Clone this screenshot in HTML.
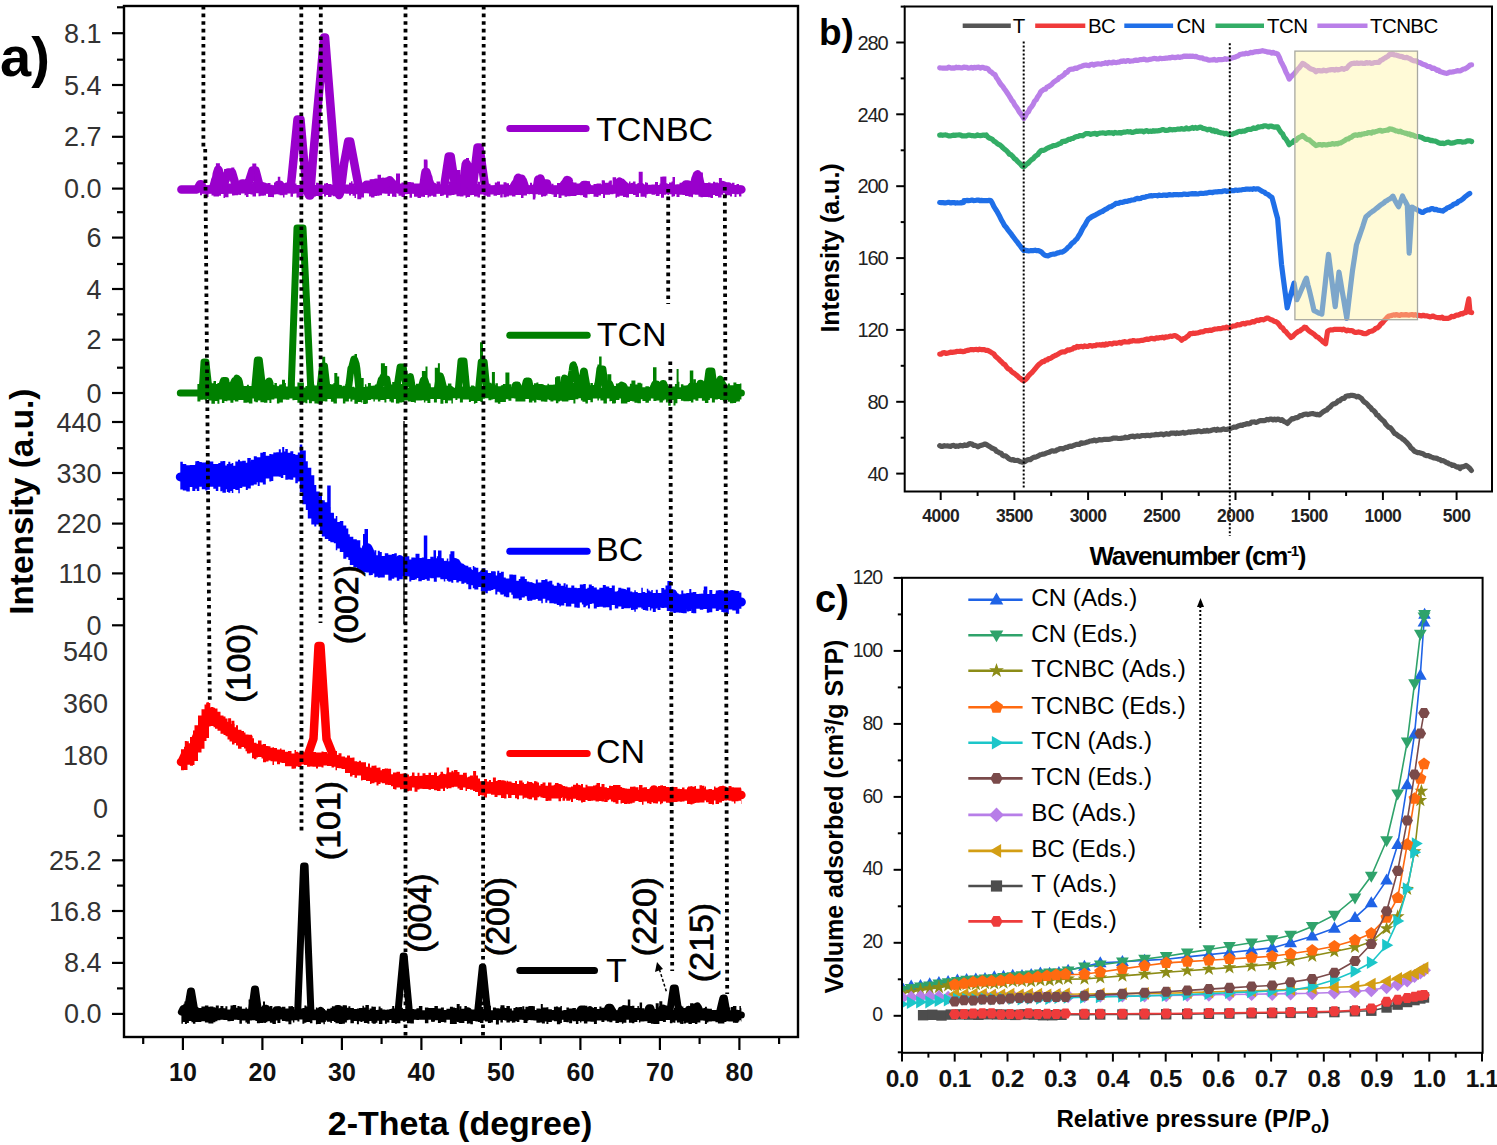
<!DOCTYPE html>
<html><head><meta charset="utf-8"><style>
html,body{margin:0;padding:0;background:#fff;width:1497px;height:1145px;overflow:hidden}
svg{display:block}
text{font-family:"Liberation Sans", sans-serif}
</style></head><body>
<svg width="1497" height="1145" viewBox="0 0 1497 1145">
<rect width="1497" height="1145" fill="#fff"/>
<polygon points="200,182.3 202,182.3 202,182.1 205.5,182.1 205.5,185.4 208.5,185.4 208.5,185.3 211.5,185.3 211.5,184.1 213.5,184.1 213.5,181.4 216.5,181.4 216.5,184.1 219,184.1 219,184.9 221,184.9 221,184.9 223.5,184.9 223.5,183 225,183 225,182.1 228.5,182.1 228.5,183.4 232,183.4 232,181.9 234.5,181.9 234.5,182.6 236.5,182.6 236.5,183.1 238,183.1 238,184.4 239.5,184.4 239.5,184.9 241,184.9 241,182.7 244.5,182.7 244.5,184.9 246,184.9 246,182.2 248.5,182.2 248.5,185.1 250.5,185.1 250.5,183.6 252.5,183.6 252.5,181.6 256,181.6 256,184.4 258.5,184.4 258.5,184 260.5,184 260.5,182.5 264,182.5 264,183.1 266,183.1 266,183.2 268,183.2 268,182.9 270.5,182.9 270.5,184.8 272.5,184.8 272.5,185.8 274,185.8 274,182.6 275.5,182.6 275.5,181.2 278,181.2 278,183.6 279.5,183.6 279.5,183 283,183 283,183 284.5,183 284.5,184.5 287.5,184.5 287.5,181.4 290.5,181.4 290.5,183.7 293,183.7 293,183.1 294.5,183.1 294.5,183.4 296.5,183.4 296.5,184.9 300,184.9 300,182.5 303.5,182.5 303.5,181.5 306.5,181.5 306.5,182.7 309,182.7 309,181.5 311,181.5 311,184.7 314.5,184.7 314.5,185.1 316,185.1 316,182.8 318,182.8 318,183 319.5,183 319.5,184.3 322.5,184.3 322.5,185.3 324,185.3 324,183.4 326,183.4 326,183.1 328,183.1 328,184 331.5,184 331.5,184.8 333,184.8 333,181.8 336,181.8 336,184.3 338,184.3 338,183.7 341.5,183.7 341.5,181.6 343.5,181.6 343.5,184.5 345.5,184.5 345.5,184.5 349,184.5 349,182.7 351,182.7 351,181.3 352.5,181.3 352.5,183.5 354.5,183.5 354.5,185.6 356,185.6 356,184.8 358.5,184.8 358.5,182 361,182 361,185.2 364,185.2 364,181.5 367.5,181.5 367.5,181.7 369,181.7 369,185.8 371,185.8 371,184.9 374.5,184.9 374.5,184.1 377,184.1 377,185.4 378.5,185.4 378.5,181.6 382,181.6 382,184.8 384.5,184.8 384.5,182.7 387.5,182.7 387.5,185 390,185 390,182.6 392,182.6 392,183.1 395,183.1 395,183.7 396.5,183.7 396.5,184.9 398.5,184.9 398.5,183.4 401.5,183.4 401.5,182.5 405,182.5 405,182.8 407.5,182.8 407.5,183.1 409.5,183.1 409.5,185.6 412,185.6 412,182.6 414,182.6 414,183.6 417.5,183.6 417.5,183.5 421,183.5 421,182.3 423.5,182.3 423.5,181.2 425,181.2 425,185.5 427.5,185.5 427.5,182.3 429,182.3 429,183.3 431,183.3 431,184.3 433,184.3 433,184.4 436.5,184.4 436.5,181.4 440,181.4 440,184.5 442.5,184.5 442.5,182 444,182 444,185.9 446,185.9 446,184.9 448.5,184.9 448.5,181.4 451.5,181.4 451.5,185.6 454.5,185.6 454.5,185.7 456.5,185.7 456.5,185.8 460,185.8 460,184.1 463.5,184.1 463.5,183.1 465.5,183.1 465.5,182.3 467,182.3 467,183.5 470,183.5 470,181.2 471.5,181.2 471.5,185.6 474,185.6 474,183.9 477.5,183.9 477.5,181.7 480,181.7 480,184.8 483.5,184.8 483.5,184.9 487,184.9 487,183.7 490.5,183.7 490.5,185.8 493.5,185.8 493.5,185.2 497,185.2 497,181.4 500,181.4 500,184.6 503.5,184.6 503.5,182.3 506.5,182.3 506.5,183.3 509,183.3 509,185.1 512,185.1 512,183.8 515.5,183.8 515.5,183.1 517.5,183.1 517.5,183.6 521,183.6 521,183.4 523.5,183.4 523.5,184.5 527,184.5 527,185.5 528.5,185.5 528.5,185.5 530,185.5 530,182.7 532,182.7 532,184.7 533.5,184.7 533.5,184.1 535.5,184.1 535.5,185.3 538,185.3 538,181.5 541,181.5 541,183.8 543,183.8 543,181.8 546,181.8 546,185.1 547.5,185.1 547.5,184.1 549.5,184.1 549.5,185.9 551.5,185.9 551.5,183.7 553.5,183.7 553.5,185.8 557,185.8 557,183.1 559.5,183.1 559.5,183.1 561,183.1 561,184.1 564.5,184.1 564.5,182.6 567,182.6 567,185.1 570.5,185.1 570.5,182.8 573,182.8 573,182.4 576.5,182.4 576.5,183.4 580,183.4 580,184.1 583,184.1 583,185.5 584.5,185.5 584.5,182.7 587.5,182.7 587.5,181.2 590,181.2 590,185.8 593.5,185.8 593.5,184 596.5,184 596.5,183.6 598.5,183.6 598.5,183.5 601,183.5 601,184.3 603,184.3 603,181.3 605,181.3 605,182.8 608.5,182.8 608.5,181.6 610,181.6 610,185.4 613.5,185.4 613.5,183.1 615.5,183.1 615.5,185.6 617,185.6 617,185.7 619.5,185.7 619.5,183.6 623,183.6 623,183.3 626,183.3 626,185.5 629,185.5 629,181.6 630.5,181.6 630.5,185.5 633,185.5 633,181.6 635.5,181.6 635.5,184.9 639,184.9 639,184.4 640.5,184.4 640.5,184.7 642,184.7 642,185 645,185 645,182.2 646.5,182.2 646.5,182.8 648,182.8 648,184.7 651.5,184.7 651.5,184.5 655,184.5 655,182 658,182 658,184.9 659.5,184.9 659.5,183.6 661,183.6 661,184.2 664,184.2 664,182.5 666,182.5 666,184.8 667.5,184.8 667.5,184 669,184 669,182.4 671.5,182.4 671.5,181.5 673.5,181.5 673.5,183.5 675,183.5 675,184.4 676.5,184.4 676.5,184.3 679.5,184.3 679.5,182.7 682.5,182.7 682.5,185.5 685,185.5 685,182.5 688.5,182.5 688.5,181.4 691.5,181.4 691.5,183.2 693,183.2 693,181.1 695,181.1 695,184 698.5,184 698.5,182.9 700.5,182.9 700.5,182.7 703,182.7 703,182.8 704.5,182.8 704.5,183.1 708,183.1 708,182.6 710.5,182.6 710.5,183.3 713,183.3 713,181.7 715,181.7 715,182.5 718,182.5 718,183.3 720,183.3 720,185.3 721.5,185.3 721.5,181.2 723,181.2 723,182.9 725,182.9 725,183.6 727,183.6 727,183.9 730,183.9 730,184.8 732,184.8 732,182.7 734.5,182.7 734.5,185.1 736.5,185.1 736.5,184.1 739,184.1 739,185.4 741.4,185.4 741.4,196.5 739,196.5 739,194.3 736.5,194.3 736.5,197.1 734.5,197.1 734.5,193.7 732,193.7 732,196.4 730,196.4 730,195.2 727,195.2 727,197.3 725,197.3 725,193.2 723,193.2 723,194.8 721.5,194.8 721.5,197.6 720,197.6 720,197.4 718,197.4 718,196 715,196 715,195 713,195 713,197.9 710.5,197.9 710.5,197.3 708,197.3 708,197 704.5,197 704.5,196.9 703,196.9 703,197.2 700.5,197.2 700.5,196.8 698.5,196.8 698.5,194.8 695,194.8 695,194.5 693,194.5 693,197.2 691.5,197.2 691.5,196.8 688.5,196.8 688.5,196.1 685,196.1 685,195 682.5,195 682.5,194.8 679.5,194.8 679.5,197 676.5,197 676.5,194.3 675,194.3 675,196.3 673.5,196.3 673.5,196.7 671.5,196.7 671.5,194.3 669,194.3 669,195 667.5,195 667.5,194.2 666,194.2 666,194.8 664,194.8 664,197.8 661,197.8 661,194 659.5,194 659.5,195.5 658,195.5 658,194.3 655,194.3 655,194.7 651.5,194.7 651.5,193.6 648,193.6 648,194.3 646.5,194.3 646.5,197.8 645,197.8 645,196.8 642,196.8 642,196.8 640.5,196.8 640.5,193.3 639,193.3 639,197 635.5,197 635.5,195 633,195 633,194 630.5,194 630.5,193.9 629,193.9 629,197.5 626,197.5 626,197.1 623,197.1 623,195.8 619.5,195.8 619.5,196.7 617,196.7 617,197.7 615.5,197.7 615.5,193.2 613.5,193.2 613.5,194.2 610,194.2 610,194.8 608.5,194.8 608.5,194.8 605,194.8 605,197.9 603,197.9 603,193.9 601,193.9 601,195.4 598.5,195.4 598.5,196.9 596.5,196.9 596.5,196.7 593.5,196.7 593.5,194.1 590,194.1 590,194.2 587.5,194.2 587.5,197.7 584.5,197.7 584.5,197 583,197 583,195.2 580,195.2 580,195.1 576.5,195.1 576.5,196 573,196 573,196.1 570.5,196.1 570.5,196.2 567,196.2 567,196.8 564.5,196.8 564.5,195.4 561,195.4 561,196 559.5,196 559.5,194.2 557,194.2 557,197.1 553.5,197.1 553.5,194.6 551.5,194.6 551.5,193.9 549.5,193.9 549.5,193.3 547.5,193.3 547.5,195.4 546,195.4 546,196.2 543,196.2 543,196.8 541,196.8 541,194.8 538,194.8 538,194.3 535.5,194.3 535.5,197.7 533.5,197.7 533.5,194.2 532,194.2 532,194.1 530,194.1 530,194.2 528.5,194.2 528.5,193.7 527,193.7 527,195.6 523.5,195.6 523.5,197.9 521,197.9 521,195 517.5,195 517.5,194.9 515.5,194.9 515.5,196.4 512,196.4 512,195.6 509,195.6 509,196.5 506.5,196.5 506.5,197.2 503.5,197.2 503.5,194.2 500,194.2 500,194.9 497,194.9 497,195.7 493.5,195.7 493.5,194.6 490.5,194.6 490.5,196.7 487,196.7 487,195.8 483.5,195.8 483.5,194.6 480,194.6 480,197.5 477.5,197.5 477.5,196.5 474,196.5 474,194.9 471.5,194.9 471.5,195.2 470,195.2 470,197 467,197 467,197.8 465.5,197.8 465.5,195.4 463.5,195.4 463.5,196.4 460,196.4 460,196.2 456.5,196.2 456.5,194.4 454.5,194.4 454.5,195.1 451.5,195.1 451.5,195.5 448.5,195.5 448.5,197.8 446,197.8 446,194.8 444,194.8 444,195.5 442.5,195.5 442.5,195.9 440,195.9 440,193.6 436.5,193.6 436.5,196.8 433,196.8 433,195.7 431,195.7 431,196.6 429,196.6 429,197.5 427.5,197.5 427.5,195.1 425,195.1 425,197.1 423.5,197.1 423.5,196.8 421,196.8 421,197.9 417.5,197.9 417.5,196.8 414,196.8 414,193.6 412,193.6 412,197.7 409.5,197.7 409.5,194.1 407.5,194.1 407.5,194.3 405,194.3 405,197 401.5,197 401.5,195.8 398.5,195.8 398.5,193.3 396.5,193.3 396.5,197 395,197 395,196.7 392,196.7 392,193.8 390,193.8 390,195.9 387.5,195.9 387.5,193.8 384.5,193.8 384.5,193.6 382,193.6 382,195.2 378.5,195.2 378.5,193.7 377,193.7 377,196.1 374.5,196.1 374.5,197.5 371,197.5 371,196.5 369,196.5 369,193.4 367.5,193.4 367.5,193.2 364,193.2 364,197.6 361,197.6 361,196 358.5,196 358.5,194.3 356,194.3 356,197.9 354.5,197.9 354.5,195.8 352.5,195.8 352.5,194.1 351,194.1 351,195.4 349,195.4 349,193.7 345.5,193.7 345.5,193.4 343.5,193.4 343.5,195.3 341.5,195.3 341.5,196.5 338,196.5 338,194.3 336,194.3 336,196.2 333,196.2 333,195.6 331.5,195.6 331.5,197 328,197 328,194.9 326,194.9 326,196.6 324,196.6 324,194.1 322.5,194.1 322.5,196.6 319.5,196.6 319.5,196.3 318,196.3 318,196 316,196 316,196.6 314.5,196.6 314.5,197.2 311,197.2 311,194.1 309,194.1 309,197.8 306.5,197.8 306.5,193.9 303.5,193.9 303.5,196.7 300,196.7 300,197.5 296.5,197.5 296.5,193.6 294.5,193.6 294.5,193.8 293,193.8 293,196.8 290.5,196.8 290.5,193.6 287.5,193.6 287.5,194.7 284.5,194.7 284.5,197.4 283,197.4 283,195.3 279.5,195.3 279.5,194.5 278,194.5 278,194.2 275.5,194.2 275.5,194.4 274,194.4 274,197.3 272.5,197.3 272.5,196.9 270.5,196.9 270.5,197.1 268,197.1 268,193.4 266,193.4 266,195.5 264,195.5 264,195.8 260.5,195.8 260.5,196.3 258.5,196.3 258.5,193.2 256,193.2 256,196.5 252.5,196.5 252.5,194.5 250.5,194.5 250.5,194.1 248.5,194.1 248.5,196.9 246,196.9 246,195.3 244.5,195.3 244.5,193.4 241,193.4 241,194.9 239.5,194.9 239.5,194.8 238,194.8 238,195.2 236.5,195.2 236.5,195.2 234.5,195.2 234.5,195.5 232,195.5 232,193.8 228.5,193.8 228.5,197.3 225,197.3 225,197.9 223.5,197.9 223.5,193.9 221,193.9 221,195.8 219,195.8 219,196.4 216.5,196.4 216.5,196.5 213.5,196.5 213.5,195.5 211.5,195.5 211.5,193.2 208.5,193.2 208.5,197 205.5,197 205.5,193.6 202,193.6 202,195.2 200,195.2" fill="#9900cc"/>
<polyline points="181.4,189.5 183,189.5 184.6,189.5 186.2,189.5 187.8,189.5 189.4,189.5 191,189.5 192.6,189.5 194.2,189.5 195.8,189.5 197,189.5 197.4,188.8 199,186.1 200.1,184.3 200.6,184.3 201.1,184.3 202.2,187.9 202.7,189.5 203.8,189.5 205.4,189.5 207,189.5 208.6,189.5 210.2,189.5 211.8,189.5 212.6,189.5 213.3,187.8 213.4,187.4 215,181.3 215.2,180.3 215.9,178.8 216.2,177.8 216.6,175.3 216.8,173.9 217.3,172.2 218.2,169.7 218.2,169.6 218.3,169.6 218.6,170.1 218.9,171.3 219.8,175.6 220.3,178.3 221,182.5 221.4,184.9 221.7,186.7 222,187.6 222.5,187.6 222.9,187 223,186.7 224.6,182.1 226.2,177.6 227.8,173.1 228,172.5 229.4,172.5 231,172.5 232,172.5 232.6,174.5 234.2,180 235.8,185.4 237,189.5 237.4,189.5 239,189.5 240.6,186.3 242,183.5 242.2,183.5 243.8,183.5 244,183.5 245.4,186.3 246.5,188.5 247,187.9 248.6,182.9 250.2,177.8 251.8,172.7 252.5,170.5 253.4,170.5 255,170.5 255.5,170.5 256.6,174.7 258.2,180.8 259.8,186.8 260,187.6 260.5,189 261.4,188.2 263,186.7 263.2,186.5 263.6,186.5 264.6,188.3 265.2,189.5 266.2,189.5 267.8,189.5 269.4,189.5 271,189.5 272.6,189.5 274.2,189.5 275.8,189.5 276.1,189.5 277.4,187.3 278.8,184.8 279,184.8 280.1,184.8 280.6,185.7 282.2,188.5 282.8,189.5 283.8,189.5 285.2,189.5 285.4,189.2 287,186.8 287.3,186.4 287.5,186.4 288.6,187.2 290.2,188.6 290.5,188.8 291.3,181.1 291.8,176.5 293.4,160.5 295,144.5 296.6,128.5 297.5,119.5 298.2,119.5 299.8,119.5 300.5,119.5 301.4,130 303,148.7 304.6,167.3 306.1,184.8 306.2,186.2 306.5,190.3 307.8,192.9 309.1,195.5 309.4,195.5 310.1,195.5 311,183.9 312.6,163.4 313.1,156.9 314.2,145 315.8,127.6 317.4,110.2 319,92.9 320.6,75.5 322.2,58.1 323.8,40.8 324.1,37.5 325.1,37.5 325.4,41.3 327,61.6 328.6,81.8 330.2,102.1 331.8,122.4 333.4,142.6 335,162.9 336.6,183.2 337.1,189.5 338.2,192.4 339.2,195.1 339.8,193.5 340.1,192.7 341.1,187.4 341.4,185 343,172.2 344.1,163.4 344.6,160.7 346.2,152.2 347.8,143.6 348.2,141.5 349.4,141.5 350.2,141.5 351,145.8 352.6,154.3 354.2,162.8 355.8,171.4 357.4,179.9 359,188.4 359.2,189.5 360.6,189.5 362,189.5 362.2,189.3 363.8,187.5 365.4,185.7 366.4,184.7 367,184.7 368.6,184.7 369,184.7 370.2,186.1 371.1,187.2 371.8,186.5 372.1,186.1 372.8,184 373,183.9 373.3,183.4 373.4,183.5 375,183.9 375.1,183.9 375.7,182.8 376.6,182.8 376.7,182.9 378.2,188.7 378.4,189.5 378.8,189.5 379.8,187.6 381.4,184.6 382.9,181.8 383,181.8 383,181.8 383.5,182.9 384.6,183.1 386.2,183.2 386.4,183.2 387.3,181.2 387.8,181.2 388.7,181.2 389.4,180.5 389.7,180.2 391,181.7 392.6,183.6 392.6,183.6 393.6,185.8 394.2,185.8 394.8,185.8 395.8,186.7 397.4,188.1 399,189.5 399,189.5 400.6,189.5 402.2,189.5 403.3,189.5 403.8,189.1 405.4,187.9 407,186.7 407.7,186.2 408.6,186.2 410.2,186.2 410.4,186.2 411.8,188 412.9,189.5 413.4,189.5 415,189.5 416.6,189.5 418.2,189.5 419.8,189.5 421.4,189.5 421.6,189.5 423,186.1 423.7,184.3 424.6,177.2 424.8,175.8 425.5,171.9 426.2,171.9 426.4,171.9 427.8,176.4 428.1,177.4 428.3,177.6 428.9,180.9 429.4,182.2 429.8,183.1 430.5,186.4 431,186.4 432.6,186.4 432.7,186.4 434.2,187.6 435.8,189 436.5,189.5 437.4,189.5 439,189.5 440.6,189.5 442.2,189.5 443.7,189.5 443.8,188.8 445.4,178.3 447,167.7 448.6,157.2 448.7,156.5 450.2,156.5 450.7,156.5 451.8,163.8 453.4,174.3 455,184.9 455.6,188.8 455.7,189.2 456.6,187 457.9,183.8 458.2,183.8 459.8,183.8 459.8,183.9 461.4,188.6 461.7,189.5 461.9,189.5 462.8,186.5 463,185.4 463.8,180.9 464.2,176 464.6,173.2 465.7,164.6 466.2,163.5 466.3,163.2 466.4,163.2 467.8,165.8 468.4,166.9 468.6,167.8 469.4,173.8 470.7,183.5 471,185.1 472.5,188.9 472.6,188.3 472.7,187.5 474.2,175.2 475.8,161.8 477.4,148.3 477.5,147.5 479,147.5 479.5,147.5 480.6,155.2 482.2,166.4 483.8,177.6 485.4,188.8 485.5,189.5 487,189.5 488.6,189.5 490.2,189.5 491.8,189.5 493.4,189.5 495,189.5 496.6,189.5 498.2,189.5 499.8,189.5 501.4,189.5 503,189.5 504.6,189.5 506.2,189.5 507.8,189.5 509.4,189.5 511,189.5 512.3,189.5 512.6,188.8 514.2,185.7 515.3,183.6 515.8,183.6 516.4,183.5 517.4,180 517.9,178.2 518.3,177.8 519,179.6 519.3,180.4 519.9,179.6 520.3,180.1 520.6,179.8 521.6,178.7 522.2,180.4 522.4,180.8 522.9,180.8 523.8,183.6 525.4,188.5 525.7,189.5 527,189.5 528.6,189.5 530.2,189.5 531.8,189.5 533.4,189.5 535,189.5 536.6,189.5 536.6,189.5 538.2,179.8 538.3,179.4 539.7,179.3 539.8,179.3 540.4,178.5 541.4,181.8 542.6,185.7 543,185.2 544.2,183.6 544.6,183.6 546.2,183.6 547,183.6 547.8,186.6 548.6,189.5 549.4,189.5 551,189.5 552.6,189.5 554.2,189.5 555.8,189.5 557.4,189.5 559,189.5 560.6,189.5 561.2,189.5 562.2,187.7 563.8,184.8 564.4,183.7 565.2,183.7 565.4,183.3 566.8,180.1 567,180.1 568.6,180.6 568.8,180.7 568.8,180.8 569,182.4 570.2,187.8 570.6,189.5 571.8,189.5 573.4,189.5 575,189.5 576.6,189.5 578.2,189.5 579.8,189.5 580,189.5 581.4,187.8 583,185.8 583.5,185.1 584.6,185.1 586.2,185.1 586.2,185.1 587.8,187.7 588.9,189.5 589.4,189.5 591,189.5 592.6,189.5 594.2,189.5 595.8,189.5 597.4,189.5 599,189.5 600.6,189.5 602.2,189.5 603.8,189.5 605.4,189.5 607,189.5 608.6,189.5 610.2,189.5 611.8,189.5 613.4,189.5 615,189.5 615,189.5 615.2,189.4 616.6,186.2 617.4,184.3 618.2,183.2 619,182.1 619.5,181.7 619.8,181.9 621.4,182.6 621.6,182.7 621.7,182.7 623,184.2 623.5,184.8 624.6,185.6 625.3,186.1 626,187.2 626.2,187.2 627,187.2 627.8,187.7 628.4,188.1 629.4,188.1 630.5,188.1 631,187.8 632.3,187 632.6,187 632.6,187 634.2,188.8 634.8,189.5 635.8,189.5 636.2,189.5 637.4,188.6 639,187.5 639.8,186.9 640.6,186.9 641,186.9 642.2,187.9 643.8,189.2 644.2,189.5 645.4,189.5 647,189.5 648.6,189.5 650.2,189.5 651.8,189.5 653.4,189.5 655,189.5 656.6,189.5 658.2,189.5 659.8,189.5 661.4,189.5 663,189.5 663.5,189.5 664.6,188.2 665.4,187.3 665.5,187.3 666.2,187.8 667.8,188.8 668.8,189.5 669.4,189.5 671,189.5 672.6,189.5 674.2,189.5 675.8,189.5 677.4,189.5 679,189.5 680.6,189.5 681.2,189.5 682.2,188.4 683.8,186.6 685.4,184.9 685.6,184.6 687,184.6 688,184.6 688.6,185.8 690.2,188.9 690.5,189.5 691.8,189.5 692.1,189.5 693.4,186.8 693.9,185.8 695,181.2 695,181.1 695.4,179.1 696.6,175.9 696.9,174.9 697.6,174.5 698.2,175.3 698.4,175.6 698.7,176.5 699.8,181.7 699.9,182.2 700.9,187.6 701.1,188.4 701.4,188.7 702.2,189.5 703,189.5 704.6,189.5 706.2,189.5 707.8,189.5 709.4,189.5 711,189.5 712.6,189.5 714.2,189.5 715.8,189.5 717.4,189.5 719,189.5 720.5,189.5 720.6,189.4 721.5,187.4 722.1,185.5 722.2,185.5 722.7,185.1 723.8,185.6 725.4,186.4 725.8,186.5 727,186.5 728.5,186.5 728.6,186.6 730.2,188.1 731.7,189.5 731.8,189.5 733.4,189.5 735,189.5 736.6,189.5 738.2,189.5 739.8,189.5 741.4,189.5" fill="none" stroke="#9900cc" stroke-width="8.5" stroke-linejoin="round" stroke-linecap="round" stroke-linejoin="miter" stroke-miterlimit="2.5"/>
<path d="M377 188.8h2.5v6.9h-2.5zM279.8 186.5h2.5v7.4h-2.5zM672.5 189.5h2.5v-12.4h-2.5zM375 182.8h3v6.9h-3zM215.9 170.4h4v-7.2h-4zM638.7 186.9h4v-15.2h-4zM396 188.6h4v-15h-4zM698.7 185.3h3.5v10.4h-3.5zM558.5 189.5h3v8.4h-3zM456.8 183.8h3.5v-13.7h-3.5zM222.1 185.8h2.5v6.5h-2.5zM460.8 189.1h2.5v-7.2h-2.5zM423.8 171.9h3.5v-12.3h-3.5zM718.9 189.5h3v-11.5h-3zM655.8 189.5h3.5v6.6h-3.5zM357.3 189.5h4v9.7h-4zM224.1 180.8h2v-11.9h-2zM601.7 189.5h3v-9.2h-3zM532.8 189.5h2.5v10.1h-2.5zM612.6 189.5h3.5v-12.3h-3.5zM252.3 170.5h4v-7.1h-4zM231.3 175.3h3v-7.9h-3zM643.8 189.5h2.5v6.5h-2.5zM662.4 188.5h4v-11.9h-4zM609.4 189.5h2.5v-8.9h-2.5zM686.6 185.8h4v8.8h-4zM254.1 170.5h2.5v9.3h-2.5zM500.2 189.5h2.5v7.9h-2.5zM494.8 189.5h2.5v-7.1h-2.5zM225.4 174.2h4v7.5h-4zM277.8 184.8h2.5v-8.1h-2.5zM466 165.2h3v-7.1h-3zM631 187.2h2v6.8h-2zM202.5 189.5h2.5v-7.3h-2.5zM699.4 188.4h3.5v-15.9h-3.5zM660.3 189.5h4v-12.7h-4zM377.5 188.6h3.5v-13.8h-3.5zM369.6 187.2h3v-8h-3zM425.1 171.9h2.5v-11.3h-2.5zM580.9 186.2h3.5v6.5h-3.5z" fill="#9900cc"/>
<polygon points="197.4,383.9 200.4,383.9 200.4,386.2 202.9,386.2 202.9,383.7 204.9,383.7 204.9,387.6 206.9,387.6 206.9,387.8 208.4,387.8 208.4,382.6 211.4,382.6 211.4,386.6 213.4,386.6 213.4,382.8 214.9,382.8 214.9,383.9 217.4,383.9 217.4,383.1 219.4,383.1 219.4,385.6 221.9,385.6 221.9,387.1 224.4,387.1 224.4,387.4 225.9,387.4 225.9,387.6 227.4,387.6 227.4,382.3 230.4,382.3 230.4,385.3 233.4,385.3 233.4,382.5 234.9,382.5 234.9,383.8 238.4,383.8 238.4,384.8 241.9,384.8 241.9,385.7 243.4,385.7 243.4,386 246.9,386 246.9,384.8 248.9,384.8 248.9,386 252.4,386 252.4,382.4 253.9,382.4 253.9,385.6 255.4,385.6 255.4,386.7 257.9,386.7 257.9,383.6 260.4,383.6 260.4,383.5 261.9,383.5 261.9,386.6 263.9,386.6 263.9,387.5 267.4,387.5 267.4,382.4 269.4,382.4 269.4,383.3 271.4,383.3 271.4,385.5 274.4,385.5 274.4,382.9 276.9,382.9 276.9,387 279.4,387 279.4,384.4 282.9,384.4 282.9,383 285.9,383 285.9,386.6 289.4,386.6 289.4,384 292.4,384 292.4,382.5 294.4,382.5 294.4,386.4 297.4,386.4 297.4,382.5 300.9,382.5 300.9,382.5 303.9,382.5 303.9,387.6 305.4,387.6 305.4,386 307.4,386 307.4,384.6 308.9,384.6 308.9,384.9 311.9,384.9 311.9,384.6 314.4,384.6 314.4,385.5 317.4,385.5 317.4,384.5 319.9,384.5 319.9,384.7 322.9,384.7 322.9,384.1 324.9,384.1 324.9,386.7 327.4,386.7 327.4,384 330.9,384 330.9,386.7 333.4,386.7 333.4,383 336.9,383 336.9,385.5 340.4,385.5 340.4,387.3 342.9,387.3 342.9,385.8 345.4,385.8 345.4,383.9 348.9,383.9 348.9,386 350.4,386 350.4,387.1 352.4,387.1 352.4,386.8 354.4,386.8 354.4,387.4 357.9,387.4 357.9,385.2 360.9,385.2 360.9,385.3 362.4,385.3 362.4,386.9 364.9,386.9 364.9,384.2 366.4,384.2 366.4,386.6 367.9,386.6 367.9,383 370.9,383 370.9,385.8 373.4,385.8 373.4,385.6 374.9,385.6 374.9,384.6 377.9,384.6 377.9,383.8 380.4,383.8 380.4,382.9 382.9,382.9 382.9,386.2 384.4,386.2 384.4,385.3 386.4,385.3 386.4,385.4 389.4,385.4 389.4,386 390.9,386 390.9,384.5 393.9,384.5 393.9,384.4 395.9,384.4 395.9,383.7 399.4,383.7 399.4,384.1 402.4,384.1 402.4,382.7 404.4,382.7 404.4,384.1 407.9,384.1 407.9,387.8 410.9,387.8 410.9,383.2 414.4,383.2 414.4,385.3 415.9,385.3 415.9,383.7 418.4,383.7 418.4,383.8 421.9,383.8 421.9,383.4 423.9,383.4 423.9,386.3 425.4,386.3 425.4,386.8 427.4,386.8 427.4,385.3 430.4,385.3 430.4,387.2 433.9,387.2 433.9,387 436.9,387 436.9,383.8 440.4,383.8 440.4,382.6 443.4,382.6 443.4,384.3 444.9,384.3 444.9,386.7 447.9,386.7 447.9,383.5 451.4,383.5 451.4,387.8 452.9,387.8 452.9,387.7 455.4,387.7 455.4,387.5 457.4,387.5 457.4,385.3 459.9,385.3 459.9,386.5 462.9,386.5 462.9,385.2 466.4,385.2 466.4,386.6 468.9,386.6 468.9,386.7 470.9,386.7 470.9,385.4 473.9,385.4 473.9,386.2 475.4,386.2 475.4,386.9 477.4,386.9 477.4,384.1 480.4,384.1 480.4,387.6 482.9,387.6 482.9,384.3 484.9,384.3 484.9,382.8 488.4,382.8 488.4,382.7 491.4,382.7 491.4,384.8 493.4,384.8 493.4,387.3 495.4,387.3 495.4,383.3 497.9,383.3 497.9,386.3 500.4,386.3 500.4,387.6 502.9,387.6 502.9,383.9 505.9,383.9 505.9,386 508.4,386 508.4,384.2 511.4,384.2 511.4,387.3 513.9,387.3 513.9,383.5 515.4,383.5 515.4,384 518.4,384 518.4,387 521.9,387 521.9,385.8 525.4,385.8 525.4,387.1 528.9,387.1 528.9,383.5 532.4,383.5 532.4,385.1 533.9,385.1 533.9,383.2 536.4,383.2 536.4,382.5 538.4,382.5 538.4,383.9 540.9,383.9 540.9,385.1 544.4,385.1 544.4,385.3 547.4,385.3 547.4,383.8 548.9,383.8 548.9,384.8 550.4,384.8 550.4,384.8 553.4,384.8 553.4,384.4 555.9,384.4 555.9,386.1 558.4,386.1 558.4,384.4 559.9,384.4 559.9,387 561.9,387 561.9,382.5 565.4,382.5 565.4,383.6 568.4,383.6 568.4,383.2 569.9,383.2 569.9,383.1 573.4,383.1 573.4,382.7 575.4,382.7 575.4,386.9 578.4,386.9 578.4,382.8 580.9,382.8 580.9,383.7 582.4,383.7 582.4,383.2 585.4,383.2 585.4,384 587.9,384 587.9,385.3 590.4,385.3 590.4,382.9 592.9,382.9 592.9,385.1 594.4,385.1 594.4,382.8 597.4,382.8 597.4,385.2 598.9,385.2 598.9,383 600.4,383 600.4,387.7 603.4,387.7 603.4,387.3 606.9,387.3 606.9,386.9 609.4,386.9 609.4,386.4 610.9,386.4 610.9,384.7 612.4,384.7 612.4,386 615.9,386 615.9,383.4 619.4,383.4 619.4,385.5 620.9,385.5 620.9,386.5 624.4,386.5 624.4,387.6 627.4,387.6 627.4,386.6 629.9,386.6 629.9,383.7 632.4,383.7 632.4,384.2 634.4,384.2 634.4,384.4 637.4,384.4 637.4,382.7 640.9,382.7 640.9,383.5 642.4,383.5 642.4,387.3 645.4,387.3 645.4,386.2 648.9,386.2 648.9,387.1 650.9,387.1 650.9,386.5 653.4,386.5 653.4,383.2 656.4,383.2 656.4,385.6 659.4,385.6 659.4,385.4 662.9,385.4 662.9,387.4 664.4,387.4 664.4,383.5 665.9,383.5 665.9,384.2 667.9,384.2 667.9,386.2 671.4,386.2 671.4,386.6 674.9,386.6 674.9,384 677.4,384 677.4,387.2 680.9,387.2 680.9,384.3 683.4,384.3 683.4,385.4 686.4,385.4 686.4,385.2 689.4,385.2 689.4,383.4 690.9,383.4 690.9,387.5 693.4,387.5 693.4,382.9 695.4,382.9 695.4,382.8 696.9,382.8 696.9,383.3 698.4,383.3 698.4,382.6 701.9,382.6 701.9,385.9 704.9,385.9 704.9,382.4 708.4,382.4 708.4,384 709.9,384 709.9,383.4 711.9,383.4 711.9,384.6 714.9,384.6 714.9,383.1 717.9,383.1 717.9,384.7 719.9,384.7 719.9,384.5 722.9,384.5 722.9,384.2 726.4,384.2 726.4,385.6 727.9,385.6 727.9,383.5 729.9,383.5 729.9,385.3 733.4,385.3 733.4,382.6 736.4,382.6 736.4,384.1 739.9,384.1 739.9,383.5 741.4,383.5 741.4,399.5 739.9,399.5 739.9,401.5 736.4,401.5 736.4,401.9 733.4,401.9 733.4,403.3 729.9,403.3 729.9,401.7 727.9,401.7 727.9,399.9 726.4,399.9 726.4,401.6 722.9,401.6 722.9,400 719.9,400 719.9,399.1 717.9,399.1 717.9,399.6 714.9,399.6 714.9,402.6 711.9,402.6 711.9,398.2 709.9,398.2 709.9,400.1 708.4,400.1 708.4,403.1 704.9,403.1 704.9,400.8 701.9,400.8 701.9,398.2 698.4,398.2 698.4,400.8 696.9,400.8 696.9,400.8 695.4,400.8 695.4,399.6 693.4,399.6 693.4,402.6 690.9,402.6 690.9,401 689.4,401 689.4,401.3 686.4,401.3 686.4,401.2 683.4,401.2 683.4,400.7 680.9,400.7 680.9,398.9 677.4,398.9 677.4,403.2 674.9,403.2 674.9,400 671.4,400 671.4,400.9 667.9,400.9 667.9,402.5 665.9,402.5 665.9,399.4 664.4,399.4 664.4,400.6 662.9,400.6 662.9,402.6 659.4,402.6 659.4,400.5 656.4,400.5 656.4,400.9 653.4,400.9 653.4,398.6 650.9,398.6 650.9,400.7 648.9,400.7 648.9,402.7 645.4,402.7 645.4,400.9 642.4,400.9 642.4,399.3 640.9,399.3 640.9,403.2 637.4,403.2 637.4,402.8 634.4,402.8 634.4,401.4 632.4,401.4 632.4,401.1 629.9,401.1 629.9,401.9 627.4,401.9 627.4,403.5 624.4,403.5 624.4,403.5 620.9,403.5 620.9,398.5 619.4,398.5 619.4,400 615.9,400 615.9,403.1 612.4,403.1 612.4,401.1 610.9,401.1 610.9,401.2 609.4,401.2 609.4,398.4 606.9,398.4 606.9,403.4 603.4,403.4 603.4,400.6 600.4,400.6 600.4,398.4 598.9,398.4 598.9,400.6 597.4,400.6 597.4,398.5 594.4,398.5 594.4,398.5 592.9,398.5 592.9,402.3 590.4,402.3 590.4,400.1 587.9,400.1 587.9,403.4 585.4,403.4 585.4,401.8 582.4,401.8 582.4,400.6 580.9,400.6 580.9,398.3 578.4,398.3 578.4,399.2 575.4,399.2 575.4,403.5 573.4,403.5 573.4,399.9 569.9,399.9 569.9,400.2 568.4,400.2 568.4,401.6 565.4,401.6 565.4,401.5 561.9,401.5 561.9,400.7 559.9,400.7 559.9,401.5 558.4,401.5 558.4,403.3 555.9,403.3 555.9,400.5 553.4,400.5 553.4,401.5 550.4,401.5 550.4,400.3 548.9,400.3 548.9,399.6 547.4,399.6 547.4,401.7 544.4,401.7 544.4,401.4 540.9,401.4 540.9,400.2 538.4,400.2 538.4,399.8 536.4,399.8 536.4,402.5 533.9,402.5 533.9,400.7 532.4,400.7 532.4,402.6 528.9,402.6 528.9,399.1 525.4,399.1 525.4,401.6 521.9,401.6 521.9,401.4 518.4,401.4 518.4,401.5 515.4,401.5 515.4,398.4 513.9,398.4 513.9,398.3 511.4,398.3 511.4,400.7 508.4,400.7 508.4,399.2 505.9,399.2 505.9,401.9 502.9,401.9 502.9,401.9 500.4,401.9 500.4,403.8 497.9,403.8 497.9,400.8 495.4,400.8 495.4,399 493.4,399 493.4,399.6 491.4,399.6 491.4,400.2 488.4,400.2 488.4,398.2 484.9,398.2 484.9,398.8 482.9,398.8 482.9,402.1 480.4,402.1 480.4,401.1 477.4,401.1 477.4,403 475.4,403 475.4,403.8 473.9,403.8 473.9,400.9 470.9,400.9 470.9,401.9 468.9,401.9 468.9,399.6 466.4,399.6 466.4,399.5 462.9,399.5 462.9,402.4 459.9,402.4 459.9,398.6 457.4,398.6 457.4,400 455.4,400 455.4,398.3 452.9,398.3 452.9,403.6 451.4,403.6 451.4,400.4 447.9,400.4 447.9,403.3 444.9,403.3 444.9,400 443.4,400 443.4,403.7 440.4,403.7 440.4,399.1 436.9,399.1 436.9,402.5 433.9,402.5 433.9,398.9 430.4,398.9 430.4,403 427.4,403 427.4,400.8 425.4,400.8 425.4,402.4 423.9,402.4 423.9,400.2 421.9,400.2 421.9,400.5 418.4,400.5 418.4,400.6 415.9,400.6 415.9,402.8 414.4,402.8 414.4,402.1 410.9,402.1 410.9,401.4 407.9,401.4 407.9,400.5 404.4,400.5 404.4,402.1 402.4,402.1 402.4,402.6 399.4,402.6 399.4,403.6 395.9,403.6 395.9,399.1 393.9,399.1 393.9,402.5 390.9,402.5 390.9,401.4 389.4,401.4 389.4,398.9 386.4,398.9 386.4,402.5 384.4,402.5 384.4,399.9 382.9,399.9 382.9,400 380.4,400 380.4,401.4 377.9,401.4 377.9,399.5 374.9,399.5 374.9,401.4 373.4,401.4 373.4,399.3 370.9,399.3 370.9,400.1 367.9,400.1 367.9,403.5 366.4,403.5 366.4,403.3 364.9,403.3 364.9,399.9 362.4,399.9 362.4,402.5 360.9,402.5 360.9,402 357.9,402 357.9,403.7 354.4,403.7 354.4,399.8 352.4,399.8 352.4,401.4 350.4,401.4 350.4,398.8 348.9,398.8 348.9,401.6 345.4,401.6 345.4,403.6 342.9,403.6 342.9,398.4 340.4,398.4 340.4,398.6 336.9,398.6 336.9,403.5 333.4,403.5 333.4,401.8 330.9,401.8 330.9,398.9 327.4,398.9 327.4,401.5 324.9,401.5 324.9,401.2 322.9,401.2 322.9,403.2 319.9,403.2 319.9,403.7 317.4,403.7 317.4,403.5 314.4,403.5 314.4,401.3 311.9,401.3 311.9,403.3 308.9,403.3 308.9,399.8 307.4,399.8 307.4,403.3 305.4,403.3 305.4,402.5 303.9,402.5 303.9,402.8 300.9,402.8 300.9,402.7 297.4,402.7 297.4,399.9 294.4,399.9 294.4,400.2 292.4,400.2 292.4,398.6 289.4,398.6 289.4,399.7 285.9,399.7 285.9,399.6 282.9,399.6 282.9,402.6 279.4,402.6 279.4,403.6 276.9,403.6 276.9,398.5 274.4,398.5 274.4,399.5 271.4,399.5 271.4,402.9 269.4,402.9 269.4,400.2 267.4,400.2 267.4,402.8 263.9,402.8 263.9,402.3 261.9,402.3 261.9,402.3 260.4,402.3 260.4,400.6 257.9,400.6 257.9,402.2 255.4,402.2 255.4,401.5 253.9,401.5 253.9,398.6 252.4,398.6 252.4,403.5 248.9,403.5 248.9,402.5 246.9,402.5 246.9,402.7 243.4,402.7 243.4,399.9 241.9,399.9 241.9,400.1 238.4,400.1 238.4,401.5 234.9,401.5 234.9,400.3 233.4,400.3 233.4,402.7 230.4,402.7 230.4,400.5 227.4,400.5 227.4,401.3 225.9,401.3 225.9,401.1 224.4,401.1 224.4,403.1 221.9,403.1 221.9,399.5 219.4,399.5 219.4,403.7 217.4,403.7 217.4,401.1 214.9,401.1 214.9,403.8 213.4,403.8 213.4,403.7 211.4,403.7 211.4,400.5 208.4,400.5 208.4,399.1 206.9,399.1 206.9,400.6 204.9,400.6 204.9,399.4 202.9,399.4 202.9,399.7 200.4,399.7 200.4,401.6 197.4,401.6" fill="#008000"/>
<polyline points="180.3,393 181.9,393 183.5,393 185.1,393 186.7,393 188.3,393 189.9,393 191.5,393 193.1,393 194.7,393 196.3,393 197.9,393 199.5,393 201.1,393 202,393 202.7,382.2 204,362 204.3,362 205.9,362 206,362 206.7,369.4 207.5,376.3 209,389.6 209.1,389.5 210.7,387.1 210.9,386.8 212.3,386.8 213.1,386.8 213.9,389.8 214.8,393 215.5,393 217.1,393 218.7,393 219.3,393 220.3,390 221.9,385.2 223.4,380.5 223.5,380.5 225.1,380.5 225.8,380.5 226.7,387.8 227.3,392.6 227.4,392.9 228.3,391.2 229.9,388.3 230,388.1 231.4,388.1 231.5,387.8 231.5,387.7 233.1,383.9 234.4,380.8 234.7,381.2 234.8,381.3 235.3,381.3 236.3,379.3 236.8,378.2 237.9,379.2 238.7,379.8 239.4,381.9 239.5,382.5 240.7,389 241.1,389.8 242.5,393 242.7,393 244.3,393 245.9,393 247.5,393 249.1,393 250.7,393 252.3,393 253.9,393 254.3,393 255.5,379.8 257.1,362.2 257.3,360 258.7,360 259.3,360 260.3,368.2 261.9,381.4 263.3,393 263.5,393 264.1,393 265.1,391.1 265.7,389.9 266.7,386.4 267.8,382.7 268.3,381.9 268.9,381 269.3,381 269.9,382.8 269.9,382.9 270.9,390.5 271.5,393 272.2,393 273.1,390.8 273.9,388.8 274.7,388.8 275.6,388.8 276.3,389.9 277.8,392.3 277.9,392.3 278.2,392.3 279.5,390.5 281.1,388.2 281.1,388.2 282.7,388.2 282.7,388.2 284.3,390.2 285.9,392.2 286.5,393 287.5,393 289.1,393 290.7,393 291,393 292.3,357.2 293.9,313.3 295.5,269.2 297,228 297.1,228 298.7,228 300.3,228 301.9,228 303,228 303.5,238.3 305.1,271.3 306.7,304.3 308.3,337.3 309.9,370.3 311,393 311.5,393 313.1,393 314.7,393 316.3,393 317.9,393 319.5,393 321.1,378.6 322.5,366 322.7,366 324.3,366 324.5,366 325.9,378.6 327.5,393 329,393 329.1,392.9 330.7,390 331.9,387.7 332.3,387.7 333.9,387.7 334.5,387.7 335.3,389.5 335.5,389.7 336.8,391.3 337.1,391 338.7,389.2 339.6,388.3 339.9,388.3 340.3,389.2 341.8,393 341.9,393 343.5,393 345.1,393 346.7,393 347.9,393 348.3,389.8 349.9,377 350.2,374.4 350.9,368.3 351.5,367.6 351.7,367.4 353.1,362 353.9,359 354.6,359.7 354.7,359.8 355,360.6 356.2,364.2 356.3,364.9 356.9,368.6 357.9,379.1 358.9,389.7 359.4,392.9 359.5,393 359.5,393 361.1,393 362.7,393 364.3,393 365.9,393 367.5,393 369.1,393 370.7,393 372.3,393 373.9,393 375.5,393 377.1,393 377.6,393 378.7,388.9 380.3,383.1 381.3,379.4 381.9,379.3 382.2,379.3 383.1,376.5 383.5,377.9 383.6,378.2 385.1,380.6 385.1,380.8 385.2,381.4 386.7,379.3 386.8,379.1 386.9,379.1 387.8,384.7 388.3,388.3 388.5,389.5 389.9,392.2 390.4,393 391.5,393 393.1,393 394.7,393 396.1,393 396.3,391.7 397.9,381.3 399.5,370.9 400.1,367 401.1,367 402.7,367 403.1,367 404.3,374.8 405.8,384.5 405.9,384.5 407.1,383.2 407.5,380.2 407.6,379.3 408.8,379.3 409.1,378.7 410.4,376.6 410.7,378.3 411.2,380.7 412.3,388.4 412.4,389 413.5,389 413.9,389.6 415.5,392 416.2,393 417.1,393 418.7,393 419.8,393 420.3,391.2 421.9,385.1 423.3,379.9 423.5,379.9 424.8,379.9 425.1,380.9 426.7,386 428.3,391.1 428.9,393 429.9,393 431.5,393 433.1,393 434.7,393 436.3,393 436.4,393 437.2,389.7 437.9,385.3 439,378.5 439.5,377.5 440.3,375.8 440.4,375.9 441.1,377.7 442.7,384 444.3,390.2 444.7,391.9 445.2,392.6 445.5,392.6 445.9,392.1 447.5,390.1 448.5,388.9 449.1,388.9 450.1,388.9 450.7,389.5 452.3,391.2 453.9,392.9 454,393 455.5,393 457.1,393 458,393 458.7,385.5 460.3,368.5 461,361 461.9,361 463.5,361 464,361 465.1,372.7 466.7,389.8 467,393 468.3,393 469.9,393 471.5,393 473.1,393 474.7,393 476.3,393 477.9,393 478.2,393 479.5,379.6 481.1,363 481.2,362 482.7,362 484.2,362 484.3,363 485.9,379.6 486.3,383.5 487.2,391.5 487.5,391 489.1,388.4 490,387 490.7,387 492.3,387 492.8,387 493.9,389.2 495.5,392.3 495.8,393 497.1,393 498.7,393 500.3,393 501.4,393 501.9,391.6 503,388.4 503.2,388.4 503.5,388.8 505.1,391 506.6,393 506.7,393 508.3,393 509.9,393 511.5,393 513.1,393 513.3,393 514.7,387.5 515.4,385 516.3,385 517.6,385 517.9,385.9 519.5,390.8 520.2,393 521.1,393 522.7,393 523.3,393 524.3,389 525.9,382.7 526.3,381.1 527.5,381.1 528.9,381.1 529.1,381.9 530.7,389.6 531.4,393 532.3,393 533.9,393 535.5,393 536.3,393 537.1,391.4 538.7,388.4 539.2,387.4 540.3,387.4 541.8,387.4 541.9,387.5 543.5,389.6 545.1,391.7 546.1,393 546.7,393 548.3,393 549.9,393 551.5,393 553.1,393 554.7,393 554.7,393 556.3,388.3 556.3,388.3 557.1,388.3 557.9,389.5 559.5,391.8 560.2,392.8 560.3,392.7 561.1,391.2 562.4,388.9 562.5,387.7 562.7,386.7 564.2,379.1 564.3,378.6 564.5,378 565.9,380.5 565.9,380.8 566.6,387.3 567.3,391.9 567.5,392.7 567.5,392.7 567.8,392.3 569.1,386.8 569.7,384.3 570.5,379.3 570.7,378.6 570.7,378.4 571.1,375.9 572.2,370.3 572.3,369.3 572.7,366.4 573.1,365 573.1,365 573.4,364.9 573.9,366.3 574.6,368.1 575.5,373.3 575.6,374 575.7,374.2 575.8,375 576.3,377.5 576.4,378 577.1,381 578.4,387 578.6,387 578.7,387.1 579.6,389.4 580.3,388.9 581,388.3 581,388.2 581.9,382.4 583.5,371.4 583.5,371.2 583.6,371 584.1,371 584.3,371.3 585.1,376.1 586.7,385.2 587.5,389.8 588.3,392.2 588.5,393 589.9,393 591.5,393 593.1,393 594.7,393 596.3,393 596.9,393 597.9,385 599.5,372.2 599.9,369 601.1,369 602.7,369 602.9,369 604.3,380.2 605.9,393 606.4,393 607.5,389.4 609.1,384 609.1,383.8 609.7,383.8 610.7,386.3 612.3,390.5 613.3,393 613.9,393 615.5,393 616.7,393 617.1,392.4 618.7,390.1 619.1,389.5 620.2,386.6 620.3,386.5 621.6,385.1 621.9,385.2 623.5,385.9 623.5,385.9 624.4,387.4 624.9,388.8 625.1,389.1 626.7,391.3 627.9,393 628.3,393 629.9,393 631.5,393 633.1,393 634.7,393 636.3,393 637.9,393 639.5,393 641.1,393 642.7,393 644.3,393 645.9,393 647.5,393 649.1,393 650.6,393 650.7,392.9 652.3,389.4 653.9,385.9 654.7,384 655.5,384 656.9,384 657.1,384.5 658.3,387 658.7,387 660.3,386.9 661.1,386.8 661.9,385.1 662.7,383.4 663.5,383.4 663.6,383.4 665.1,387.6 666.7,392.1 667,393 668.3,393 669.9,393 671.5,393 673.1,393 674.7,393 676.3,393 677.9,393 679.5,393 681.1,393 682.7,393 684.3,393 685.9,393 687.5,393 687.5,393 689.1,390 690.7,386.9 691.1,386.1 692.3,386.1 693.2,386.1 693.9,387.3 695.5,390.1 696.9,392.6 697.1,392.4 697.1,392.4 698.7,387.9 700.3,383.4 700.3,383.3 700.9,383.3 701.9,388 703,393 703.5,393 705.1,393 705.9,393 706.7,387.1 708.3,375.4 708.9,371 709.9,371 711.5,371 711.9,371 713.1,379.8 714.7,391.5 714.9,393 715.4,393 716.3,391.5 717.9,388.9 718.7,387.6 719.5,381.7 719.5,381.6 719.6,381.1 720.2,379.1 721.1,381 722.7,384.5 722.7,384.5 723.1,384.5 724.3,386.9 725.9,389.9 727.5,393 727.5,393 729.1,393 730.7,393 732.3,393 733.9,393 735.5,393 737.1,393 738.7,393 740.3,393 741.4,393" fill="none" stroke="#008000" stroke-width="7" stroke-linejoin="round" stroke-linecap="round" stroke-linejoin="miter" stroke-miterlimit="2.5"/>
<path d="M380.9 377h4v-13.7h-4zM381.4 376.7h3.5v9.5h-3.5zM205.9 379.9h4v8.6h-4zM732.6 393h3.5v10h-3.5zM491.9 388.1h3v-16.2h-3zM559.8 390.9h3v8.5h-3zM677.4 393h2v-11.3h-2zM434.8 391.5h4v-23.8h-4zM428.2 393h2.5v-9.5h-2.5zM668.2 393h2.5v12.7h-2.5zM480 362h3v-19.7h-3zM658.5 386.9h3.5v8.5h-3.5zM555 388.5h2.5v-11.2h-2.5zM322.2 366h3v-9.3h-3zM660 385h4v8.5h-4zM334.3 390.1h3v-17.1h-3zM676.6 393h2v-23.9h-2zM421.9 379.9h4v-9h-4zM632.1 393h2v-11.7h-2zM612 393h3.5v10.5h-3.5zM619.1 385.6h4v9.7h-4zM537 388.7h3v11.1h-3zM282 389.2h3v-9.4h-3zM494.7 393h4v9.5h-4zM693.4 388.5h2.5v-9.2h-2.5zM631.4 393h4v-12.5h-4zM403.6 379.8h3v-12.4h-3zM594.4 393h2v-9.1h-2zM213.5 392.8h2.5v-11.7h-2.5zM363.1 393h3.5v11.1h-3.5zM528.7 388.1h3.5v10.2h-3.5zM260.9 383.5h2.5v14.4h-2.5zM392.2 393h3v-10.9h-3zM659.7 386h3.5v13.3h-3.5zM689.8 386.1h3.5v-15.6h-3.5zM584.2 376.7h2v10.9h-2zM354.5 363h2.5v-9.1h-2.5zM384.7 380.3h2.5v-14.4h-2.5zM607.3 383.8h4v-9.6h-4zM359.7 393h4v-14.9h-4zM505.4 393h4v-20.6h-4zM425.5 385.4h2v-18.9h-2zM335.7 390.6h3.5v-14.1h-3.5zM653 384h3.5v-16.7h-3.5zM673.5 393h2v12.5h-2zM556.3 390.1h4v-13.9h-4zM597.5 374h3.5v-9.5h-3.5zM599.1 369h2.5v-12.5h-2.5zM437.9 379.2h2v-16h-2zM690.8 386.1h2.5v-9.1h-2.5z" fill="#008000"/>
<polygon points="180.3,461.7 182.8,461.7 182.8,463.9 186.3,463.9 186.3,465.3 189.8,465.3 189.8,465.1 192.3,465.1 192.3,465 195.3,465 195.3,461.2 196.8,461.2 196.8,461 199.3,461 199.3,461.9 201.8,461.9 201.8,462.4 205.3,462.4 205.3,462.2 207.3,462.2 207.3,461 209.8,461 209.8,461.5 213.3,461.5 213.3,463.9 215.8,463.9 215.8,463.9 218.3,463.9 218.3,463.1 220.3,463.1 220.3,461.3 222.8,461.3 222.8,461.1 225.3,461.1 225.3,465.5 226.8,465.5 226.8,464 228.3,464 228.3,461.8 230.3,461.8 230.3,463.8 231.8,463.8 231.8,462.9 233.3,462.9 233.3,465.8 235.3,465.8 235.3,461.4 238.3,461.4 238.3,463.4 239.8,463.4 239.8,461.2 242.3,461.2 242.3,460.8 245.8,460.8 245.8,462.7 247.8,462.7 247.8,461.7 250.8,461.7 250.8,459.7 253.8,459.7 253.8,456.3 256.8,456.3 256.8,457.3 260.3,457.3 260.3,452.8 262.8,452.8 262.8,452 265.8,452 265.8,455.8 269.3,455.8 269.3,453.9 271.3,453.9 271.3,454.2 273.3,454.2 273.3,452.4 276.3,452.4 276.3,452.3 278.8,452.3 278.8,449.2 280.8,449.2 280.8,452.4 283.3,452.4 283.3,451.4 285.3,451.4 285.3,448.9 287.8,448.9 287.8,452.7 290.3,452.7 290.3,451.2 293.3,451.2 293.3,454 295.3,454 295.3,454.7 297.8,454.7 297.8,452.6 299.8,452.6 299.8,444.5 302.3,444.5 302.3,450.5 305.8,450.5 305.8,461.2 307.8,461.2 307.8,467.7 311.3,467.7 311.3,475.3 314.3,475.3 314.3,484.9 316.3,484.9 316.3,491.5 319.8,491.5 319.8,496.8 321.8,496.8 321.8,500.3 324.8,500.3 324.8,502.2 328.3,502.2 328.3,506.9 330.3,506.9 330.3,512.8 333.8,512.8 333.8,518.5 335.8,518.5 335.8,516.1 337.3,516.1 337.3,521.9 339.8,521.9 339.8,521.1 343.3,521.1 343.3,525.6 346.3,525.6 346.3,528.5 348.3,528.5 348.3,534.2 349.8,534.2 349.8,536.8 353.3,536.8 353.3,539.3 356.8,539.3 356.8,540.2 360.3,540.2 360.3,549.3 362.3,549.3 362.3,549.6 363.8,549.6 363.8,547.5 366.3,547.5 366.3,550.1 368.8,550.1 368.8,547.5 371.3,547.5 371.3,552.8 372.8,552.8 372.8,552.4 374.3,552.4 374.3,550.3 376.3,550.3 376.3,555.2 377.8,555.2 377.8,550.8 379.8,550.8 379.8,552 381.8,552 381.8,556 384.8,556 384.8,553.2 388.3,553.2 388.3,554.7 391.8,554.7 391.8,553.9 394.3,553.9 394.3,553.3 396.8,553.3 396.8,558.7 399.3,558.7 399.3,558.6 402.8,558.6 402.8,556.9 404.3,556.9 404.3,556.3 407.3,556.3 407.3,556.2 409.3,556.2 409.3,559.4 411.3,559.4 411.3,557.5 414.8,557.5 414.8,557.8 416.8,557.8 416.8,559.1 418.3,559.1 418.3,558 421.8,558 421.8,557.5 424.8,557.5 424.8,559.2 427.3,559.2 427.3,559.1 430.3,559.1 430.3,556.8 433.8,556.8 433.8,558.8 436.8,558.8 436.8,556.2 440.3,556.2 440.3,558.2 443.8,558.2 443.8,561.1 445.3,561.1 445.3,560.8 446.8,560.8 446.8,558.4 448.3,558.4 448.3,563.9 449.8,563.9 449.8,560.9 451.3,560.9 451.3,561.9 453.3,561.9 453.3,561.8 456.3,561.8 456.3,566.5 458.8,566.5 458.8,562.5 461.3,562.5 461.3,565.3 464.3,565.3 464.3,565.5 466.3,565.5 466.3,565.8 468.3,565.8 468.3,567.2 471.3,567.2 471.3,570.3 472.8,570.3 472.8,566 474.3,566 474.3,567.2 475.8,567.2 475.8,567.8 478.3,567.8 478.3,572.3 480.8,572.3 480.8,570 482.3,570 482.3,568.2 485.3,568.2 485.3,570.2 487.8,570.2 487.8,573 491.3,573 491.3,574 493.3,574 493.3,575.1 495.3,575.1 495.3,575.4 497.3,575.4 497.3,570.8 499.3,570.8 499.3,572.9 500.8,572.9 500.8,571.8 503.8,571.8 503.8,577.5 505.8,577.5 505.8,578.4 509.3,578.4 509.3,574.4 511.3,574.4 511.3,574.6 512.8,574.6 512.8,574.8 516.3,574.8 516.3,580.7 518.8,580.7 518.8,579.1 520.3,579.1 520.3,576.5 521.8,576.5 521.8,576.6 524.8,576.6 524.8,579 526.8,579 526.8,581.5 529.3,581.5 529.3,582.3 532.3,582.3 532.3,583.5 535.8,583.5 535.8,579.6 537.8,579.6 537.8,582.5 541.3,582.5 541.3,579.9 542.8,579.9 542.8,579.9 545.3,579.9 545.3,581.5 547.3,581.5 547.3,581.6 549.3,581.6 549.3,580.8 552.3,580.8 552.3,584.5 553.8,584.5 553.8,585.7 556.8,585.7 556.8,582.8 559.3,582.8 559.3,583.7 560.8,583.7 560.8,585.8 564.3,585.8 564.3,586.7 565.8,586.7 565.8,584.4 567.8,584.4 567.8,587.7 571.3,587.7 571.3,585.5 574.3,585.5 574.3,587.8 576.8,587.8 576.8,588.6 579.8,588.6 579.8,584.4 583.3,584.4 583.3,584.1 585.8,584.1 585.8,588.8 587.3,588.8 587.3,587.7 588.8,587.7 588.8,584.4 591.8,584.4 591.8,586.1 593.8,586.1 593.8,587.6 596.8,587.6 596.8,589.6 599.3,589.6 599.3,587.7 602.8,587.7 602.8,585.1 605.8,585.1 605.8,586.4 609.3,586.4 609.3,587.9 611.8,587.9 611.8,585.6 614.8,585.6 614.8,591.5 618.3,591.5 618.3,587.7 621.3,587.7 621.3,591.4 623.8,591.4 623.8,590.4 626.8,590.4 626.8,587.5 630.3,587.5 630.3,591.4 632.3,591.4 632.3,592.3 634.3,592.3 634.3,590.3 635.8,590.3 635.8,592 637.8,592 637.8,593.1 641.3,593.1 641.3,587.8 642.8,587.8 642.8,592 645.3,592 645.3,593.1 646.8,593.1 646.8,588.7 648.3,588.7 648.3,590.6 649.8,590.6 649.8,591.6 651.3,591.6 651.3,590.1 652.8,590.1 652.8,593.1 655.8,593.1 655.8,589.7 657.8,589.7 657.8,593 661.3,593 661.3,588.1 664.3,588.1 664.3,593.2 666.8,593.2 666.8,591.3 669.8,591.3 669.8,593.6 673.3,593.6 673.3,590.4 675.8,590.4 675.8,593.4 678.8,593.4 678.8,594.2 681.3,594.2 681.3,590.4 683.3,590.4 683.3,593.5 686.3,593.5 686.3,593 689.3,593 689.3,589 691.3,589 691.3,592.5 692.8,592.5 692.8,591.9 696.3,591.9 696.3,594.1 699.8,594.1 699.8,594.4 703.3,594.4 703.3,590.2 706.8,590.2 706.8,594.1 709.3,594.1 709.3,590 712.3,590 712.3,594 715.8,594 715.8,590.4 718.8,590.4 718.8,590.3 721.3,590.3 721.3,593.3 723.3,593.3 723.3,590.7 725.8,590.7 725.8,590.3 728.8,590.3 728.8,593.3 732.3,593.3 732.3,593.3 735.8,593.3 735.8,591 739.3,591 739.3,592.6 741.4,592.6 741.4,608.8 739.3,608.8 739.3,613.7 735.8,613.7 735.8,610.6 732.3,610.6 732.3,609.4 728.8,609.4 728.8,614.1 725.8,614.1 725.8,612.6 723.3,612.6 723.3,612 721.3,612 721.3,609.8 718.8,609.8 718.8,611.1 715.8,611.1 715.8,608.5 712.3,608.5 712.3,612.3 709.3,612.3 709.3,612.7 706.8,612.7 706.8,608.9 703.3,608.9 703.3,609.7 699.8,609.7 699.8,608.8 696.3,608.8 696.3,613.2 692.8,613.2 692.8,613.1 691.3,613.1 691.3,609.4 689.3,609.4 689.3,611.5 686.3,611.5 686.3,609.6 683.3,609.6 683.3,613 681.3,613 681.3,612.7 678.8,612.7 678.8,612.6 675.8,612.6 675.8,613 673.3,613 673.3,611.7 669.8,611.7 669.8,611 666.8,611 666.8,607.7 664.3,607.7 664.3,608 661.3,608 661.3,607.4 657.8,607.4 657.8,608.4 655.8,608.4 655.8,612.1 652.8,612.1 652.8,608.5 651.3,608.5 651.3,610.4 649.8,610.4 649.8,606.9 648.3,606.9 648.3,610.8 646.8,610.8 646.8,610.6 645.3,610.6 645.3,610 642.8,610 642.8,608.7 641.3,608.7 641.3,607.4 637.8,607.4 637.8,609.3 635.8,609.3 635.8,611.7 634.3,611.7 634.3,609.7 632.3,609.7 632.3,607.8 630.3,607.8 630.3,608.3 626.8,608.3 626.8,608.2 623.8,608.2 623.8,609.1 621.3,609.1 621.3,606.6 618.3,606.6 618.3,608.4 614.8,608.4 614.8,605.1 611.8,605.1 611.8,610.2 609.3,610.2 609.3,607.3 605.8,607.3 605.8,607.4 602.8,607.4 602.8,606.7 599.3,606.7 599.3,606.9 596.8,606.9 596.8,608.5 593.8,608.5 593.8,603.5 591.8,603.5 591.8,603.9 588.8,603.9 588.8,605.2 587.3,605.2 587.3,605.7 585.8,605.7 585.8,607.2 583.3,607.2 583.3,602.5 579.8,602.5 579.8,607.7 576.8,607.7 576.8,607.6 574.3,607.6 574.3,603.7 571.3,603.7 571.3,606.4 567.8,606.4 567.8,606.5 565.8,606.5 565.8,602.9 564.3,602.9 564.3,605.6 560.8,605.6 560.8,606.4 559.3,606.4 559.3,604.9 556.8,604.9 556.8,603.8 553.8,603.8 553.8,603.3 552.3,603.3 552.3,603.2 549.3,603.2 549.3,600.4 547.3,600.4 547.3,602.7 545.3,602.7 545.3,598.7 542.8,598.7 542.8,603.2 541.3,603.2 541.3,600.7 537.8,600.7 537.8,599.1 535.8,599.1 535.8,599.8 532.3,599.8 532.3,600.7 529.3,600.7 529.3,599.8 526.8,599.8 526.8,596.3 524.8,596.3 524.8,597.6 521.8,597.6 521.8,600 520.3,600 520.3,600.2 518.8,600.2 518.8,598.5 516.3,598.5 516.3,598.4 512.8,598.4 512.8,594.8 511.3,594.8 511.3,592.6 509.3,592.6 509.3,597.2 505.8,597.2 505.8,596.4 503.8,596.4 503.8,594.2 500.8,594.2 500.8,592.4 499.3,592.4 499.3,591.8 497.3,591.8 497.3,594.5 495.3,594.5 495.3,589.3 493.3,589.3 493.3,589.9 491.3,589.9 491.3,590.8 487.8,590.8 487.8,593.2 485.3,593.2 485.3,591.6 482.3,591.6 482.3,591.2 480.8,591.2 480.8,587 478.3,587 478.3,589.4 475.8,589.4 475.8,589.6 474.3,589.6 474.3,588.3 472.8,588.3 472.8,585.2 471.3,585.2 471.3,589.2 468.3,589.2 468.3,584.2 466.3,584.2 466.3,582.8 464.3,582.8 464.3,583.7 461.3,583.7 461.3,581.2 458.8,581.2 458.8,582.6 456.3,582.6 456.3,580 453.3,580 453.3,582.7 451.3,582.7 451.3,581.4 449.8,581.4 449.8,581.7 448.3,581.7 448.3,580.7 446.8,580.7 446.8,578.9 445.3,578.9 445.3,581.4 443.8,581.4 443.8,579.2 440.3,579.2 440.3,577.4 436.8,577.4 436.8,581.7 433.8,581.7 433.8,578.2 430.3,578.2 430.3,577.8 427.3,577.8 427.3,579.3 424.8,579.3 424.8,580.1 421.8,580.1 421.8,581.2 418.3,581.2 418.3,578.1 416.8,578.1 416.8,579.4 414.8,579.4 414.8,580 411.3,580 411.3,581.4 409.3,581.4 409.3,576.4 407.3,576.4 407.3,576.4 404.3,576.4 404.3,576.2 402.8,576.2 402.8,579.2 399.3,579.2 399.3,580.7 396.8,580.7 396.8,577.5 394.3,577.5 394.3,578.7 391.8,578.7 391.8,580.5 388.3,580.5 388.3,574.7 384.8,574.7 384.8,577.5 381.8,577.5 381.8,577.5 379.8,577.5 379.8,577.7 377.8,577.7 377.8,576.7 376.3,576.7 376.3,577.2 374.3,577.2 374.3,573.6 372.8,573.6 372.8,575 371.3,575 371.3,575.3 368.8,575.3 368.8,572.5 366.3,572.5 366.3,572.2 363.8,572.2 363.8,572.5 362.3,572.5 362.3,569.9 360.3,569.9 360.3,570.7 356.8,570.7 356.8,567.1 353.3,567.1 353.3,564.9 349.8,564.9 349.8,560 348.3,560 348.3,557.2 346.3,557.2 346.3,558.8 343.3,558.8 343.3,552.1 339.8,552.1 339.8,548.5 337.3,548.5 337.3,550.2 335.8,550.2 335.8,543.3 333.8,543.3 333.8,542.2 330.3,542.2 330.3,541 328.3,541 328.3,539.1 324.8,539.1 324.8,536.4 321.8,536.4 321.8,532.1 319.8,532.1 319.8,524.6 316.3,524.6 316.3,526.5 314.3,526.5 314.3,524.6 311.3,524.6 311.3,518.4 307.8,518.4 307.8,509.9 305.8,509.9 305.8,504.2 302.3,504.2 302.3,492.1 299.8,492.1 299.8,481.6 297.8,481.6 297.8,483.2 295.3,483.2 295.3,477.6 293.3,477.6 293.3,479.7 290.3,479.7 290.3,479.5 287.8,479.5 287.8,479.8 285.3,479.8 285.3,475.1 283.3,475.1 283.3,478.1 280.8,478.1 280.8,476.8 278.8,476.8 278.8,476.5 276.3,476.5 276.3,476.4 273.3,476.4 273.3,480.9 271.3,480.9 271.3,481.4 269.3,481.4 269.3,478.6 265.8,478.6 265.8,484.5 262.8,484.5 262.8,482.4 260.3,482.4 260.3,482.3 256.8,482.3 256.8,484.6 253.8,484.6 253.8,485.4 250.8,485.4 250.8,488.4 247.8,488.4 247.8,490 245.8,490 245.8,486.7 242.3,486.7 242.3,488.1 239.8,488.1 239.8,493.3 238.3,493.3 238.3,490.1 235.3,490.1 235.3,489 233.3,489 233.3,492.9 231.8,492.9 231.8,491 230.3,491 230.3,492.8 228.3,492.8 228.3,491.9 226.8,491.9 226.8,489.3 225.3,489.3 225.3,489.9 222.8,489.9 222.8,491.2 220.3,491.2 220.3,486.8 218.3,486.8 218.3,491 215.8,491 215.8,488.7 213.3,488.7 213.3,486.8 209.8,486.8 209.8,489.7 207.3,489.7 207.3,490.5 205.3,490.5 205.3,489.3 201.8,489.3 201.8,486.7 199.3,486.7 199.3,491.1 196.8,491.1 196.8,488.7 195.3,488.7 195.3,491.1 192.3,491.1 192.3,486.9 189.8,486.9 189.8,491.4 186.3,491.4 186.3,490.4 182.8,490.4 182.8,489.5 180.3,489.5" fill="#0000ff"/>
<polyline points="180.3,477 181.9,476.9 183.5,476.8 185.1,476.7 186.7,476.6 188.3,476.4 189.9,476.3 191.5,476.2 193.1,476.1 194.7,476 195.5,476 196.3,473.4 197.9,468.5 198.1,468.1 199.5,468 201,467.9 201.1,468 202.7,470.4 204.3,472.9 205.9,475.3 205.9,475.3 207.5,475.2 209.1,475.1 210.7,475.1 212.3,475.2 213.9,475.3 215.5,475.4 217.1,475.5 218.7,475.6 220.3,475.7 221.9,475.8 223.5,476 224.8,476.1 225.1,475.8 226.7,474.3 227.6,473.5 227.7,473.5 228.3,474 229.9,475.6 230.9,476.5 231.5,476.5 233.1,476.7 234.7,476.8 236.3,476.9 237.9,477 239.5,476.5 241.1,476 242.7,475.5 244.3,475 245.9,474.5 247.5,474 248.7,473.6 249.1,472.6 250.7,468.6 251.7,466 252.3,465.9 252.7,465.7 253.7,464.7 253.9,464.8 255.5,465.5 256.7,465.9 256.8,466 257.1,466.6 258.4,468.7 258.7,468.8 260.3,469.3 261.3,469.5 261.9,469.3 263.5,468.8 263.5,468.8 265.1,467.1 266.7,465.5 267.2,465 267.4,464.9 268.3,465.3 269.9,466 270.6,466.3 271.1,466.1 271.5,465 273.1,460.3 273.3,459.7 274.6,459.3 274.7,459.4 276.3,462.7 276.9,464.1 277.9,463.7 279.5,463.2 281.1,463.3 282.7,463.7 284.3,464.1 285.9,464.5 287.5,464.9 289.1,465.3 290.7,465.7 292.3,466.1 293.9,466.5 295.5,466.9 295.5,466.9 297.1,465.3 298.6,463.8 298.7,463.9 299.8,464.1 300.3,465.5 301.9,471.6 302.9,475.2 303.5,476.9 305.1,480.9 306.7,485 308.3,489 309.9,493.1 311.5,497.1 313.1,501.2 314.7,505.2 315.2,506.3 316.3,506.1 317.9,505.7 319.5,505.4 320.2,505.2 321.1,506.4 322.4,508.1 322.7,508.9 324.3,513.4 325.9,518 327.4,522.3 327.5,522.4 329.1,524.5 330.7,526.6 332.3,528.4 333.9,530.1 335.5,531.8 337.1,533.5 338.7,535.2 340.3,537 341.9,538.7 343.5,540.4 345.1,542.1 346.7,543.8 348.3,545.5 349.9,547.2 351.5,548.9 353.1,550.6 353.4,551 354.7,550.7 356.3,550.3 356.9,550.2 357.9,551.3 358.8,552.2 359.5,554.2 361.1,557.7 361.5,558.5 362.6,558.9 362.7,558.8 362.8,558.6 364.3,554.1 365.9,549.3 366.3,548.1 366.7,547.5 367.5,547.8 368,548 369.1,550.4 369.5,551.3 370.7,555.6 370.9,556.4 372.3,559 373.9,562 374.5,563.1 375.5,563.4 377.1,564 378.7,564.5 380.3,565 381.9,565.3 383.5,565.5 385.1,565.8 386.7,566 388.3,566.2 389.9,566.5 391.5,566.7 393.1,567 394.7,567.2 396.3,567.4 397.6,567.6 397.9,566.6 398,566.2 399.5,560.3 399.7,559.6 399.7,559.6 401.1,561.3 401.4,561.7 402.7,564.1 402.9,564.5 403.7,566.6 404.3,567.2 405.4,568.1 405.9,568.1 407.5,568.2 409.1,568.2 410.7,568.3 412.3,568.3 413.9,568.3 415.5,568.4 417.1,568.4 418.7,568.5 420.3,568.5 421.9,568.5 423.5,568.6 425.1,568.6 426.7,568.7 428.3,568.7 429.9,568.7 431.5,568.8 433.1,568.8 434.7,568.9 435.8,568.9 436.3,567.5 437.9,562.8 438,562.6 439.5,562.7 440.4,562.8 441.1,564.6 442.7,568.6 443.2,569.8 443.8,570 444.3,569.3 445.9,567.1 447,565.6 447.5,565.7 448.6,566 449.1,567 449.6,568 450.3,568.3 450.7,568.1 451.5,567.8 452.3,566.1 453.9,562.7 454,562.5 454.1,562.4 455.5,562.8 456.1,562.9 456.6,564.4 457.1,566.1 457.1,566.1 458.7,569 458.9,569.4 460.3,568.3 461.1,567.7 461.1,567.7 461.2,567.7 461.9,568.8 463.5,571.4 463.6,571.6 465.1,572.4 466.1,573 466.7,572.5 466.8,572.4 468.3,572.7 469.2,573 469.9,573.7 471.5,575.4 473.1,577 473.7,577.6 474.7,577.9 476.3,578.3 477.9,578.7 479.4,579.1 479.5,578.9 481.1,577 482.7,575.2 483.1,574.6 483.5,574.7 484.3,576.2 485.9,579.3 486.7,580.8 487.5,581 489.1,581.3 490.7,581.7 492.3,582 493.9,582.4 495.5,582.7 497.1,583 498.7,583.4 500.3,583.7 501.9,584.1 503.5,584.4 505.1,584.8 506.7,585.1 508.3,585.5 509.9,585.8 511.5,586.2 513.1,586.5 514.7,586.9 516.3,587.2 517.9,587.5 519.5,587.9 521.1,588.2 522.7,588.4 524.3,588.6 525.9,588.9 526.9,589 527.5,588.7 529.1,587.9 530.7,587 531,586.9 531.2,586.9 532.3,588.1 533.9,590 534,590.1 535.5,590.3 537.1,590.6 538.7,590.8 540.3,591 541.9,591.3 543.5,591.5 545.1,591.8 546.7,592 548.3,592.2 549.9,592.5 551.5,592.7 553.1,593 554.7,593.2 556.3,593.4 557.9,593.7 559.5,593.9 561.1,594.1 562.7,594.2 564.3,594.3 565.9,594.4 567.5,594.6 569.1,594.7 570.7,594.8 572.3,594.9 573.8,595 573.9,595 575.5,594.2 577.1,593.3 578.7,592.5 578.7,592.5 580.3,592.7 580.9,592.7 581.9,593.5 583.5,594.7 585,595.9 585.1,595.9 586.7,596 588.3,596.1 589.9,596.2 591.5,596.4 593.1,596.5 594.7,596.6 596.3,596.7 597.9,596.8 599.5,597 601.1,597.1 602.7,597.2 604.3,597.3 605.9,597.4 607.5,597.6 609.1,597.7 610.7,597.8 612.3,597.9 613.9,598 615.5,598.2 617.1,598.3 617.2,598.3 618.7,596.6 620.3,594.8 621.7,593.1 621.9,593.1 623.5,593.2 623.8,593.3 625.1,595.1 626.7,597.5 627.8,599.1 628.3,599.1 629.9,599.2 630.9,599.3 631.5,599.1 633.1,598.4 634.7,597.8 635.7,597.3 636.3,597.4 636.7,597.4 637.9,598.5 639.5,599.9 639.5,600 641.1,600 642.7,600.1 644.3,600.1 645.9,600.1 647.5,600.1 649.1,600.2 650.7,600.2 652.3,600.2 653.9,600.3 654.6,600.3 655.5,599.5 657.1,598.2 657.5,597.9 658,597.9 658.7,598.3 660.3,599.3 661.9,600.3 662.2,600.4 663.5,600.5 665.1,600.5 666,600.5 666.7,599.4 668.3,596.8 669.9,594.3 670.3,593.7 671.5,593.7 672.7,593.7 673.1,594.4 674.7,597.2 676.3,599.9 676.8,600.7 677.9,600.8 679.5,600.8 681.1,600.8 682.7,600.8 684.3,600.9 685.9,600.9 687.5,600.9 689.1,601 690.7,601 692.3,601 693,601 693.9,600.7 695.5,600 697.1,599.4 697.8,599.1 698.7,599.1 698.8,599.1 699.7,598.3 700.3,598.3 701.8,598.1 701.9,598.2 702.3,598.5 702.4,598.7 703.5,599.4 705.1,600.6 706.1,601.3 706.7,601.3 708.3,601.4 709.9,601.4 711.5,601.4 713.1,601.4 714.7,601.5 716.3,601.5 717.7,601.5 717.9,600.9 719.5,595.8 719.8,594.8 721.1,594.8 722.7,594.9 722.8,594.9 724.3,597.1 725.9,599.4 727.5,601.7 727.5,601.7 727.5,601.7 729.1,599.1 730.7,596.5 731.9,594.6 732.3,594.6 733.3,594.7 733.9,596.3 735.5,600.8 735.9,601.9 737.1,601.9 738.7,602 740.3,602 741.4,602" fill="none" stroke="#0000ff" stroke-width="9" stroke-linejoin="round" stroke-linecap="round" stroke-linejoin="miter" stroke-miterlimit="2.5"/>
<path d="M415.5 568.4h4v-14.7h-4zM689 601h2.5v10h-2.5zM450.4 566h4v-14.8h-4zM587.9 596.2h2v12.2h-2zM438 562.7h3.5v-12.2h-3.5zM433.5 568.9h2.5v-18.6h-2.5zM563.6 594.3h2v-11.1h-2zM454.9 564h3v10h-3zM497.4 583.3h2v-10.5h-2zM247.3 472.6h3.5v-14.6h-3.5zM528.8 587.2h3v11h-3zM320 506.2h2v-13.2h-2zM527.5 588.2h2v12.9h-2zM360.4 558.8h4v12.8h-4zM730.2 594.8h3v10h-3zM330.4 528.2h3.5v-14.9h-3.5zM510.8 586.3h3v-10.9h-3zM449.4 568.2h2.5v-14h-2.5zM426.8 568.7h3v12h-3zM581.9 594.5h2.5v10.1h-2.5zM703.8 601h3.5v-14.4h-3.5zM500.3 584.1h3v10.5h-3zM667.4 595.1h4v-14h-4zM545 591.9h2.5v-12.6h-2.5zM665.5 599.8h2v-14.2h-2zM364.5 548.3h3.5v-19.3h-3.5zM257.7 468.8h2v17.1h-2zM282.2 463.8h2v-16.9h-2zM305.6 486.7h3.5v13.6h-3.5zM238 476.7h2v-16.9h-2zM339.4 537.9h3.5v-15h-3.5zM663.6 600.5h3v-11h-3zM657.5 598.5h3v11.6h-3zM682.7 600.9h4v12.4h-4zM630.9 598.9h2v11h-2zM363 551.9h4v-17.8h-4zM222.4 476h3.5v16.8h-3.5zM319.6 506.7h3.5v11.5h-3.5zM491 582.2h4v-10.9h-4zM493.3 582.5h2.5v-11h-2.5zM327.2 524.4h3.5v-39h-3.5zM423.8 568.6h3.5v-33h-3.5z" fill="#0000ff"/>
<polygon points="181,749.3 184,749.3 184,746.8 187.5,746.8 187.5,743.3 190,743.3 190,737.1 193,737.1 193,730.5 194.5,730.5 194.5,725.3 198,725.3 198,715.4 201.5,715.4 201.5,709.3 204.5,709.3 204.5,704.6 206.5,704.6 206.5,702.2 209,702.2 209,707.7 210.5,707.7 210.5,706.9 213.5,706.9 213.5,707.7 215,707.7 215,708.5 217.5,708.5 217.5,711.8 220.5,711.8 220.5,715.4 223.5,715.4 223.5,716.5 225.5,716.5 225.5,718.4 227.5,718.4 227.5,721.7 229.5,721.7 229.5,724 232,724 232,723.8 234.5,723.8 234.5,727.3 236,727.3 236,725.3 238,725.3 238,729.8 241.5,729.8 241.5,731 244,731 244,732.4 245.5,732.4 245.5,734.5 248.5,734.5 248.5,734.7 252,734.7 252,738.3 254,738.3 254,742.8 256.5,742.8 256.5,743.7 258,743.7 258,740.5 261.5,740.5 261.5,744.4 263,744.4 263,744 266,744 266,746.1 268.5,746.1 268.5,746.2 270.5,746.2 270.5,747.8 272.5,747.8 272.5,747.2 274,747.2 274,747.9 277,747.9 277,749.6 280,749.6 280,748.6 281.5,748.6 281.5,749.8 285,749.8 285,751.7 288,751.7 288,751 291.5,751 291.5,753.6 294.5,753.6 294.5,750 296,750 296,751.8 298,751.8 298,752.5 301.5,752.5 301.5,751.5 304,751.5 304,752.4 307,752.4 307,752.7 310,752.7 310,750 312.5,750 312.5,752.1 316,752.1 316,752.6 318,752.6 318,752.6 321.5,752.6 321.5,751.4 323.5,751.4 323.5,752.1 327,752.1 327,753.3 328.5,753.3 328.5,749.9 331.5,749.9 331.5,753.8 334,753.8 334,750.9 335.5,750.9 335.5,751.1 337,751.1 337,755 338.5,755 338.5,753.3 341.5,753.3 341.5,756.6 345,756.6 345,757.6 347,757.6 347,755.6 350,755.6 350,757.8 352.5,757.8 352.5,757.5 354.5,757.5 354.5,761.3 357,761.3 357,761.8 359,761.8 359,760.8 361,760.8 361,762.2 362.5,762.2 362.5,762.2 366,762.2 366,766.7 368,766.7 368,763.5 370,763.5 370,767.4 371.5,767.4 371.5,765.7 374.5,765.7 374.5,765.5 376.5,765.5 376.5,767.8 378.5,767.8 378.5,767.5 380.5,767.5 380.5,770.3 382,770.3 382,769.1 385,769.1 385,768.4 388,768.4 388,770.3 391,770.3 391,774.2 393,774.2 393,772.6 394.5,772.6 394.5,772.5 396.5,772.5 396.5,771.8 400,771.8 400,773.8 402.5,773.8 402.5,773.6 404.5,773.6 404.5,773.1 406,773.1 406,774.6 409,774.6 409,776.6 412,776.6 412,772.6 414.5,772.6 414.5,776.1 417.5,776.1 417.5,772.7 419.5,772.7 419.5,776.4 422.5,776.4 422.5,773.3 425.5,773.3 425.5,775.1 428.5,775.1 428.5,772.7 431,772.7 431,774.9 434,774.9 434,772.6 437,772.6 437,776.6 440.5,776.6 440.5,771.7 443,771.7 443,774.2 445,774.2 445,774.5 446.5,774.5 446.5,772.7 448,772.7 448,772.2 451.5,772.2 451.5,772.2 454,772.2 454,769.9 457.5,769.9 457.5,772.1 459.5,772.1 459.5,774.7 463,774.7 463,772.9 465.5,772.9 465.5,775.4 467,775.4 467,777.5 470,777.5 470,775.6 473,775.6 473,778.6 475,778.6 475,775.5 478,775.5 478,778.6 480,778.6 480,781.3 481.5,781.3 481.5,781.2 484,781.2 484,778.9 487,778.9 487,781.5 489,781.5 489,780.1 491,780.1 491,782.1 494.5,782.1 494.5,781.1 497.5,781.1 497.5,780 501,780 501,781.4 504,781.4 504,783.6 506.5,783.6 506.5,780.7 508,780.7 508,781.5 511.5,781.5 511.5,783.1 515,783.1 515,781.1 517,781.1 517,784.1 519,784.1 519,780.5 522.5,780.5 522.5,782.6 524,782.6 524,784.1 527,784.1 527,781.3 528.5,781.3 528.5,782.1 532,782.1 532,784.4 534,784.4 534,781.5 537.5,781.5 537.5,782.5 539,782.5 539,785.6 540.5,785.6 540.5,784 542.5,784 542.5,782.5 545.5,782.5 545.5,785.8 548,785.8 548,782.4 551.5,782.4 551.5,785.6 555,785.6 555,782.9 558.5,782.9 558.5,786.6 561,786.6 561,786.4 562.5,786.4 562.5,786.1 565,786.1 565,786.6 567.5,786.6 567.5,787.2 571,787.2 571,786.4 573,786.4 573,784.8 576,784.8 576,783.3 578,783.3 578,786 581,786 581,784 583,784 583,787.5 585.5,787.5 585.5,784.7 587.5,784.7 587.5,786.2 591,786.2 591,786.2 593,786.2 593,785.6 595.5,785.6 595.5,784.7 599,784.7 599,786.8 601.5,786.8 601.5,784 604.5,784 604.5,787.3 607,787.3 607,787.9 609,787.9 609,785.8 611,785.8 611,786 613,786 613,785 615.5,785 615.5,784.9 618.5,784.9 618.5,784.9 620.5,784.9 620.5,786.9 622,786.9 622,788.1 624,788.1 624,788.5 627,788.5 627,788.7 630,788.7 630,786.8 633.5,786.8 633.5,786.6 635.5,786.6 635.5,787.3 638.5,787.3 638.5,789.8 642,789.8 642,787.7 643.5,787.7 643.5,787.3 647,787.3 647,789.1 649.5,789.1 649.5,789.2 651.5,789.2 651.5,788.6 653,788.6 653,789.4 655.5,789.4 655.5,788.2 658,788.2 658,786.1 660,786.1 660,785.6 661.5,785.6 661.5,785.3 663,785.3 663,786.1 666,786.1 666,786.9 669.5,786.9 669.5,787.8 671.5,787.8 671.5,786.8 673.5,786.8 673.5,787 675.5,787 675.5,786.9 677.5,786.9 677.5,788.7 680,788.7 680,789 682,789 682,787.4 684.5,787.4 684.5,789.3 687,789.3 687,787.6 690.5,787.6 690.5,786.3 692.5,786.3 692.5,786.7 694.5,786.7 694.5,785.9 696,785.9 696,788.8 699.5,788.8 699.5,785.3 702,785.3 702,787.9 704.5,787.9 704.5,786.6 706,786.6 706,789.5 708.5,789.5 708.5,789 712,789 712,789.7 714,789.7 714,786.4 715.5,786.4 715.5,787.7 719,787.7 719,788.3 722,788.3 722,785.8 724,785.8 724,788.4 727,788.4 727,788.1 728.5,788.1 728.5,785.9 731.5,785.9 731.5,787.3 734,787.3 734,787.4 735.5,787.4 735.5,787.6 738.5,787.6 738.5,787.5 741,787.5 741,788.4 741.4,788.4 741.4,804 741,804 741,800.8 738.5,800.8 738.5,801.2 735.5,801.2 735.5,803.6 734,803.6 734,801.4 731.5,801.4 731.5,800.7 728.5,800.7 728.5,800.3 727,800.3 727,800.6 724,800.6 724,801.1 722,801.1 722,802.5 719,802.5 719,803.9 715.5,803.9 715.5,800.6 714,800.6 714,804.4 712,804.4 712,803.9 708.5,803.9 708.5,802.2 706,802.2 706,800.4 704.5,800.4 704.5,802.5 702,802.5 702,802.4 699.5,802.4 699.5,802.7 696,802.7 696,803.1 694.5,803.1 694.5,803.7 692.5,803.7 692.5,804.6 690.5,804.6 690.5,803.9 687,803.9 687,800.7 684.5,800.7 684.5,801.6 682,801.6 682,801.8 680,801.8 680,801.6 677.5,801.6 677.5,802.1 675.5,802.1 675.5,802 673.5,802 673.5,802.8 671.5,802.8 671.5,803.3 669.5,803.3 669.5,802.7 666,802.7 666,801.4 663,801.4 663,803.3 661.5,803.3 661.5,804.3 660,804.3 660,801.6 658,801.6 658,803.4 655.5,803.4 655.5,803.3 653,803.3 653,802.2 651.5,802.2 651.5,803.9 649.5,803.9 649.5,803.2 647,803.2 647,801.6 643.5,801.6 643.5,804.8 642,804.8 642,802 638.5,802 638.5,801.1 635.5,801.1 635.5,801.5 633.5,801.5 633.5,801.7 630,801.7 630,803.7 627,803.7 627,804 624,804 624,803 622,803 622,803.6 620.5,803.6 620.5,800.1 618.5,800.1 618.5,803.7 615.5,803.7 615.5,802.3 613,802.3 613,801.5 611,801.5 611,799.5 609,799.5 609,800.3 607,800.3 607,799.1 604.5,799.1 604.5,801.5 601.5,801.5 601.5,801 599,801 599,801.6 595.5,801.6 595.5,800.6 593,800.6 593,800.7 591,800.7 591,801 587.5,801 587.5,800.1 585.5,800.1 585.5,802 583,802 583,802.5 581,802.5 581,800.4 578,800.4 578,800.1 576,800.1 576,798.7 573,798.7 573,802 571,802 571,799.4 567.5,799.4 567.5,798.5 565,798.5 565,800.8 562.5,800.8 562.5,797.3 561,797.3 561,801.3 558.5,801.3 558.5,798.5 555,798.5 555,798.5 551.5,798.5 551.5,800.8 548,800.8 548,801 545.5,801 545.5,798.1 542.5,798.1 542.5,797.4 540.5,797.4 540.5,796.5 539,796.5 539,797.3 537.5,797.3 537.5,800.2 534,800.2 534,797.5 532,797.5 532,799.2 528.5,799.2 528.5,798.5 527,798.5 527,797.8 524,797.8 524,798.8 522.5,798.8 522.5,795.4 519,795.4 519,799.3 517,799.3 517,798.3 515,798.3 515,794.9 511.5,794.9 511.5,798.1 508,798.1 508,794.2 506.5,794.2 506.5,798.6 504,798.6 504,798.1 501,798.1 501,795.2 497.5,795.2 497.5,797 494.5,797 494.5,794.8 491,794.8 491,793.7 489,793.7 489,793.8 487,793.8 487,797.4 484,797.4 484,795.4 481.5,795.4 481.5,795 480,795 480,796.1 478,796.1 478,791.9 475,791.9 475,791 473,791 473,789.7 470,789.7 470,788.9 467,788.9 467,791 465.5,791 465.5,787.4 463,787.4 463,789.9 459.5,789.9 459.5,788.5 457.5,788.5 457.5,786.8 454,786.8 454,787.3 451.5,787.3 451.5,788.2 448,788.2 448,789.1 446.5,789.1 446.5,787.7 445,787.7 445,790.9 443,790.9 443,788.8 440.5,788.8 440.5,790.9 437,790.9 437,790.3 434,790.3 434,789 431,789 431,789.8 428.5,789.8 428.5,789.1 425.5,789.1 425.5,788.9 422.5,788.9 422.5,788.7 419.5,788.7 419.5,789.5 417.5,789.5 417.5,791.7 414.5,791.7 414.5,787.6 412,787.6 412,790.7 409,790.7 409,791.2 406,791.2 406,790.4 404.5,790.4 404.5,789.1 402.5,789.1 402.5,789.2 400,789.2 400,787.4 396.5,787.4 396.5,789.4 394.5,789.4 394.5,788.9 393,788.9 393,786.2 391,786.2 391,784.9 388,784.9 388,784.7 385,784.7 385,783.3 382,783.3 382,782.4 380.5,782.4 380.5,784 378.5,784 378.5,785.5 376.5,785.5 376.5,782.3 374.5,782.3 374.5,783.3 371.5,783.3 371.5,784.1 370,784.1 370,781 368,781 368,780.9 366,780.9 366,780 362.5,780 362.5,780.5 361,780.5 361,775.6 359,775.6 359,775.4 357,775.4 357,777.8 354.5,777.8 354.5,775.1 352.5,775.1 352.5,776.4 350,776.4 350,773.1 347,773.1 347,773.1 345,773.1 345,769.1 341.5,769.1 341.5,768.2 338.5,768.2 338.5,767.9 337,767.9 337,770.3 335.5,770.3 335.5,766.7 334,766.7 334,767.6 331.5,767.6 331.5,765.9 328.5,765.9 328.5,766 327,766 327,765.5 323.5,765.5 323.5,767.5 321.5,767.5 321.5,766.8 318,766.8 318,768.4 316,768.4 316,766.8 312.5,766.8 312.5,766.6 310,766.6 310,766.7 307,766.7 307,764.9 304,764.9 304,764.5 301.5,764.5 301.5,767 298,767 298,766.4 296,766.4 296,768.5 294.5,768.5 294.5,768.7 291.5,768.7 291.5,766.3 288,766.3 288,766.2 285,766.2 285,762.9 281.5,762.9 281.5,762.5 280,762.5 280,764.2 277,764.2 277,761.4 274,761.4 274,764.9 272.5,764.9 272.5,761.2 270.5,761.2 270.5,760.5 268.5,760.5 268.5,761.5 266,761.5 266,762.2 263,762.2 263,758.4 261.5,758.4 261.5,757.1 258,757.1 258,757.4 256.5,757.4 256.5,759.2 254,759.2 254,758.2 252,758.2 252,752.8 248.5,752.8 248.5,751.3 245.5,751.3 245.5,748.6 244,748.6 244,746.9 241.5,746.9 241.5,748.8 238,748.8 238,745.5 236,745.5 236,743 234.5,743 234.5,744.6 232,744.6 232,741.5 229.5,741.5 229.5,739.4 227.5,739.4 227.5,736.3 225.5,736.3 225.5,735 223.5,735 223.5,733.8 220.5,733.8 220.5,730.7 217.5,730.7 217.5,728.8 215,728.8 215,727.2 213.5,727.2 213.5,725.9 210.5,725.9 210.5,726.5 209,726.5 209,737.9 206.5,737.9 206.5,741 204.5,741 204.5,748.7 201.5,748.7 201.5,752.6 198,752.6 198,761.1 194.5,761.1 194.5,765 193,765 193,765.7 190,765.7 190,764.7 187.5,764.7 187.5,769.9 184,769.9 184,770.2 181,770.2" fill="#ff0000"/>
<polyline points="181,762 182,761.1 182.6,759.7 184.2,756.2 185,754.4 185.8,753.6 187,752.5 187.4,752.7 189,753.4 190,753.8 190.6,753.3 192.2,751.6 193,749.9 193.8,746.6 195.4,740 196,737.5 197,735.4 198,733.2 198.6,733.2 200.2,733 201,732.8 201.8,731 203.4,727.4 205,723.9 206.6,720.3 208.2,716.8 209.8,715.4 211.4,716.3 213,717.2 214.6,718.1 216.2,719 217.8,719.9 219.4,721.2 221,722.6 222.6,724.1 224.2,725.5 225.8,726.9 227.4,728.3 229,729.7 230.6,731.1 232.2,732.5 233.8,733.9 235.4,735.3 237,736.4 238.6,737.5 240.2,738.6 241.8,739.8 243.4,740.9 245,742 246.6,743.1 248.2,744.2 249.8,745.4 251.4,746.5 253,747.6 254.6,748.7 256.2,749.4 257.8,750 259.4,750.5 261,751.1 262.6,751.7 264.2,752.2 265.8,752.8 267.4,753.3 269,753.9 270.6,754.5 272.2,755 273.8,755.6 275.4,756.1 277,756.4 278.6,756.7 280.2,757 281.8,757.4 283.4,757.7 285,758 286.6,758.3 288.2,758.6 289.8,759 291.4,759 293,759 294.6,759 296.2,759 297.8,759 299.4,759 301,759 302.6,759 304.2,759 305.8,759 306.5,759 307.4,756.4 309,751.7 310.6,747 312.2,742.4 313.5,738.6 313.8,733 315.4,703.4 317,673.8 318.5,646 318.6,646 320.2,646 320.5,646 321.8,666.2 323.4,690.9 325,715.8 326.5,739 326.6,739.2 328.2,743.2 329.8,747.2 331.4,751.2 333,755.6 334.5,760 334.6,760 336.2,760.6 337.8,761.2 339.4,761.8 341,762.5 342.6,763.1 344.2,763.7 345.8,764.3 347.4,765 349,765.6 350.6,766.2 352.2,766.9 353.8,767.5 355.4,768.2 357,768.8 358.6,769.4 360.2,770.1 361.8,770.7 363.4,771.4 365,772 366.6,772.6 368.2,773.3 369.8,773.9 371.4,774.4 373,774.8 373,774.8 374.5,772.2 374.6,772.2 374.8,772.2 376.2,773.9 377.8,775.8 378.1,776.1 379.4,776.5 381,776.9 382.6,777.4 384.2,777.8 385.8,778.2 387.4,778.6 389,779.1 390.6,779.5 392.2,779.9 393.8,780.3 395.4,780.8 397,781.2 398.6,781.6 400.2,782 401.8,782 403.4,782 405,782 406.6,782 408.2,782 409.5,782 409.8,781.8 411.4,780.6 412.6,779.8 412.9,779.8 413,779.8 414.6,781.1 415.7,782 416.2,782 417.8,782 419.1,782 419.4,781.7 420.9,780 421,780 422.6,780 423.9,780 424.2,780.1 425.8,781 427.4,781.8 427.7,782 429,782 430.6,782 432.2,782 433.8,782 434.9,782 435.4,781.7 437,780.9 438.6,780.1 439.4,779.7 440,779.7 440.1,779.8 440.2,779.7 441.8,778.5 442,778.3 442.2,778 442.2,777.9 442.4,777.8 443.4,778.2 444.5,778.5 444.9,779 445,779 446.6,778.6 447,778.6 448.2,779.1 449.8,779.8 450.1,780 451.4,779.7 453,779.4 454.6,779.1 456.2,779.4 457.8,779.9 459.4,780.4 461,780.8 462.6,781.3 464.2,781.8 465.8,782.3 467.4,782.8 468.6,783.2 469,782.7 470.4,780.7 470.6,780.8 472.2,781.3 473.1,781.6 473.8,782.4 475.4,784.2 476.6,785.6 477,785.8 478.6,786.2 480.2,786.7 481.8,787.2 483.4,787.6 485,787.7 486.6,787.8 488.2,787.9 489.8,788 491.4,788.1 493,788.2 494.6,788.3 496.2,788.4 497.8,788.4 499.4,788.5 499.5,788.5 501,785.8 501.8,784.4 502.6,784.4 503.2,784.4 504.2,786.6 505.3,788.9 505.7,788.9 505.8,788.8 507.4,787.4 508.4,786.5 509,786.6 510.6,786.7 511.4,786.7 512.2,787.7 513.5,789.3 513.8,789.4 515.4,789.5 516.5,789.5 517,789.3 518.6,788.7 520.2,788 520.9,787.8 521.2,787.8 521.8,788.2 523.4,789.3 524.3,790 525,790 526.6,790.1 527.2,790.1 528.2,788.4 529.2,786.7 529.8,786.7 531,786.8 531.4,787.2 533,788.8 534.6,790.5 534.7,790.6 536.2,790.6 537.8,790.7 539.4,790.8 541,790.9 542.6,791 544.2,791.1 545.8,791.2 547.4,791.3 549,791.4 550.6,791.5 552.2,791.6 553.8,791.6 554.6,791.7 555.4,790.5 557,788.1 557,788.1 558.6,788.2 559.8,788.3 560.2,788.8 561.8,790.9 562.7,792.1 563.4,792.1 565,792.2 566.6,792.2 568.2,792.3 569.8,792.4 571.4,792.4 573,792.5 574.3,792.5 574.6,792.2 576.2,790.9 577.8,789.5 578.3,789.1 578.6,789.1 579.4,789.8 581,791.4 582.5,792.8 582.6,792.8 584.2,792.9 585.8,793 587.4,793 589,793.1 590.6,793.1 592.2,793.2 593.8,793.3 595.4,793.3 597,793.4 598.6,793.4 600.2,793.5 601.8,793.6 603.4,793.6 605,793.7 606.6,793.7 608.2,793.8 609.8,793.9 611.4,793.9 613,794 614.6,794 616.2,794.1 617.8,794.2 619.1,794.2 619.4,793.8 620.8,792 621,792 622.5,792 622.6,792.1 624.2,793 625.8,793.9 626.9,794.5 627.4,794.5 629,794.6 630.6,794.6 632.2,794.7 633.8,794.8 635.4,794.8 637,794.9 638.6,794.9 640.2,795 641.8,795 643.4,795 645,795 646.6,795 648.2,795 649.8,795 651,795 651.4,794.2 653,791 653.8,789.4 654.1,789.4 654.6,790.3 656.2,793.3 657.1,795 657.8,795 659.4,795 660.6,795 661,794.6 662.5,792.9 662.6,792.9 663.8,792.9 664.2,793.1 664.4,793.2 665.8,793 667.4,792.8 667.5,792.8 668.1,792.4 669,792.4 669.1,792.4 670.6,793.5 672.2,794.7 672.6,795 673.8,795 675.4,795 677,795 678.6,795 680.2,795 681.8,795 683.4,795 685,795 686.6,795 688.2,795 689.8,795 691.4,795 693,795 694.6,795 696.2,795 697.8,795 699.4,795 701,795 702.6,795 704.2,795 705.8,795 707.4,795 709,795 710.6,795 712.2,795 713.8,795 715.4,795 717,795 717,795 718.6,793.2 720.2,791.3 721.2,790.2 721.8,790.2 723.4,790.2 724,790.2 725,791.5 726.6,793.7 727.5,795 728.2,795 729.8,795 731.4,795 733,795 734.6,795 736.2,795 737.8,795 739.4,795 741,795 741.4,795" fill="none" stroke="#ff0000" stroke-width="8.5" stroke-linejoin="round" stroke-linecap="round" stroke-linejoin="miter" stroke-miterlimit="2.5"/>
<path d="M596.5 793.4h3.5v-10.5h-3.5zM446.6 779h2.5v-11.6h-2.5zM473.1 783.3h3v-12.3h-3zM384.1 778h2v-9.2h-2zM206.3 716.6h4v-13.5h-4zM200.8 729.4h3.5v-10h-3.5zM189.1 752.9h4v10.4h-4zM186.3 752.8h2.5v-11.5h-2.5zM185.4 753h2v9.6h-2zM250.1 746.5h2.5v-10.8h-2.5zM184.8 753.6h2v-12.5h-2zM435.8 780.6h3.5v9.5h-3.5zM632.2 794.8h2.5v8h-2.5zM492.9 788.3h3v-10.7h-3zM228.1 730.3h3v-12h-3zM387.6 779.2h3.5v-10.5h-3.5zM463.3 782.1h3.5v-9.3h-3.5zM604.2 793.7h3.5v8.2h-3.5zM628.3 794.6h4v9h-4zM559.6 789.7h2.5v8.4h-2.5zM507.6 786.6h4v8h-4zM231.4 733.1h3v-12.3h-3zM664.1 793h4v8h-4zM688 795h4v-8.5h-4zM451.4 779.5h2v-8.8h-2zM534.1 790.6h2v-9.3h-2zM701.8 795h2.5v-9.3h-2.5zM566.2 792.3h4v8.5h-4zM246.9 744.6h3.5v8.9h-3.5zM639 795h3.5v-10h-3.5z" fill="#ff0000"/>
<polygon points="181.4,1009.9 182.9,1009.9 182.9,1008.8 184.9,1008.8 184.9,1008.6 186.9,1008.6 186.9,1008.8 188.9,1008.8 188.9,1006.5 191.4,1006.5 191.4,1007.2 192.9,1007.2 192.9,1005.7 195.4,1005.7 195.4,1007.1 198.4,1007.1 198.4,1008.1 201.4,1008.1 201.4,1006.4 204.9,1006.4 204.9,1005.6 208.4,1005.6 208.4,1006.7 209.9,1006.7 209.9,1006.5 213.4,1006.5 213.4,1007.2 215.4,1007.2 215.4,1007.8 217.4,1007.8 217.4,1009.8 220.4,1009.8 220.4,1006 223.4,1006 223.4,1008.2 225.4,1008.2 225.4,1006.3 227.4,1006.3 227.4,1009.4 230.4,1009.4 230.4,1008.4 233.9,1008.4 233.9,1007.8 237.4,1007.8 237.4,1006.1 239.4,1006.1 239.4,1006.6 241.9,1006.6 241.9,1008.7 245.4,1008.7 245.4,1007.6 246.9,1007.6 246.9,1010.1 249.9,1010.1 249.9,1008.5 251.9,1008.5 251.9,1006.5 255.4,1006.5 255.4,1010.1 256.9,1010.1 256.9,1009.6 259.9,1009.6 259.9,1008.7 262.9,1008.7 262.9,1006.6 264.4,1006.6 264.4,1007.7 265.9,1007.7 265.9,1009.3 267.4,1009.3 267.4,1010.2 269.9,1010.2 269.9,1006.1 272.4,1006.1 272.4,1009.6 275.9,1009.6 275.9,1007.7 277.4,1007.7 277.4,1006.6 280.4,1006.6 280.4,1008.9 281.9,1008.9 281.9,1006.7 285.4,1006.7 285.4,1008.5 288.4,1008.5 288.4,1006.2 291.4,1006.2 291.4,1006.1 292.9,1006.1 292.9,1007.1 294.4,1007.1 294.4,1009.6 297.4,1009.6 297.4,1006.1 299.4,1006.1 299.4,1008.6 302.4,1008.6 302.4,1008 304.4,1008 304.4,1005.6 306.4,1005.6 306.4,1006.5 309.9,1006.5 309.9,1006.6 312.4,1006.6 312.4,1009.4 315.9,1009.4 315.9,1007.6 317.4,1007.6 317.4,1008.5 320.9,1008.5 320.9,1007.7 323.4,1007.7 323.4,1009 324.9,1009 324.9,1010.4 326.9,1010.4 326.9,1008.7 330.4,1008.7 330.4,1007.8 331.9,1007.8 331.9,1006.3 333.9,1006.3 333.9,1007.3 335.4,1007.3 335.4,1007.7 338.9,1007.7 338.9,1007 342.4,1007 342.4,1005.7 344.9,1005.7 344.9,1006.1 346.9,1006.1 346.9,1007.8 348.4,1007.8 348.4,1006.3 350.4,1006.3 350.4,1007.9 353.9,1007.9 353.9,1009 356.9,1009 356.9,1008.6 358.9,1008.6 358.9,1007.9 360.4,1007.9 360.4,1007.9 362.4,1007.9 362.4,1005.8 363.9,1005.8 363.9,1007.6 367.4,1007.6 367.4,1010 369.4,1010 369.4,1008.6 371.4,1008.6 371.4,1006.6 372.9,1006.6 372.9,1006.7 375.9,1006.7 375.9,1009.9 377.4,1009.9 377.4,1009.8 378.9,1009.8 378.9,1008.2 382.4,1008.2 382.4,1009.6 384.9,1009.6 384.9,1009.7 386.9,1009.7 386.9,1009.4 389.4,1009.4 389.4,1009 391.4,1009 391.4,1008.5 394.9,1008.5 394.9,1008 396.9,1008 396.9,1007 400.4,1007 400.4,1007.8 402.9,1007.8 402.9,1009 405.4,1009 405.4,1006.5 406.9,1006.5 406.9,1007.3 410.4,1007.3 410.4,1008.9 413.9,1008.9 413.9,1009.3 416.4,1009.3 416.4,1008.3 418.9,1008.3 418.9,1006 422.4,1006 422.4,1010.2 424.9,1010.2 424.9,1007.5 428.4,1007.5 428.4,1007.9 431.4,1007.9 431.4,1008.1 434.4,1008.1 434.4,1005.9 437.9,1005.9 437.9,1008.5 440.9,1008.5 440.9,1007.5 443.9,1007.5 443.9,1010 446.4,1010 446.4,1008.7 449.9,1008.7 449.9,1006.8 452.9,1006.8 452.9,1007.4 454.9,1007.4 454.9,1008 456.9,1008 456.9,1009.8 459.4,1009.8 459.4,1006.2 461.4,1006.2 461.4,1008.8 464.4,1008.8 464.4,1005.9 466.9,1005.9 466.9,1008.6 468.4,1008.6 468.4,1008.2 470.4,1008.2 470.4,1009.4 472.9,1009.4 472.9,1009.5 475.4,1009.5 475.4,1010 477.9,1010 477.9,1009.3 479.9,1009.3 479.9,1006.9 483.4,1006.9 483.4,1009.3 484.9,1009.3 484.9,1008.6 487.9,1008.6 487.9,1005.7 490.9,1005.7 490.9,1010.3 492.9,1010.3 492.9,1007.6 495.9,1007.6 495.9,1008.3 498.9,1008.3 498.9,1008.4 500.4,1008.4 500.4,1006.9 502.9,1006.9 502.9,1007.1 504.4,1007.1 504.4,1008 506.4,1008 506.4,1006.1 509.9,1006.1 509.9,1008.4 511.9,1008.4 511.9,1010.4 513.4,1010.4 513.4,1008 515.4,1008 515.4,1006.9 516.9,1006.9 516.9,1007.2 519.4,1007.2 519.4,1007.1 522.4,1007.1 522.4,1009.3 525.4,1009.3 525.4,1006.8 528.4,1006.8 528.4,1005.9 530.4,1005.9 530.4,1006.1 533.4,1006.1 533.4,1010.1 536.4,1010.1 536.4,1008.6 539.9,1008.6 539.9,1008.8 541.9,1008.8 541.9,1007.6 544.9,1007.6 544.9,1007.5 546.4,1007.5 546.4,1007.2 548.4,1007.2 548.4,1009.2 551.9,1009.2 551.9,1009.9 553.9,1009.9 553.9,1006.7 556.9,1006.7 556.9,1007.3 560.4,1007.3 560.4,1006 561.9,1006 561.9,1010.4 563.4,1010.4 563.4,1010.1 566.4,1010.1 566.4,1007.5 568.9,1007.5 568.9,1008.4 572.4,1008.4 572.4,1007.9 575.9,1007.9 575.9,1010.1 578.4,1010.1 578.4,1009.4 579.9,1009.4 579.9,1010.3 581.4,1010.3 581.4,1008.6 583.9,1008.6 583.9,1005.8 587.4,1005.8 587.4,1007.9 590.4,1007.9 590.4,1008.2 593.9,1008.2 593.9,1006.9 596.9,1006.9 596.9,1008.9 599.4,1008.9 599.4,1006.6 601.4,1006.6 601.4,1007.7 604.4,1007.7 604.4,1010 606.9,1010 606.9,1007.7 609.4,1007.7 609.4,1009.4 612.4,1009.4 612.4,1009.2 615.4,1009.2 615.4,1010.2 618.9,1010.2 618.9,1007.1 621.9,1007.1 621.9,1009.3 623.4,1009.3 623.4,1006.7 626.4,1006.7 626.4,1010.1 628.9,1010.1 628.9,1005.9 631.9,1005.9 631.9,1005.8 634.4,1005.8 634.4,1008.1 637.4,1008.1 637.4,1005.9 638.9,1005.9 638.9,1008.1 640.4,1008.1 640.4,1006.3 641.9,1006.3 641.9,1008.2 644.4,1008.2 644.4,1010.3 647.4,1010.3 647.4,1009 650.9,1009 650.9,1007.1 653.4,1007.1 653.4,1009 655.9,1009 655.9,1009 659.4,1009 659.4,1008.5 662.9,1008.5 662.9,1009.5 665.9,1009.5 665.9,1006.4 667.9,1006.4 667.9,1009.9 669.9,1009.9 669.9,1009.3 672.4,1009.3 672.4,1009.8 673.9,1009.8 673.9,1007.8 675.4,1007.8 675.4,1008.7 676.9,1008.7 676.9,1008.2 679.9,1008.2 679.9,1005.7 681.9,1005.7 681.9,1006.6 683.4,1006.6 683.4,1008 685.9,1008 685.9,1006.7 688.4,1006.7 688.4,1007.2 691.9,1007.2 691.9,1009.6 694.9,1009.6 694.9,1008 697.4,1008 697.4,1010.3 700.4,1010.3 700.4,1008.5 703.4,1008.5 703.4,1007.9 704.9,1007.9 704.9,1006.7 706.9,1006.7 706.9,1008.4 708.4,1008.4 708.4,1008.7 711.9,1008.7 711.9,1009.9 715.4,1009.9 715.4,1010 717.9,1010 717.9,1007.1 720.9,1007.1 720.9,1006.5 724.4,1006.5 724.4,1009.4 726.4,1009.4 726.4,1005.7 728.4,1005.7 728.4,1007.5 730.4,1007.5 730.4,1010.2 732.9,1010.2 732.9,1006 736.4,1006 736.4,1009.7 737.9,1009.7 737.9,1010.1 739.4,1010.1 739.4,1006.1 740.9,1006.1 740.9,1008.2 741.4,1008.2 741.4,1021.5 740.9,1021.5 740.9,1020.3 739.4,1020.3 739.4,1021.5 737.9,1021.5 737.9,1022.7 736.4,1022.7 736.4,1022.8 732.9,1022.8 732.9,1021.4 730.4,1021.4 730.4,1021.5 728.4,1021.5 728.4,1021.3 726.4,1021.3 726.4,1022.1 724.4,1022.1 724.4,1023.4 720.9,1023.4 720.9,1023.6 717.9,1023.6 717.9,1022.2 715.4,1022.2 715.4,1021.2 711.9,1021.2 711.9,1021.5 708.4,1021.5 708.4,1022.6 706.9,1022.6 706.9,1024.1 704.9,1024.1 704.9,1020.8 703.4,1020.8 703.4,1020.6 700.4,1020.6 700.4,1022.6 697.4,1022.6 697.4,1023.9 694.9,1023.9 694.9,1023 691.9,1023 691.9,1024 688.4,1024 688.4,1022.7 685.9,1022.7 685.9,1023.4 683.4,1023.4 683.4,1021.1 681.9,1021.1 681.9,1023.7 679.9,1023.7 679.9,1022.6 676.9,1022.6 676.9,1020.6 675.4,1020.6 675.4,1022.7 673.9,1022.7 673.9,1022.4 672.4,1022.4 672.4,1023.2 669.9,1023.2 669.9,1020 667.9,1020 667.9,1020.1 665.9,1020.1 665.9,1022 662.9,1022 662.9,1021.1 659.4,1021.1 659.4,1023.9 655.9,1023.9 655.9,1023.9 653.4,1023.9 653.4,1023.7 650.9,1023.7 650.9,1022.9 647.4,1022.9 647.4,1021.2 644.4,1021.2 644.4,1021.5 641.9,1021.5 641.9,1021.6 640.4,1021.6 640.4,1022.4 638.9,1022.4 638.9,1019.9 637.4,1019.9 637.4,1022.1 634.4,1022.1 634.4,1023.2 631.9,1023.2 631.9,1022.8 628.9,1022.8 628.9,1019.8 626.4,1019.8 626.4,1022.8 623.4,1022.8 623.4,1023.7 621.9,1023.7 621.9,1022.2 618.9,1022.2 618.9,1023 615.4,1023 615.4,1020.7 612.4,1020.7 612.4,1022.2 609.4,1022.2 609.4,1021.4 606.9,1021.4 606.9,1020.6 604.4,1020.6 604.4,1021.9 601.4,1021.9 601.4,1020.5 599.4,1020.5 599.4,1020.4 596.9,1020.4 596.9,1024 593.9,1024 593.9,1021.7 590.4,1021.7 590.4,1021.5 587.4,1021.5 587.4,1023.4 583.9,1023.4 583.9,1021.3 581.4,1021.3 581.4,1022.5 579.9,1022.5 579.9,1020.9 578.4,1020.9 578.4,1023.9 575.9,1023.9 575.9,1021.3 572.4,1021.3 572.4,1020.2 568.9,1020.2 568.9,1022.2 566.4,1022.2 566.4,1022 563.4,1022 563.4,1019.7 561.9,1019.7 561.9,1023 560.4,1023 560.4,1024.3 556.9,1024.3 556.9,1021.3 553.9,1021.3 553.9,1020.4 551.9,1020.4 551.9,1022.1 548.4,1022.1 548.4,1024.1 546.4,1024.1 546.4,1021.6 544.9,1021.6 544.9,1023.5 541.9,1023.5 541.9,1022.6 539.9,1022.6 539.9,1022.7 536.4,1022.7 536.4,1020.4 533.4,1020.4 533.4,1020.3 530.4,1020.3 530.4,1020.1 528.4,1020.1 528.4,1020.8 525.4,1020.8 525.4,1019.9 522.4,1019.9 522.4,1019.8 519.4,1019.8 519.4,1022.1 516.9,1022.1 516.9,1021.3 515.4,1021.3 515.4,1022.5 513.4,1022.5 513.4,1022.8 511.9,1022.8 511.9,1021.2 509.9,1021.2 509.9,1022.4 506.4,1022.4 506.4,1020.4 504.4,1020.4 504.4,1020 502.9,1020 502.9,1022.5 500.4,1022.5 500.4,1020.3 498.9,1020.3 498.9,1024.4 495.9,1024.4 495.9,1020 492.9,1020 492.9,1022.6 490.9,1022.6 490.9,1023.1 487.9,1023.1 487.9,1021.4 484.9,1021.4 484.9,1019.7 483.4,1019.7 483.4,1022.9 479.9,1022.9 479.9,1022.1 477.9,1022.1 477.9,1021.5 475.4,1021.5 475.4,1020.9 472.9,1020.9 472.9,1024.2 470.4,1024.2 470.4,1023.6 468.4,1023.6 468.4,1023.8 466.9,1023.8 466.9,1021 464.4,1021 464.4,1023.1 461.4,1023.1 461.4,1022.9 459.4,1022.9 459.4,1022.1 456.9,1022.1 456.9,1021.5 454.9,1021.5 454.9,1024 452.9,1024 452.9,1024.1 449.9,1024.1 449.9,1019.8 446.4,1019.8 446.4,1022.5 443.9,1022.5 443.9,1022 440.9,1022 440.9,1023.1 437.9,1023.1 437.9,1020.3 434.4,1020.3 434.4,1021.7 431.4,1021.7 431.4,1019.7 428.4,1019.7 428.4,1023.3 424.9,1023.3 424.9,1019.7 422.4,1019.7 422.4,1019.8 418.9,1019.8 418.9,1020 416.4,1020 416.4,1019.7 413.9,1019.7 413.9,1023.6 410.4,1023.6 410.4,1023.3 406.9,1023.3 406.9,1020.7 405.4,1020.7 405.4,1021.7 402.9,1021.7 402.9,1020.8 400.4,1020.8 400.4,1023.3 396.9,1023.3 396.9,1023.7 394.9,1023.7 394.9,1023 391.4,1023 391.4,1019.9 389.4,1019.9 389.4,1022.5 386.9,1022.5 386.9,1023.8 384.9,1023.8 384.9,1020.6 382.4,1020.6 382.4,1024.1 378.9,1024.1 378.9,1020.7 377.4,1020.7 377.4,1022.7 375.9,1022.7 375.9,1023.6 372.9,1023.6 372.9,1022.7 371.4,1022.7 371.4,1020.9 369.4,1020.9 369.4,1023.8 367.4,1023.8 367.4,1023.1 363.9,1023.1 363.9,1021.3 362.4,1021.3 362.4,1022.1 360.4,1022.1 360.4,1021.2 358.9,1021.2 358.9,1024.2 356.9,1024.2 356.9,1021 353.9,1021 353.9,1023.3 350.4,1023.3 350.4,1019.7 348.4,1019.7 348.4,1020.3 346.9,1020.3 346.9,1022.5 344.9,1022.5 344.9,1023.7 342.4,1023.7 342.4,1023.9 338.9,1023.9 338.9,1023.2 335.4,1023.2 335.4,1022 333.9,1022 333.9,1020.9 331.9,1020.9 331.9,1022.9 330.4,1022.9 330.4,1021.8 326.9,1021.8 326.9,1020.5 324.9,1020.5 324.9,1024.2 323.4,1024.2 323.4,1022.6 320.9,1022.6 320.9,1024 317.4,1024 317.4,1024.2 315.9,1024.2 315.9,1020.3 312.4,1020.3 312.4,1023.2 309.9,1023.2 309.9,1022 306.4,1022 306.4,1022.7 304.4,1022.7 304.4,1023.7 302.4,1023.7 302.4,1019.6 299.4,1019.6 299.4,1021.5 297.4,1021.5 297.4,1020.3 294.4,1020.3 294.4,1022.6 292.9,1022.6 292.9,1020.6 291.4,1020.6 291.4,1024.2 288.4,1024.2 288.4,1021.5 285.4,1021.5 285.4,1021 281.9,1021 281.9,1019.6 280.4,1019.6 280.4,1023.1 277.4,1023.1 277.4,1020.6 275.9,1020.6 275.9,1024 272.4,1024 272.4,1022.7 269.9,1022.7 269.9,1021.3 267.4,1021.3 267.4,1022.2 265.9,1022.2 265.9,1023 264.4,1023 264.4,1022.8 262.9,1022.8 262.9,1023 259.9,1023 259.9,1023.2 256.9,1023.2 256.9,1021.1 255.4,1021.1 255.4,1020.2 251.9,1020.2 251.9,1020.4 249.9,1020.4 249.9,1023.8 246.9,1023.8 246.9,1022.4 245.4,1022.4 245.4,1020.6 241.9,1020.6 241.9,1023.8 239.4,1023.8 239.4,1019.9 237.4,1019.9 237.4,1019.7 233.9,1019.7 233.9,1020.9 230.4,1020.9 230.4,1021.2 227.4,1021.2 227.4,1019.9 225.4,1019.9 225.4,1020.1 223.4,1020.1 223.4,1019.7 220.4,1019.7 220.4,1020.2 217.4,1020.2 217.4,1021.2 215.4,1021.2 215.4,1022.2 213.4,1022.2 213.4,1023.6 209.9,1023.6 209.9,1023.5 208.4,1023.5 208.4,1022.6 204.9,1022.6 204.9,1021.2 201.4,1021.2 201.4,1022 198.4,1022 198.4,1022.1 195.4,1022.1 195.4,1023.8 192.9,1023.8 192.9,1022.3 191.4,1022.3 191.4,1021 188.9,1021 188.9,1023 186.9,1023 186.9,1024 184.9,1024 184.9,1022 182.9,1022 182.9,1023.7 181.4,1023.7" fill="#000000"/>
<polyline points="181.4,1012.1 183,1008.7 183.1,1008.6 183.5,1008.5 184.6,1011.1 186.2,1014.8 186.3,1015 186.5,1015 187.8,1007.2 189.4,997.6 190.5,991 191,991 191.5,991 192.6,997.6 194.2,1007.2 195.5,1015 195.8,1015 197.4,1015 199,1015 200.6,1015 202.2,1015 203.8,1015 205.4,1015 207,1015 208.6,1015 210.2,1015 211.8,1015 213.4,1015 215,1015 215.9,1015 216.6,1014.4 218.2,1013.2 219.8,1011.9 220.3,1011.5 221.4,1011.5 221.8,1011.5 223,1013.8 223.6,1015 224.6,1015 226.2,1015 227.8,1015 229.4,1015 231,1015 232.6,1015 234.2,1015 235.8,1015 237.4,1015 239,1015 240.6,1015 242.2,1015 243.8,1015 244.8,1015 245.4,1014.4 247,1012.7 247.5,1012.2 248.6,1012.2 249.9,1012.2 250.2,1012.6 251,1013.7 251.8,1008.9 251.9,1008 253.4,997.2 254.5,989 255,989 255.5,989 256.6,997.2 258.2,1009.1 259,1015 259.8,1015 261.4,1015 262.3,1015 263,1013.1 264.6,1008.6 264.7,1008.3 266.2,1008.3 266.8,1008.4 267.8,1011.2 269.2,1015 269.4,1015 271,1015 272.6,1015 273.2,1015 274.2,1013 275.8,1009.9 275.9,1009.7 277.4,1009.7 278.9,1009.7 279,1010.2 279.6,1012.2 280.4,1014.4 280.6,1014.3 282.2,1013.1 282.5,1012.9 282.5,1012.9 283.8,1014.3 284.5,1015 285.4,1015 287,1015 288.6,1015 290.2,1015 291.8,1015 293.4,1015 295,1015 296.6,1015 297.6,1015 298.2,998.9 299.8,959.1 301.4,919.4 303,879.7 303.6,866 304.6,866 305.1,866 306.2,894.6 307.8,934.3 309.4,974 311,1013.8 311.1,1015 312.6,1015 314.2,1015 315.8,1015 316.6,1015 317.4,1013.8 318.2,1012.7 318.3,1012.4 319,1011.8 320.5,1010.5 320.5,1010.5 320.6,1010.6 321.2,1010.9 322.2,1012 323.8,1013.7 324.9,1015 325,1015 325.4,1015 327,1015 328.6,1015 330.2,1015 331.8,1015 333.4,1015 334.7,1015 335,1014.2 336.6,1009.6 337,1008.4 338.2,1008.4 339.2,1008.4 339.8,1010.7 340.9,1015 341.4,1015 343,1015 344.6,1015 346.2,1015 347.8,1015 349.4,1015 351,1015 352.6,1015 354.2,1015 355.8,1015 357.4,1015 359,1015 360.6,1015 362.2,1015 363.8,1015 365.4,1015 367,1015 368.6,1015 370.2,1015 371.8,1015 373.4,1015 375,1015 376.6,1015 378.2,1015 379.8,1015 381.4,1015 383,1015 384.6,1015 386.2,1015 387.8,1015 389.4,1015 391,1015 392.6,1015 394.2,1015 395.8,1015 397.4,1015 397.7,1015 399,1001.1 400.6,983.9 402.2,966.7 403.2,956 403.8,956 404.2,956 405.4,968.9 407,986 408.6,1003.2 409.7,1015 410.2,1015 411.8,1015 413.4,1015 415,1015 416.6,1015 418.2,1015 419.8,1015 421.4,1015 423,1015 424.6,1015 426.2,1015 426.5,1015 427.8,1014.2 429.4,1013.3 430.1,1012.9 431,1012.9 431.1,1012.9 432.6,1013.6 434.2,1014.4 435.5,1015 435.8,1015 437.4,1015 439,1015 440.6,1015 442.2,1015 443.8,1015 445.4,1015 447,1015 448.4,1015 448.6,1014.8 450.2,1013.7 451.5,1012.7 451.8,1012.7 452,1012.7 453.4,1014.4 453.9,1015 455,1015 456.6,1015 458.2,1015 459.8,1015 461.4,1015 463,1015 464.6,1015 464.8,1015 466.2,1012.5 467.2,1010.7 467.8,1010.7 468.1,1010.7 469.4,1012.8 470.8,1015 471,1015 472.6,1015 474.2,1015 475.8,1015 477.3,1015 477.4,1014 479,998.7 480.6,983.3 482.2,968 482.3,967 482.9,967 483.8,975.6 485.4,991 487,1006.4 487.9,1015 488.6,1015 490.2,1015 491.8,1015 493.4,1015 495,1015 496.6,1015 498.2,1015 499.8,1015 501.4,1015 503,1015 504.6,1015 506.2,1015 507.8,1015 509.4,1015 511,1015 512.6,1015 514.2,1015 515.8,1015 517.4,1015 519,1015 520.6,1015 522.2,1015 523.8,1015 525.4,1015 527,1015 528.6,1015 530.2,1015 531.8,1015 533.4,1015 535,1015 536.6,1015 538.2,1015 539.8,1015 541.4,1015 543,1015 544.6,1015 546.2,1015 547.8,1015 549.4,1015 551,1015 552.6,1015 554.2,1015 555.8,1015 557.4,1015 559,1015 560.6,1015 562.2,1015 563.8,1015 565.4,1015 567,1015 568.6,1015 570.2,1015 571.8,1015 573.4,1015 575,1015 576.6,1015 576.7,1015 578.2,1012.8 579.8,1010.5 580.7,1009.1 581.4,1009.1 583,1009.1 583.6,1009.1 583.9,1009.5 584.6,1009.8 586.2,1010.6 587.8,1011.4 587.9,1011.4 588.1,1011.2 588.2,1011.2 589.4,1010.2 590,1009.6 591,1010.7 591.9,1011.7 592.1,1011.6 592.6,1011.6 594.2,1011.6 594.5,1011.6 595.8,1013.4 597,1015 597.4,1015 599,1015 600.6,1015 602.2,1015 603.8,1015 604.2,1015 605.4,1012.7 607,1009.7 608.3,1007.2 608.6,1007.2 610.2,1007.2 610.6,1007.2 611.8,1009.3 613.4,1012.1 615,1014.8 615.1,1015 616.6,1015 618.2,1015 619.5,1015 619.8,1014.2 621.2,1009.9 621.4,1009.9 622.9,1009.9 623,1009.8 624.1,1008.6 624.6,1008.7 626.2,1009 627.1,1009.1 627.8,1010 628.1,1010.3 628.3,1010.3 629.4,1012.2 631,1015 631,1015 632.6,1015 634.2,1015 635.8,1015 637.4,1015 639,1015 640.6,1015 642.2,1015 643.8,1015 645.4,1015 645.8,1015 647,1012 648.6,1008.1 648.8,1007.7 650.2,1007.7 650.7,1007.7 651.8,1010.7 653.3,1015 653.4,1015 655,1015 656.3,1015 656.6,1014.8 658.2,1013.6 659.5,1012.7 659.6,1012.6 659.8,1012.2 661.4,1009.2 661.5,1008.9 662.9,1007.9 663,1007.9 663.6,1008.6 664.6,1008.6 664.8,1008.6 666.2,1011.3 667.8,1014.2 668.2,1015 669.3,1015 669.4,1014.3 671,1003.5 672.6,992.7 673.3,988 674.2,988 675.3,988 675.8,991.4 677.4,1002.2 679,1013 679.3,1015 680.6,1015 682.2,1015 683.8,1015 685.4,1015 685.5,1015 687,1012.2 688.5,1009.3 688.6,1009.3 688.7,1009.3 690.2,1012.2 691.7,1015 691.8,1015 691.9,1015 693.4,1008.4 693.7,1007.1 695,1007.1 695.6,1007.1 695.8,1006.6 696.6,1006.2 697.5,1005.8 698.2,1007.1 699,1008.5 699.8,1011 700.1,1011.8 701.4,1013.3 702.8,1015 703,1015 704.6,1015 706.2,1015 707.8,1015 709.4,1015 711,1015 712.6,1015 714.2,1015 715.8,1015 717.4,1015 718.9,1015 719,1014.4 720.6,1007.6 722.2,1000.8 722.9,998 723.8,998 724.4,998 725.4,1003.9 727,1013 727.4,1015 728.6,1015 730.2,1015 731.8,1015 733.4,1015 735,1015 736.6,1015 738.2,1015 739.8,1015 741.4,1015" fill="none" stroke="#000000" stroke-width="7" stroke-linejoin="round" stroke-linecap="round" stroke-linejoin="miter" stroke-miterlimit="2.5"/>
<path d="M655.7 1014.4h3v-11.1h-3zM263 1010.2h2v-8.6h-2zM730.9 1015h2.5v-8h-2.5zM639.6 1015h2.5v-12.4h-2.5zM431 1013.8h4v7.6h-4zM569.1 1015h3v8.3h-3zM466.8 1010.7h2v8.3h-2zM658.4 1011.6h3.5v7.9h-3.5zM452.8 1015h4v9h-4zM522.3 1015h2v-8.7h-2zM215.8 1013.9h3v-8.4h-3zM338.4 1011.9h3.5v7.6h-3.5zM456.7 1015h3v-11h-3zM378.6 1015h2v-8.4h-2zM690.1 1014.8h3v-11.5h-3zM735 1015h3.5v7.5h-3.5zM500.5 1015h4v-9.8h-4zM277.8 1010.3h2.5v8.4h-2.5zM184.4 1013.5h2.5v-12h-2.5zM531.9 1015h3v-8.7h-3zM392.2 1015h2v-9.1h-2zM523.5 1015h4v8h-4zM458.6 1015h3.5v7.8h-3.5zM248.8 1012.7h3v-9.3h-3zM183.4 1011.9h3v-8.2h-3zM722.6 998h2.5v9.5h-2.5zM248.6 1012.2h2v-12.6h-2zM344 1015h2.5v-9.1h-2.5zM342.8 1015h4v-9.7h-4zM540.8 1015h2v-10.9h-2zM322.3 1014h3.5v8h-3.5zM681.3 1015h2v8.9h-2zM232.7 1015h3.5v-10.1h-3.5zM659.3 1010.3h3v-9h-3zM365.4 1015h3.5v-9.9h-3.5zM556.1 1015h2v-8.6h-2zM664.1 1011.1h4v8.5h-4zM372.4 1015h3v8.6h-3zM627.8 1011.6h2.5v-12h-2.5zM230.5 1015h4v-9.5h-4z" fill="#000000"/>
<line x1="203.4" y1="6" x2="203.4" y2="149" stroke="#000" stroke-width="3.8" stroke-dasharray="3.6 4.0"/>
<line x1="205.2" y1="149" x2="209.8" y2="702" stroke="#000" stroke-width="3.8" stroke-dasharray="3.6 4.0"/>
<line x1="301.3" y1="6" x2="301.5" y2="831" stroke="#000" stroke-width="3.8" stroke-dasharray="3.6 4.0"/>
<line x1="320.8" y1="6" x2="320.5" y2="623" stroke="#000" stroke-width="3.8" stroke-dasharray="3.6 4.0"/>
<line x1="405.5" y1="6" x2="405.5" y2="1037" stroke="#000" stroke-width="3.8" stroke-dasharray="3.6 4.0"/>
<line x1="483.7" y1="6" x2="483" y2="1037" stroke="#000" stroke-width="3.8" stroke-dasharray="3.6 4.0"/>
<line x1="668.2" y1="189" x2="668.2" y2="304" stroke="#000" stroke-width="3.8" stroke-dasharray="3.6 4.0"/>
<line x1="670.3" y1="361.5" x2="672.2" y2="971" stroke="#000" stroke-width="3.8" stroke-dasharray="3.6 4.0"/>
<line x1="724.8" y1="187" x2="727.2" y2="994" stroke="#000" stroke-width="3.8" stroke-dasharray="3.6 4.0"/>
<line x1="404" y1="421" x2="404" y2="624" stroke="#000" stroke-width="1.3" />
<line x1="666.3" y1="991.3" x2="659" y2="968" stroke="#000" stroke-width="1.5" stroke-dasharray="3 2"/>
<polygon points="657,962 655,972 663,969" fill="#000"/>
<rect x="124" y="6" width="674" height="1031" fill="none" stroke="#000" stroke-width="2.4"/>
<line x1="112" y1="188.6" x2="124" y2="188.6" stroke="#000" stroke-width="2.2" />
<text x="101.5" y="198.1" font-size="27" font-weight="normal" text-anchor="end" fill="#333" >0.0</text>
<line x1="112" y1="136.8" x2="124" y2="136.8" stroke="#000" stroke-width="2.2" />
<text x="101.5" y="146.3" font-size="27" font-weight="normal" text-anchor="end" fill="#333" >2.7</text>
<line x1="112" y1="85" x2="124" y2="85" stroke="#000" stroke-width="2.2" />
<text x="101.5" y="94.5" font-size="27" font-weight="normal" text-anchor="end" fill="#333" >5.4</text>
<line x1="112" y1="33.2" x2="124" y2="33.2" stroke="#000" stroke-width="2.2" />
<text x="101.5" y="42.7" font-size="27" font-weight="normal" text-anchor="end" fill="#333" >8.1</text>
<line x1="117" y1="163.3" x2="124" y2="163.3" stroke="#000" stroke-width="2.2" />
<line x1="117" y1="112.7" x2="124" y2="112.7" stroke="#000" stroke-width="2.2" />
<line x1="117" y1="59.7" x2="124" y2="59.7" stroke="#000" stroke-width="2.2" />
<line x1="117" y1="7.3" x2="124" y2="7.3" stroke="#000" stroke-width="2.2" />
<line x1="112" y1="393" x2="124" y2="393" stroke="#000" stroke-width="2.2" />
<text x="101.5" y="402.5" font-size="27" font-weight="normal" text-anchor="end" fill="#333" >0</text>
<line x1="112" y1="339.7" x2="124" y2="339.7" stroke="#000" stroke-width="2.2" />
<text x="101.5" y="349.2" font-size="27" font-weight="normal" text-anchor="end" fill="#333" >2</text>
<line x1="112" y1="289" x2="124" y2="289" stroke="#000" stroke-width="2.2" />
<text x="101.5" y="298.5" font-size="27" font-weight="normal" text-anchor="end" fill="#333" >4</text>
<line x1="112" y1="237.6" x2="124" y2="237.6" stroke="#000" stroke-width="2.2" />
<text x="101.5" y="247.1" font-size="27" font-weight="normal" text-anchor="end" fill="#333" >6</text>
<line x1="117" y1="367.7" x2="124" y2="367.7" stroke="#000" stroke-width="2.2" />
<line x1="117" y1="314.4" x2="124" y2="314.4" stroke="#000" stroke-width="2.2" />
<line x1="117" y1="264" x2="124" y2="264" stroke="#000" stroke-width="2.2" />
<line x1="117" y1="212.2" x2="124" y2="212.2" stroke="#000" stroke-width="2.2" />
<line x1="112" y1="625.3" x2="124" y2="625.3" stroke="#000" stroke-width="2.2" />
<text x="101.5" y="634.8" font-size="27" font-weight="normal" text-anchor="end" fill="#333" >0</text>
<line x1="112" y1="573.4" x2="124" y2="573.4" stroke="#000" stroke-width="2.2" />
<text x="101.5" y="582.9" font-size="27" font-weight="normal" text-anchor="end" fill="#333" >110</text>
<line x1="112" y1="523.6" x2="124" y2="523.6" stroke="#000" stroke-width="2.2" />
<text x="101.5" y="533.1" font-size="27" font-weight="normal" text-anchor="end" fill="#333" >220</text>
<line x1="112" y1="473" x2="124" y2="473" stroke="#000" stroke-width="2.2" />
<text x="101.5" y="482.5" font-size="27" font-weight="normal" text-anchor="end" fill="#333" >330</text>
<line x1="112" y1="422" x2="124" y2="422" stroke="#000" stroke-width="2.2" />
<text x="101.5" y="431.5" font-size="27" font-weight="normal" text-anchor="end" fill="#333" >440</text>
<line x1="117" y1="598.9" x2="124" y2="598.9" stroke="#000" stroke-width="2.2" />
<line x1="117" y1="547.8" x2="124" y2="547.8" stroke="#000" stroke-width="2.2" />
<line x1="117" y1="499.3" x2="124" y2="499.3" stroke="#000" stroke-width="2.2" />
<line x1="117" y1="448.2" x2="124" y2="448.2" stroke="#000" stroke-width="2.2" />
<line x1="112" y1="1013.9" x2="124" y2="1013.9" stroke="#000" stroke-width="2.2" />
<text x="101.5" y="1023.4" font-size="27" font-weight="normal" text-anchor="end" fill="#333" >0.0</text>
<line x1="112" y1="962.9" x2="124" y2="962.9" stroke="#000" stroke-width="2.2" />
<text x="101.5" y="972.4" font-size="27" font-weight="normal" text-anchor="end" fill="#333" >8.4</text>
<line x1="112" y1="911" x2="124" y2="911" stroke="#000" stroke-width="2.2" />
<text x="101.5" y="920.5" font-size="27" font-weight="normal" text-anchor="end" fill="#333" >16.8</text>
<line x1="112" y1="860.3" x2="124" y2="860.3" stroke="#000" stroke-width="2.2" />
<text x="101.5" y="869.8" font-size="27" font-weight="normal" text-anchor="end" fill="#333" >25.2</text>
<line x1="117" y1="988.4" x2="124" y2="988.4" stroke="#000" stroke-width="2.2" />
<line x1="117" y1="938" x2="124" y2="938" stroke="#000" stroke-width="2.2" />
<line x1="117" y1="885.6" x2="124" y2="885.6" stroke="#000" stroke-width="2.2" />
<line x1="117" y1="835.8" x2="124" y2="835.8" stroke="#000" stroke-width="2.2" />
<text x="108" y="661" font-size="27" font-weight="normal" text-anchor="end" fill="#333" >540</text>
<text x="108" y="712.5" font-size="27" font-weight="normal" text-anchor="end" fill="#333" >360</text>
<text x="108" y="765" font-size="27" font-weight="normal" text-anchor="end" fill="#333" >180</text>
<text x="108" y="817.5" font-size="27" font-weight="normal" text-anchor="end" fill="#333" >0</text>
<line x1="182.9" y1="1037" x2="182.9" y2="1050" stroke="#000" stroke-width="2.2" />
<text x="182.9" y="1081" font-size="25" font-weight="bold" text-anchor="middle" fill="#111" >10</text>
<line x1="262.4" y1="1037" x2="262.4" y2="1050" stroke="#000" stroke-width="2.2" />
<text x="262.4" y="1081" font-size="25" font-weight="bold" text-anchor="middle" fill="#111" >20</text>
<line x1="341.9" y1="1037" x2="341.9" y2="1050" stroke="#000" stroke-width="2.2" />
<text x="341.9" y="1081" font-size="25" font-weight="bold" text-anchor="middle" fill="#111" >30</text>
<line x1="421.4" y1="1037" x2="421.4" y2="1050" stroke="#000" stroke-width="2.2" />
<text x="421.4" y="1081" font-size="25" font-weight="bold" text-anchor="middle" fill="#111" >40</text>
<line x1="500.9" y1="1037" x2="500.9" y2="1050" stroke="#000" stroke-width="2.2" />
<text x="500.9" y="1081" font-size="25" font-weight="bold" text-anchor="middle" fill="#111" >50</text>
<line x1="580.4" y1="1037" x2="580.4" y2="1050" stroke="#000" stroke-width="2.2" />
<text x="580.4" y="1081" font-size="25" font-weight="bold" text-anchor="middle" fill="#111" >60</text>
<line x1="659.9" y1="1037" x2="659.9" y2="1050" stroke="#000" stroke-width="2.2" />
<text x="659.9" y="1081" font-size="25" font-weight="bold" text-anchor="middle" fill="#111" >70</text>
<line x1="739.4" y1="1037" x2="739.4" y2="1050" stroke="#000" stroke-width="2.2" />
<text x="739.4" y="1081" font-size="25" font-weight="bold" text-anchor="middle" fill="#111" >80</text>
<line x1="143.2" y1="1037" x2="143.2" y2="1044" stroke="#000" stroke-width="2.2" />
<line x1="222.7" y1="1037" x2="222.7" y2="1044" stroke="#000" stroke-width="2.2" />
<line x1="302.1" y1="1037" x2="302.1" y2="1044" stroke="#000" stroke-width="2.2" />
<line x1="381.6" y1="1037" x2="381.6" y2="1044" stroke="#000" stroke-width="2.2" />
<line x1="461.1" y1="1037" x2="461.1" y2="1044" stroke="#000" stroke-width="2.2" />
<line x1="540.6" y1="1037" x2="540.6" y2="1044" stroke="#000" stroke-width="2.2" />
<line x1="620.1" y1="1037" x2="620.1" y2="1044" stroke="#000" stroke-width="2.2" />
<line x1="699.6" y1="1037" x2="699.6" y2="1044" stroke="#000" stroke-width="2.2" />
<line x1="779.1" y1="1037" x2="779.1" y2="1044" stroke="#000" stroke-width="2.2" />
<line x1="509.8" y1="128.5" x2="586.1" y2="128.5" stroke="#9900cc" stroke-width="7" stroke-linecap="round"/>
<text x="596" y="140.7" font-size="34" font-weight="normal" text-anchor="start" fill="#000" >TCNBC</text>
<line x1="509.8" y1="335.3" x2="587.2" y2="335.3" stroke="#008000" stroke-width="7" stroke-linecap="round"/>
<text x="596.8" y="346" font-size="34" font-weight="normal" text-anchor="start" fill="#000" >TCN</text>
<line x1="509.8" y1="551.3" x2="587.2" y2="551.3" stroke="#0000ff" stroke-width="7" stroke-linecap="round"/>
<text x="596" y="560.5" font-size="34" font-weight="normal" text-anchor="start" fill="#000" >BC</text>
<line x1="509.8" y1="753.4" x2="587.2" y2="753.4" stroke="#ff0000" stroke-width="7" stroke-linecap="round"/>
<text x="596" y="763" font-size="34" font-weight="normal" text-anchor="start" fill="#000" >CN</text>
<line x1="519.8" y1="970.6" x2="594.5" y2="970.6" stroke="#000000" stroke-width="7" stroke-linecap="round"/>
<text x="606" y="981.5" font-size="34" font-weight="normal" text-anchor="start" fill="#000" >T</text>
<text transform="translate(240.2,663) rotate(-90)" x="0" y="10" font-size="34" font-weight="normal" text-anchor="middle" stroke="#000" stroke-width="0.7">(100)</text>
<text transform="translate(348,604.6) rotate(-90)" x="0" y="10" font-size="34" font-weight="normal" text-anchor="middle" stroke="#000" stroke-width="0.7">(002)</text>
<text transform="translate(330,820.5) rotate(-90)" x="0" y="10" font-size="34" font-weight="normal" text-anchor="middle" stroke="#000" stroke-width="0.7">(101)</text>
<text transform="translate(420.9,913) rotate(-90)" x="0" y="10" font-size="34" font-weight="normal" text-anchor="middle" stroke="#000" stroke-width="0.7">(004)</text>
<text transform="translate(499.4,916.5) rotate(-90)" x="0" y="10" font-size="34" font-weight="normal" text-anchor="middle" stroke="#000" stroke-width="0.7">(200)</text>
<text transform="translate(645.7,916.5) rotate(-90)" x="0" y="10" font-size="34" font-weight="normal" text-anchor="middle" stroke="#000" stroke-width="0.7">(220)</text>
<text transform="translate(703,942.5) rotate(-90)" x="0" y="10" font-size="34" font-weight="normal" text-anchor="middle" stroke="#000" stroke-width="0.7">(215)</text>
<text x="0" y="76" font-size="56" font-weight="bold" text-anchor="start" fill="#000" >a)</text>
<text transform="translate(21,501.7) rotate(-90)" x="0" y="11.7" font-size="33.4" font-weight="bold" text-anchor="middle" >Intensity (a.u.)</text>
<text x="460" y="1135" font-size="34" font-weight="bold" text-anchor="middle" fill="#000" >2-Theta (degree)</text>
<polyline points="939.7,445.6 941.3,446.4 942.8,446.3 944.4,445.7 945.9,446 947.5,445.9 949.1,446.2 950.6,446.3 952.2,445.5 953.8,445.4 955.3,446.4 956.9,445.9 958.4,446.3 960,445.4 961.5,445.7 963,445.8 964.5,444.9 966,445.5 967.5,445.2 969,443.9 970.5,443.7 972,444 973.5,445.3 975,445.4 976.5,445.9 978,446.9 979.8,445.7 981.5,445.2 983.2,444.7 985,444 986.7,444.7 988.3,445.7 990,446.7 991.7,448 993.3,448.7 995,449.4 996.5,451.3 998,451.9 999.5,452.9 1001,453.2 1002.5,455.1 1004,455.8 1005.5,455.8 1007,457 1008.5,458.4 1010,459.3 1011.5,459.9 1013.1,459.6 1014.6,460.4 1016.1,460.5 1017.7,460.4 1019.2,461.1 1020.7,461.8 1022.3,462.1 1023.8,462 1025.4,461.4 1027,460 1028.7,459.6 1030.3,459.6 1031.9,458.4 1033.5,457.4 1035.1,457.2 1036.8,456.6 1038.4,455.9 1040,454.8 1041.5,454.5 1043.1,454.1 1044.6,453.9 1046.2,453.2 1047.7,452.6 1049.2,452.2 1050.8,451.2 1052.3,450.8 1053.8,451.1 1055.4,451 1056.9,450 1058.5,449.3 1060,448.6 1061.5,448.6 1063,448.8 1064.5,448.1 1066,447.4 1067.5,447.4 1069,446.3 1070.5,446.2 1072,446.3 1073.5,445.5 1075,445 1076.5,444.3 1078,444.3 1079.5,444.3 1081,442.8 1082.5,443.3 1084,443 1085.5,442.7 1087,442.1 1088.5,441.8 1090,441 1091.5,440.9 1093.1,440.6 1094.6,440 1096.2,440.8 1097.7,440.3 1099.2,439.7 1100.8,439.9 1102.3,439.8 1103.8,439.4 1105.4,439.3 1106.9,439.4 1108.5,439.3 1110,439.1 1111.5,438.8 1113.1,438.1 1114.6,438.2 1116.2,438 1117.7,438.3 1119.2,438.5 1120.8,438.3 1122.3,438.1 1123.8,438 1125.4,437.2 1126.9,437.7 1128.5,437.4 1130,436.5 1131.5,436.3 1133,436.2 1134.5,436.9 1136.1,436.2 1137.6,435.9 1139.1,436.4 1140.6,436 1142.1,435.5 1143.6,435.5 1145.2,435.8 1146.7,435.3 1148.2,435.3 1149.7,435.7 1151.2,435.2 1152.7,435 1154.2,435 1155.8,434.4 1157.3,434.7 1158.8,434.6 1160.3,434.2 1161.8,434 1163.3,434.8 1164.8,434.2 1166.4,433.7 1167.9,434.1 1169.4,434.2 1170.9,433.2 1172.4,433 1173.9,433.1 1175.5,433.6 1177,432.8 1178.5,433.4 1180,433.2 1181.5,432.9 1183,432.4 1184.5,433.2 1186,432.8 1187.5,432.4 1189,431.9 1190.5,432.3 1192,431.8 1193.5,431.9 1195,431.5 1196.5,431.7 1198,430.9 1199.5,431.1 1201,431.7 1202.5,431.5 1204,430.7 1205.6,431.2 1207.1,430.4 1208.6,431.1 1210.1,430.7 1211.6,430.2 1213.1,429.8 1214.6,429.4 1216.1,430.3 1217.6,429.2 1219.1,430 1220.6,430 1222.1,429.4 1223.6,428.8 1225.1,429.5 1226.6,429.5 1228.1,429.1 1229.6,428.7 1231.2,428.1 1232.7,427.6 1234.3,427 1235.9,427.2 1237.4,426.4 1239,425.7 1240.6,425.2 1242.2,425.4 1243.7,424.5 1245.3,424.3 1246.9,423.7 1248.4,423.9 1250,423.5 1251.5,422.1 1253.1,422 1254.6,421.9 1256.2,422.4 1257.7,421.8 1259.2,421 1260.8,420.5 1262.3,420.7 1263.8,420.6 1265.4,420.4 1266.9,419.4 1268.5,419.8 1270,419.2 1271.5,419.1 1273,419.8 1274.5,419.1 1276,419.8 1277.5,419.1 1279,419.4 1280.5,420.4 1282,419.7 1283.8,421.3 1285.7,422.1 1287.5,423.4 1289,421.5 1290.5,420.1 1292,418.7 1293.6,418.8 1295.2,417.9 1296.8,417.7 1298.4,417.1 1300,415.6 1301.6,415.7 1303.1,414.8 1304.7,414.3 1306.3,414 1307.9,414.6 1309.4,414.1 1311,413.8 1312.7,413.5 1314.4,414.1 1316.2,414.6 1317.9,414.4 1319.6,414.9 1321.4,413.2 1323.2,411.8 1325,410.7 1326.8,410 1328.5,408.1 1330.2,407 1332,404.9 1333.5,403.9 1335.1,403.6 1336.6,402.7 1338.1,400.9 1339.6,400.8 1341.2,399.2 1342.7,398.4 1344.2,398.4 1345.7,396.5 1347.3,395.9 1348.8,395.9 1350.4,395.4 1352,395.3 1353.6,395.6 1355.2,396 1356.8,396.8 1358.4,396.3 1360,397.5 1361.5,398.4 1363,400.7 1364.5,402.2 1366.1,403 1367.6,404.5 1369.1,406.4 1370.6,407.5 1372.1,409.7 1373.6,410.5 1375.1,412.1 1376.6,414.8 1378.2,415.5 1379.7,417.5 1381.2,418.9 1382.7,420.3 1384.2,421.5 1385.7,424.1 1387.2,425.7 1388.7,427.3 1390.3,427.8 1391.8,429.5 1393.3,431.6 1394.8,433.6 1396.3,434.2 1397.9,435.6 1399.4,436.7 1400.9,437.4 1402.5,438.9 1404,439.8 1405.7,441.5 1407.4,443.2 1409.2,445.2 1410.9,447.9 1412.6,449.1 1414.3,451.2 1415.8,451.7 1417.3,452.6 1418.8,452.5 1420.3,452.9 1421.9,453.4 1423.4,454 1424.9,455.1 1426.4,455.7 1427.9,455.5 1429.4,456.1 1430.9,456.9 1432.4,457.4 1434,458 1435.5,458.1 1437,458.4 1438.5,459.2 1440,459.5 1441.5,460.7 1443.1,460.7 1444.6,461.3 1446.2,462.6 1447.7,462.8 1449.2,464 1450.8,464.3 1452.3,465.4 1453.8,465.1 1455.4,466.2 1456.9,467.1 1458.5,466.9 1460,468.5 1461.5,466.9 1463,466.8 1464.5,466.3 1466,465.4 1467.8,466.6 1469.6,468.2 1471.4,470.5" fill="none" stroke="#555555" stroke-width="5.2" stroke-linejoin="round" stroke-linecap="round" />
<polyline points="939.7,354.2 941.3,354.1 942.8,352.8 944.4,352.7 945.9,353.4 947.5,353.1 949,352.8 950.6,352.2 952.1,352.4 953.7,352.2 955.2,352 956.8,351.3 958.3,351.5 959.9,351.2 961.4,351.4 963,351.6 964.5,351.4 966,350.7 967.5,350.4 969,350.1 970.5,349.6 972,349.5 973.5,349.8 975,349.5 976.5,349.4 978,349.8 979.5,349.2 981.1,349.6 982.7,349.5 984.3,349.6 986,350.3 987.6,350.4 989.2,351.2 990.8,352.1 992.3,353.1 993.9,354 995.4,356.2 996.9,357.5 998.5,358.9 1000,360.5 1001.7,362 1003.3,363.7 1005,364.8 1006.7,367.2 1008.3,368.9 1010,369.6 1011.5,371.5 1013.1,372.7 1014.6,373.6 1016.1,374.9 1017.7,376.1 1019.2,377.8 1020.7,378.6 1022.3,380.2 1023.8,380.8 1025.4,379.7 1027.1,377.9 1028.7,375.6 1030.4,373.9 1032,372.5 1033.8,370.4 1035.5,368.3 1037.3,366.1 1039,364.4 1040.8,363 1042.4,361.6 1044,361.7 1045.6,360.1 1047.2,360 1048.8,358.5 1050.4,358.4 1052,357.3 1053.6,356.3 1055.2,355.5 1056.8,354.8 1058.4,353.9 1060,352.8 1061.5,352.1 1063.1,351.9 1064.6,351.9 1066.2,351 1067.7,349.8 1069.3,350.1 1070.8,349.5 1072.4,349.1 1073.9,347.7 1075.5,347.8 1077,346.5 1078.5,347.1 1080,346.5 1081.6,346.3 1083.1,346.9 1084.6,345.9 1086.1,346.3 1087.7,346.5 1089.2,345.7 1090.7,345.5 1092.2,346.2 1093.7,345.5 1095.3,345.7 1096.8,344.8 1098.3,345 1099.8,344.7 1101.4,345.2 1102.9,344.3 1104.4,345.2 1105.9,343.9 1107.4,344.6 1109,343.6 1110.5,343.6 1112,344.1 1113.5,343.1 1115,343 1116.6,343.4 1118.1,342.9 1119.6,342.3 1121.1,343.2 1122.6,342 1124.2,341.7 1125.7,341.9 1127.2,342 1128.7,342 1130.2,341 1131.8,341.1 1133.3,340.5 1134.8,340.8 1136.3,341 1137.8,340.8 1139.4,340.8 1140.9,340.4 1142.4,340.4 1143.9,340 1145.4,339.5 1147,339.1 1148.5,339.4 1150,338.8 1151.6,338.3 1153.1,338.6 1154.7,338.9 1156.2,337.8 1157.8,338.2 1159.4,337.7 1160.9,337.7 1162.5,337.1 1164.1,337.9 1165.6,336.8 1167.2,337.1 1168.8,336.7 1170.3,336 1171.9,336.4 1173.4,335.8 1175,335.5 1176.7,336.4 1178.3,337.6 1179.9,338.5 1181.6,340.2 1183.3,338.8 1185,338.2 1186.6,336.9 1188.3,335.8 1190,333.7 1191.5,333.7 1193,333.2 1194.6,333.3 1196.1,333.1 1197.6,333 1199.1,332.6 1200.7,331.8 1202.2,331.8 1203.7,331.6 1205.2,330.7 1206.8,330.5 1208.3,330.7 1209.8,330 1211.3,330.5 1212.8,329.7 1214.4,329.2 1215.9,329 1217.4,328.8 1218.9,328.5 1220.5,328.6 1222,328.3 1223.5,327.8 1225,328 1226.6,327.2 1228.1,327.8 1229.6,327.6 1231.1,326.9 1232.7,326.2 1234.2,326 1235.7,325.7 1237.3,324.7 1238.8,324.8 1240.4,324.6 1241.9,323.8 1243.4,323.4 1245,323.9 1246.5,323 1248,322.8 1249.6,323 1251.1,322.3 1252.6,321.5 1254.2,322 1255.7,320.9 1257.2,320.2 1258.8,320.6 1260.3,319.6 1261.9,319.5 1263.4,319.8 1264.9,319.2 1266.5,318.1 1268,318.2 1269.6,319 1271.2,319.8 1272.8,320.3 1274.4,321.5 1276,321.7 1277.6,322.7 1279.3,324.7 1280.9,327.1 1282.6,327.9 1284.3,330.6 1286,331.7 1287.7,334 1289.3,335.6 1291,337.5 1292.5,336.6 1294,335 1295.5,333.5 1297,332.4 1298.5,331.2 1300,330.9 1301.5,329.5 1303,328.7 1304.5,327.2 1306,327.6 1307.5,329.5 1309,330.8 1310.5,331.9 1312,332.8 1313.5,333.8 1315,335.1 1316.5,336.7 1318,337.2 1319.5,338.7 1321,339.8 1322.6,341.5 1324.1,342.5 1325.6,343.8 1327.6,331.2 1329.2,330.3 1330.9,329.9 1332.5,330 1334.1,329.4 1335.7,329.4 1337.4,329.4 1339,329.4 1340.5,329.3 1342,329.8 1343.5,329.2 1345,329.8 1346.5,330.8 1348,330.1 1349.5,330.7 1351,330.5 1352.5,330.8 1354,332 1355.5,332.4 1357,332.3 1358.5,331.9 1360,332.4 1361.5,332.6 1363,333.4 1364.5,333.7 1366,333.6 1367.6,332.9 1369.3,331.6 1370.9,331.3 1372.6,330.9 1374.2,329.9 1375.9,328.2 1377.5,327.9 1379.1,326.4 1380.8,324 1382.4,323 1384.1,320.7 1385.7,319.2 1387.4,317.1 1389,316 1390.5,315.7 1392.1,315.4 1393.6,314.8 1395.1,315.1 1396.7,314.5 1398.2,315.2 1399.7,315.4 1401.3,314.5 1402.8,314.9 1404.3,314.8 1405.9,314.6 1407.4,314.9 1408.9,315.1 1410.5,314.8 1412,314.5 1413.6,315.2 1415.2,314.6 1416.8,315.3 1418.4,315.3 1420,315.6 1421.7,315.9 1423.3,315.3 1424.9,315.9 1426.5,315.8 1428.1,316.3 1429.7,316.8 1431.3,316.6 1432.8,316 1434.4,316.7 1435.9,317.2 1437.5,317.6 1439,317.5 1440.5,317.9 1442.1,317.2 1443.6,318.5 1445.2,318.4 1446.7,318.4 1448.3,318.3 1449.9,317.8 1451.5,316.4 1453.1,316.7 1454.7,316.2 1456.3,315 1458,315.2 1459.6,314.5 1461.2,313.6 1462.8,313.8 1464.4,312.5 1466,312.6 1468.8,298.9 1470,312.2 1471.6,312.6" fill="none" stroke="#f03a3a" stroke-width="5.2" stroke-linejoin="round" stroke-linecap="round" />
<polyline points="939.7,202.5 941.3,202.7 942.9,202.6 944.5,202.8 946.1,202.8 947.7,202.4 949.3,202.3 950.9,203 952.4,202.5 954,202.5 955.6,203.1 957.2,202.7 958.8,203 960.4,202.7 962,202.8 963.6,202.4 964,200.5 965.6,200.7 967.2,200.4 968.7,200.6 970.3,200.5 971.9,200.1 973.5,200.6 975,200.5 976.6,200.2 978.2,200 979.8,200.7 981.3,200.4 982.9,200.6 984.5,200.7 986.1,200.6 987.6,200.7 989.2,200.3 990.8,200.6 992.3,203.1 993.8,206.3 995.4,209 996.9,211.2 998.4,214 999.9,216.8 1001.5,220.2 1003,222.6 1004.5,225.5 1006.1,227.3 1007.7,229.6 1009.3,231.6 1010.9,233.6 1012.5,235.9 1014.1,238 1015.8,240.3 1017.4,242.2 1019,244.5 1020.6,246.5 1022.2,248.7 1023.8,250.5 1025.4,250.1 1027.1,250.7 1028.7,250.8 1030.3,250.7 1032,250.5 1033.6,250.6 1035.2,250.2 1036.9,250.7 1038.5,250.5 1040.1,251.3 1041.7,252.3 1043.3,254 1044.9,255.3 1046.5,255.7 1048,255.8 1049.6,255.1 1051.1,254.5 1052.7,254.2 1054.2,254.2 1055.8,253.8 1057.3,252.8 1058.9,252.8 1060.4,252 1062,252.1 1063.5,251.4 1065,250.4 1066.5,249.1 1068,247.3 1069.5,246.3 1071,244.4 1072.5,242.8 1074,241.9 1075.5,240 1077,238.8 1078.6,236 1080.3,233.3 1081.9,230 1083.6,227 1085.2,224.7 1086.9,221.4 1088.5,219 1090,218.1 1091.5,216.9 1093,216.1 1094.6,215.3 1096.1,214.6 1097.6,213.7 1099.1,212.9 1100.6,212.1 1102.2,211.6 1103.7,210.4 1105.2,209.5 1106.7,208.9 1108.2,207.7 1109.7,206.9 1111.2,206.6 1112.8,205.5 1114.3,204.7 1115.8,203.4 1117.3,203.4 1118.9,203.1 1120.4,202.3 1122,202.5 1123.5,202.1 1125.1,201.3 1126.6,201.4 1128.2,200.9 1129.7,200.7 1131.3,200.1 1132.8,200 1134.3,199.7 1135.9,198.7 1137.4,198.4 1139,198.6 1140.5,198.4 1142.1,197.5 1143.6,197.3 1145.2,197.1 1146.7,196.5 1148.3,196.2 1149.8,195.8 1151.3,195.7 1152.8,195.8 1154.4,195.5 1155.9,195.5 1157.4,195.8 1158.9,195.1 1160.4,195.5 1162,195.5 1163.5,195.1 1165,195 1166.5,195.4 1168.1,194.9 1169.6,194.7 1171.1,194.9 1172.6,195 1174.1,194.5 1175.7,194.6 1177.2,194.5 1178.7,194.8 1180.2,194.5 1181.7,194.7 1183.3,194.1 1184.8,194.2 1186.3,194.3 1187.8,194.5 1189.4,194 1190.9,193.8 1192.4,193.6 1193.9,193.9 1195.4,193.6 1197,194 1198.5,193.9 1200,193.3 1201.6,193.3 1203.1,193.5 1204.7,193.2 1206.2,193.2 1207.8,192.7 1209.3,192.4 1210.9,192.3 1212.5,192.6 1214,192 1215.6,191.9 1217.1,191.8 1218.7,191.6 1220.3,191.5 1221.8,191.7 1223.4,191 1224.9,190.7 1226.5,191.3 1228,191.1 1229.6,191 1231.1,190.4 1232.6,190.7 1234.1,190.6 1235.7,190 1237.2,190.3 1238.7,190.2 1240.2,190 1241.7,189.8 1243.2,189.5 1244.8,189.4 1246.3,189.2 1247.8,189 1249.3,189.3 1250.8,189 1252.3,189.3 1253.9,188.6 1255.4,189.1 1256.9,188.9 1258.4,188.9 1259.9,189.9 1261.4,190.9 1262.9,191.6 1264.4,192.1 1265.9,193.6 1267.4,194.1 1268.9,195.2 1270.4,196.5 1271.9,197.3 1273.8,204.3 1275.7,211.7 1277.6,218.5 1279.5,241.4 1281.5,264.3 1283.4,279.2 1285.3,293.3 1287.2,307.9 1288.9,301.4 1290.6,295 1292.3,289.1 1294,283.1 1296.8,299.7 1298.4,296.6 1300,293 1301.6,289.2 1303.2,285.6 1304.8,281.3 1306.4,278.1 1307.9,284.8 1309.4,290.7 1311,297.4 1312.5,303.9 1314,310.6 1315.6,311.3 1317.1,312.1 1318.7,313.2 1320.2,313.3 1321.8,314.1 1323.5,299.1 1325.2,283.9 1326.8,268.8 1328.5,254.4 1330.2,267.5 1331.8,280.1 1333.5,293.6 1335.2,306.7 1337.1,289.4 1339,272.1 1340.6,281.5 1342.1,290.7 1343.7,299.7 1345.2,308.8 1346.8,318.2 1348.7,302 1350.6,286.3 1352.5,270.5 1354.5,257.7 1356.4,245 1358,240.2 1359.6,235.6 1361.2,231 1362.8,226.3 1364.4,221.2 1366,216.7 1367.7,215.3 1369.3,213.8 1371,212.5 1372.7,211.2 1374.4,210.1 1376.1,208.6 1377.7,207.5 1379.4,206 1380.9,204.7 1382.4,203.9 1383.9,202.9 1385.4,201.3 1386.9,200.6 1388.4,199.5 1389.9,198.8 1391.4,197.7 1392.9,196.2 1394.8,200.2 1396.7,203.6 1398.6,206.7 1400.5,201.6 1402.5,196 1404.1,199.5 1405.7,202.2 1407.3,205.3 1409.2,253.2 1412,207 1413.6,208.1 1415.2,208.9 1416.8,209.5 1418.5,210.8 1420.1,211.3 1421.7,212.4 1423.3,212.3 1424.9,211 1426.5,210.4 1428.1,209.8 1429.7,209.8 1431.3,208.5 1432.9,208.7 1434.6,209.6 1436.2,209.3 1437.9,210.2 1439.5,210.3 1441.2,210.7 1442.8,211.1 1444.4,209.9 1445.9,209.2 1447.5,207.7 1449.1,207.4 1450.6,206.3 1452.2,205.6 1453.7,204.2 1455.3,203.8 1456.9,203.1 1458.4,201.5 1460,200.9 1461.6,199.8 1463.2,198.7 1464.8,197 1466.5,195.7 1468.1,194.5 1469.7,193.5" fill="none" stroke="#1f6fe8" stroke-width="5.2" stroke-linejoin="round" stroke-linecap="round" />
<polyline points="939.7,135.1 941.2,134.9 942.7,135.3 944.2,135 945.7,134.9 947.2,135.3 948.7,135.9 950.2,135.8 951.7,135.7 953.2,135.1 954.7,135.4 956.2,135.1 957.7,135 959.2,134.9 960.7,135.1 962.2,135.9 963.8,135.8 965.3,135.8 966.8,135.8 968.3,135 969.8,135.2 971.3,135.6 972.8,135.7 974.3,135.8 975.8,135.9 977.3,134.9 978.8,135.5 980.3,135.6 981.8,135.4 983.3,135 984.8,135.4 986.3,134.9 987.8,137 989.3,138 990.9,138.7 992.4,139.4 993.9,141.2 995.4,141.9 997,143.3 998.5,144.4 1000,145 1001.6,146.4 1003.2,148.1 1004.8,149.4 1006.3,150.5 1007.9,152.2 1009.5,154.3 1011.1,154.8 1012.7,156.3 1014.3,158.5 1015.9,159.5 1017.5,161.3 1019,162.7 1020.6,164.1 1022.2,166.3 1023.8,166.8 1025.3,165.6 1026.9,164 1028.4,163 1030,161.1 1031.5,159.8 1033.1,158.8 1034.6,156.9 1036.2,155.7 1037.7,154.7 1039.3,152.3 1040.8,150.8 1042.3,150.3 1043.9,150.3 1045.4,149.5 1046.9,148.4 1048.5,147.8 1050,147 1051.6,146.6 1053.1,145.5 1054.6,145.6 1056.2,145.2 1057.7,144.6 1059.2,143.7 1060.8,143.3 1062.3,141.5 1063.9,141.2 1065.4,141.3 1066.9,140.4 1068.5,139.4 1070,139.3 1071.6,138.5 1073.2,138.3 1074.8,137.2 1076.4,136.6 1078,136.5 1079.6,135.7 1081.2,135.5 1082.8,135.8 1084.4,134.5 1086,133.7 1087.5,133.7 1089,133.7 1090.6,134.4 1092.1,133.8 1093.6,133.7 1095.1,133.3 1096.7,134.3 1098.2,133.6 1099.7,133.2 1101.2,133 1102.8,132.9 1104.3,133 1105.8,133.5 1107.3,132.8 1108.9,132.6 1110.4,133 1111.9,132.7 1113.4,133.5 1115,132.4 1116.5,132.8 1118,133 1119.5,132.5 1121,133.1 1122.6,132.4 1124.1,132 1125.6,132.1 1127.1,131.6 1128.7,132 1130.2,131.7 1131.7,132.4 1133.2,132.3 1134.8,131.8 1136.3,131.1 1137.8,131.3 1139.3,131.2 1140.9,131.1 1142.4,131.1 1143.9,131.8 1145.4,130.8 1147,130.6 1148.5,131.6 1150,131.1 1151.5,131.5 1153,130.7 1154.5,131.2 1156.1,130.8 1157.6,130.8 1159.1,130.7 1160.6,130.3 1162.1,129.7 1163.6,129.7 1165.2,130.4 1166.7,130.3 1168.2,130.2 1169.7,129.4 1171.2,129.7 1172.7,129.8 1174.2,129.5 1175.8,129.6 1177.3,129.1 1178.8,129.2 1180.3,129.1 1181.8,128.5 1183.3,129.2 1184.8,129.1 1186.4,127.9 1187.9,128.9 1189.4,128.8 1190.9,128.3 1192.4,127.5 1193.9,128.4 1195.5,127.4 1197,128.3 1198.5,127.8 1200,127 1201.5,127.5 1203,128.4 1204.5,128.6 1206,129.2 1207.5,129.8 1209,129.3 1210.5,129.4 1212,130.8 1213.5,130.1 1215,131.5 1216.6,130.9 1218.2,132.1 1219.9,132.5 1221.5,133 1223.1,133 1224.7,133.8 1226.4,133.4 1228,134.3 1229.6,134.3 1231.3,134.5 1232.9,134 1234.6,133.2 1236.3,132.8 1238,131.7 1239.7,131.3 1241.3,131.6 1243,131 1244.5,131.1 1246,130.4 1247.5,129.5 1249,129.4 1250.5,129.5 1252,128.9 1253.5,127.9 1255,128.5 1256.5,128.2 1258,126.9 1259.5,127.1 1261,126.6 1262.5,126.7 1264,125.8 1265.5,125.8 1267,126.2 1268.5,126.9 1270,126 1271.6,126.1 1273.1,126.8 1274.6,127.2 1276.1,126.9 1277.6,126.9 1279.3,129.9 1280.9,132.3 1282.6,133.9 1284.2,137.3 1285.9,139 1287.5,141.6 1289.2,144.7 1290.9,143.1 1292.5,142.5 1294.2,140.6 1295.9,140.4 1297.6,138.5 1299.2,137.4 1300.9,136.7 1302.6,135.4 1304.3,136.9 1305.9,138.5 1307.6,139.5 1309.3,139.9 1311,141.4 1312.7,142.9 1314.3,144.1 1316,145.6 1317.5,145.1 1319.1,144.5 1320.6,144.6 1322.1,145.2 1323.7,144.5 1325.2,144.8 1326.7,144.9 1328.3,144.4 1329.8,144.3 1331.3,144.1 1332.9,143.6 1334.4,144.2 1335.9,143.5 1337.5,143.9 1339,143.1 1340.5,143 1342.1,142.1 1343.7,141.1 1345.2,140.2 1346.8,139 1348.3,139 1349.8,137.7 1351.4,137.3 1353,135.9 1354.5,135.1 1356,134.9 1357.5,135.4 1359.1,134.4 1360.6,135 1362.1,134.1 1363.6,134 1365.1,133.5 1366.7,133.5 1368.2,132.6 1369.7,132.7 1371.2,133.1 1372.8,131.9 1374.3,132.2 1375.8,131.5 1377.3,131.2 1378.8,130.6 1380.4,130.3 1381.9,131.2 1383.4,130.8 1384.9,130.5 1386.4,130.2 1388,130.1 1389.5,128.9 1391,129.1 1392.5,129.4 1394.1,129.9 1395.6,130.8 1397.2,131 1398.7,131.7 1400.3,131.1 1401.8,132.2 1403.4,132.6 1404.9,133.1 1406.5,133.4 1408,134.1 1409.5,133.9 1411,135.1 1412.5,134.9 1414,135.6 1415.5,136.4 1417,136.6 1418.5,136.5 1420,136.9 1421.5,137.4 1423,138.2 1424.5,139.1 1426,139.4 1427.5,139.3 1429,139.7 1430.5,140.6 1432,140.4 1433.5,141 1435,141 1436.5,141.6 1438,142.5 1439.5,143.1 1441,143.4 1442.5,143 1444.1,143.6 1445.6,143.1 1447.1,142.4 1448.7,142.2 1450.2,143.2 1451.7,143.1 1453.2,142.9 1454.8,142.4 1456.3,141.9 1457.8,141.5 1459.4,141.6 1460.9,141.5 1462.4,142.2 1463.9,142 1465.5,141.8 1467,140.9 1468.5,140.9 1470.1,140.9 1471.6,141.5" fill="none" stroke="#33ad66" stroke-width="5.2" stroke-linejoin="round" stroke-linecap="round" />
<polyline points="939.7,67.8 941.2,68 942.7,68.1 944.2,68.2 945.7,68 947.2,68.2 948.7,67.1 950.2,67.7 951.7,68.2 953.2,67.9 954.7,68.2 956.2,67.2 957.7,67.7 959.2,67.4 960.7,67.8 962.2,67.8 963.8,67.1 965.3,67.4 966.8,67.4 968.3,68.2 969.8,68 971.3,67.3 972.8,68.1 974.3,67.3 975.8,67.8 977.3,67.3 978.8,67.1 980.3,68.1 981.8,67.4 983.3,67.4 984.8,68.3 986.3,68.1 988,68.9 989.8,71.2 991.5,72.1 993.3,73.8 995,74.6 996.5,77.8 998,79.8 999.5,82.4 1001.1,84.6 1002.6,86.2 1004.1,88.5 1005.6,90.6 1007.1,92.8 1008.6,95 1010.2,97.6 1011.7,100.3 1013.2,101.8 1014.7,104.9 1016.2,106.8 1017.7,109 1019.3,111.9 1020.8,113.8 1022.3,115.9 1023.8,118.4 1025.3,116.3 1026.9,113.1 1028.4,111.8 1030,108.3 1031.5,106.8 1033.1,104.5 1034.6,101.1 1036.2,99.7 1037.7,96.8 1039.3,94.7 1040.8,91.6 1042.4,90.5 1043.9,89.4 1045.5,89.2 1047,87.1 1048.6,86.5 1050.1,85.5 1051.7,84.4 1053.2,82.5 1054.8,81.3 1056.3,80.3 1057.9,79.4 1059.4,77.4 1061,77 1062.5,75.8 1064.1,74.7 1065.6,72.5 1067.2,72.4 1068.7,70.2 1070.3,69.3 1071.9,69.2 1073.4,69.2 1075,68.1 1076.6,68.4 1078.2,67.5 1079.7,66.8 1081.3,66.4 1082.9,65.8 1084.4,65.3 1086,65 1087.5,65.5 1089,65.7 1090.6,64.5 1092.1,64.2 1093.6,65.2 1095.1,64.4 1096.6,64.1 1098.1,63.8 1099.7,64 1101.2,64.1 1102.7,63.5 1104.2,63.3 1105.7,62.7 1107.3,63.6 1108.8,62.3 1110.3,62.7 1111.8,63 1113.3,62 1114.9,62.5 1116.4,62.6 1117.9,62.1 1119.4,62.1 1120.9,61.1 1122.4,61.3 1124,60.8 1125.5,61.5 1127,60.7 1128.5,60.7 1130,61.3 1131.5,61 1133,61 1134.5,60.3 1136,60.2 1137.5,60.4 1139,60 1140.5,59.6 1142,59.6 1143.5,59.2 1145,59.4 1146.5,60 1148,59.9 1149.5,59.3 1151,59.1 1152.5,58.8 1154,58.4 1155.5,58.5 1157,59 1158.5,59 1160,58.2 1161.5,58.6 1163,58.5 1164.5,58.3 1166,58.1 1167.5,58.1 1169,57.6 1170.5,57.8 1172,57.2 1173.5,57.4 1175,57.6 1176.5,57.4 1178,56.8 1179.5,57.5 1181,57 1182.5,56.8 1184,56 1185.5,56.5 1187,56.1 1188.5,56.4 1190,56.1 1191.5,56.4 1193,56.1 1194.5,56.6 1196,56.4 1197.5,57.1 1199,57.6 1200.5,58 1202,57.8 1203.5,58.7 1205,59.1 1206.5,59.2 1208,59.9 1209.5,60.2 1211,60 1212.5,59.9 1214.1,59.4 1215.7,60.1 1217.2,60.1 1218.8,59.5 1220.3,59.6 1221.8,59.6 1223.4,59.5 1224.9,58.7 1226.5,59.3 1228,59 1229.6,59 1231.3,58.1 1232.9,57.7 1234.6,57.3 1236.3,56.6 1238,56.1 1239.7,54.6 1241.3,54.2 1243,53.9 1244.5,54 1246,53.2 1247.5,53.6 1249,53.3 1250.5,52.4 1252,52.7 1253.5,52.2 1255,51.8 1256.5,51.7 1258,51.7 1259.5,51.3 1261,51.1 1262.5,50.7 1264,51.1 1265.5,51.3 1267,51.9 1268.5,52.2 1270,52.1 1271.6,53.2 1273.1,52.4 1274.6,53.2 1276.1,53.4 1277.6,53.9 1279.3,57.1 1280.9,61.5 1282.6,64.6 1284.2,67.7 1285.9,72 1287.5,74.9 1289.2,79.1 1290.9,76.9 1292.5,75.2 1294.2,73.8 1295.9,71.7 1297.6,69.3 1299.2,67.8 1300.9,65.7 1302.6,63.4 1304.3,64.1 1305.9,65.6 1307.6,66.6 1309.3,68 1311,69 1312.7,69.5 1314.3,70.2 1316,71.8 1317.5,70.6 1319.1,70.5 1320.6,70.9 1322.2,70.9 1323.7,70.1 1325.2,70.6 1326.8,70.8 1328.3,70 1329.9,69.9 1331.4,69.5 1332.9,69.5 1334.5,70.1 1336,69.3 1337.6,69.8 1339.1,69.6 1340.6,69.1 1342.2,68.5 1343.7,69.3 1345.3,68.5 1346.8,68.3 1348.7,65.8 1350.6,64.2 1352.2,63.5 1353.8,63.2 1355.3,63.4 1356.9,62.9 1358.5,63.5 1360.1,63.2 1361.7,63 1363.3,63.5 1364.8,63.5 1366.4,62.5 1368,63.1 1369.6,62.7 1371.2,63.4 1372.8,63.2 1374.3,62.5 1375.9,62.5 1377.5,62.3 1379,62.3 1380.5,60.5 1382,59.9 1383.5,58.8 1385,58 1386.5,57 1388,56.2 1389.5,54.5 1391,54.3 1392.6,54.2 1394.2,54.8 1395.8,55 1397.3,55.4 1398.9,56 1400.5,56.4 1402.1,56.6 1403.7,57.5 1405.2,57.7 1406.8,57.4 1408.4,58.1 1410,58.7 1411.6,59.9 1413.3,60.6 1414.9,60.8 1416.5,60.8 1418.2,62.4 1419.8,62.6 1421.4,63.4 1422.9,64.3 1424.5,64.8 1426,65.3 1427.6,66.5 1429.1,66.5 1430.7,67.2 1432.2,68.4 1433.8,68.2 1435.4,69 1436.9,70.3 1438.5,70.1 1440,71.6 1441.6,72.1 1443.1,72.5 1444.7,72.9 1446.3,73.3 1447.8,73.2 1449.4,72 1451,72.1 1452.6,71.9 1454.1,71.6 1455.7,71.2 1457.3,70.7 1458.9,70.9 1460.4,70.9 1462,69.8 1463.6,69 1465.2,68.8 1466.8,67.8 1468.4,66.7 1470,65 1471.6,64.9" fill="none" stroke="#b97fe8" stroke-width="5.2" stroke-linejoin="round" stroke-linecap="round" />
<rect x="1294.9" y="51.1" width="122.6" height="268.6" fill="#fff3a0" fill-opacity="0.42" stroke="#a8a8a0" stroke-width="1.3"/>
<line x1="1023.7" y1="41.5" x2="1023.7" y2="488" stroke="#000" stroke-width="2" stroke-dasharray="2 2"/>
<line x1="1229.8" y1="43.3" x2="1229.8" y2="536" stroke="#000" stroke-width="2" stroke-dasharray="2 2"/>
<rect x="904.7" y="6.5" width="587.3" height="485" fill="none" stroke="#000" stroke-width="2"/>
<line x1="896.2" y1="473.6" x2="904.7" y2="473.6" stroke="#000" stroke-width="2" />
<text x="887.5" y="480.8" font-size="20" font-weight="normal" text-anchor="end" fill="#222" letter-spacing="-1.1">40</text>
<line x1="896.2" y1="401.8" x2="904.7" y2="401.8" stroke="#000" stroke-width="2" />
<text x="887.5" y="409" font-size="20" font-weight="normal" text-anchor="end" fill="#222" letter-spacing="-1.1">80</text>
<line x1="896.2" y1="329.9" x2="904.7" y2="329.9" stroke="#000" stroke-width="2" />
<text x="887.5" y="337.1" font-size="20" font-weight="normal" text-anchor="end" fill="#222" letter-spacing="-1.1">120</text>
<line x1="896.2" y1="258.1" x2="904.7" y2="258.1" stroke="#000" stroke-width="2" />
<text x="887.5" y="265.3" font-size="20" font-weight="normal" text-anchor="end" fill="#222" letter-spacing="-1.1">160</text>
<line x1="896.2" y1="186.2" x2="904.7" y2="186.2" stroke="#000" stroke-width="2" />
<text x="887.5" y="193.4" font-size="20" font-weight="normal" text-anchor="end" fill="#222" letter-spacing="-1.1">200</text>
<line x1="896.2" y1="114.3" x2="904.7" y2="114.3" stroke="#000" stroke-width="2" />
<text x="887.5" y="121.5" font-size="20" font-weight="normal" text-anchor="end" fill="#222" letter-spacing="-1.1">240</text>
<line x1="896.2" y1="42.5" x2="904.7" y2="42.5" stroke="#000" stroke-width="2" />
<text x="887.5" y="49.7" font-size="20" font-weight="normal" text-anchor="end" fill="#222" letter-spacing="-1.1">280</text>
<line x1="900.7" y1="437.7" x2="904.7" y2="437.7" stroke="#000" stroke-width="2" />
<line x1="900.7" y1="365.8" x2="904.7" y2="365.8" stroke="#000" stroke-width="2" />
<line x1="900.7" y1="294" x2="904.7" y2="294" stroke="#000" stroke-width="2" />
<line x1="900.7" y1="222.1" x2="904.7" y2="222.1" stroke="#000" stroke-width="2" />
<line x1="900.7" y1="150.3" x2="904.7" y2="150.3" stroke="#000" stroke-width="2" />
<line x1="900.7" y1="78.4" x2="904.7" y2="78.4" stroke="#000" stroke-width="2" />
<line x1="900.7" y1="6.6" x2="904.7" y2="6.6" stroke="#000" stroke-width="2" />
<line x1="1456.6" y1="491.5" x2="1456.6" y2="500" stroke="#000" stroke-width="2" />
<text x="1456.6" y="521.5" font-size="17.5" font-weight="bold" text-anchor="middle" fill="#222" letter-spacing="-0.5">500</text>
<line x1="1382.9" y1="491.5" x2="1382.9" y2="500" stroke="#000" stroke-width="2" />
<text x="1382.9" y="521.5" font-size="17.5" font-weight="bold" text-anchor="middle" fill="#222" letter-spacing="-0.5">1000</text>
<line x1="1309.2" y1="491.5" x2="1309.2" y2="500" stroke="#000" stroke-width="2" />
<text x="1309.2" y="521.5" font-size="17.5" font-weight="bold" text-anchor="middle" fill="#222" letter-spacing="-0.5">1500</text>
<line x1="1235.5" y1="491.5" x2="1235.5" y2="500" stroke="#000" stroke-width="2" />
<text x="1235.5" y="521.5" font-size="17.5" font-weight="bold" text-anchor="middle" fill="#222" letter-spacing="-0.5">2000</text>
<line x1="1161.8" y1="491.5" x2="1161.8" y2="500" stroke="#000" stroke-width="2" />
<text x="1161.8" y="521.5" font-size="17.5" font-weight="bold" text-anchor="middle" fill="#222" letter-spacing="-0.5">2500</text>
<line x1="1088.1" y1="491.5" x2="1088.1" y2="500" stroke="#000" stroke-width="2" />
<text x="1088.1" y="521.5" font-size="17.5" font-weight="bold" text-anchor="middle" fill="#222" letter-spacing="-0.5">3000</text>
<line x1="1014.4" y1="491.5" x2="1014.4" y2="500" stroke="#000" stroke-width="2" />
<text x="1014.4" y="521.5" font-size="17.5" font-weight="bold" text-anchor="middle" fill="#222" letter-spacing="-0.5">3500</text>
<line x1="940.7" y1="491.5" x2="940.7" y2="500" stroke="#000" stroke-width="2" />
<text x="940.7" y="521.5" font-size="17.5" font-weight="bold" text-anchor="middle" fill="#222" letter-spacing="-0.5">4000</text>
<line x1="1419.8" y1="491.5" x2="1419.8" y2="496" stroke="#000" stroke-width="2" />
<line x1="1346.1" y1="491.5" x2="1346.1" y2="496" stroke="#000" stroke-width="2" />
<line x1="1272.4" y1="491.5" x2="1272.4" y2="496" stroke="#000" stroke-width="2" />
<line x1="1198.7" y1="491.5" x2="1198.7" y2="496" stroke="#000" stroke-width="2" />
<line x1="1125" y1="491.5" x2="1125" y2="496" stroke="#000" stroke-width="2" />
<line x1="1051.2" y1="491.5" x2="1051.2" y2="496" stroke="#000" stroke-width="2" />
<line x1="977.6" y1="491.5" x2="977.6" y2="496" stroke="#000" stroke-width="2" />
<line x1="962.7" y1="25.7" x2="1010.8" y2="25.7" stroke="#555555" stroke-width="4.6" />
<text x="1012.8" y="32.5" font-size="20.5" font-weight="normal" text-anchor="start" fill="#000" letter-spacing="-0.6">T</text>
<line x1="1035.2" y1="25.7" x2="1085.3" y2="25.7" stroke="#f03a3a" stroke-width="4.6" />
<text x="1088" y="32.5" font-size="20.5" font-weight="normal" text-anchor="start" fill="#000" letter-spacing="-0.6">BC</text>
<line x1="1124.3" y1="25.7" x2="1173.1" y2="25.7" stroke="#1f6fe8" stroke-width="4.6" />
<text x="1176.5" y="32.5" font-size="20.5" font-weight="normal" text-anchor="start" fill="#000" letter-spacing="-0.6">CN</text>
<line x1="1215.5" y1="25.7" x2="1264" y2="25.7" stroke="#33ad66" stroke-width="4.6" />
<text x="1267" y="32.5" font-size="20.5" font-weight="normal" text-anchor="start" fill="#000" letter-spacing="-0.6">TCN</text>
<line x1="1317.4" y1="25.7" x2="1367.5" y2="25.7" stroke="#b97fe8" stroke-width="4.6" />
<text x="1370" y="32.5" font-size="20.5" font-weight="normal" text-anchor="start" fill="#000" letter-spacing="-0.6">TCNBC</text>
<text x="819" y="44.5" font-size="37" font-weight="bold" text-anchor="start" fill="#000" >b)</text>
<text transform="translate(828,248) rotate(-90)" x="0" y="10.5" font-size="25.2" font-weight="bold" text-anchor="middle" letter-spacing="-0.1">Intensity (a.u.)</text>
<text x="1089.5" y="565" font-size="26" font-weight="bold" text-anchor="start" fill="#000" letter-spacing="-1.3">Wavenumber (cm<tspan dy="-9" font-size="15">-1</tspan><tspan dy="9">)</tspan></text>
<clipPath id="cclip"><rect x="903" y="578.8" width="578.6" height="473"/></clipPath>
<g clip-path="url(#cclip)">
<polyline points="902,987.3 911.2,986.2 920.5,985 929.7,983.9 938.9,982.7 948.1,981.6 957.4,980.6 966.6,979.8 975.8,979 985,978.3 994.3,977.5 1003.5,976.7 1012.7,976 1022,975.2 1031.2,974.4 1040.4,973.7 1049.6,972.9 1058.9,972.1 1068.1,970.2 1084.4,966.5 1100.3,962.9 1122.4,961.7 1144.6,960.4 1166.2,959.2 1187.3,956.9 1208.9,954.6 1229.5,952.5 1251.6,950.1 1272.2,947.9 1290.6,942.8 1312.2,936.3 1334.4,928.3 1355,917.6 1371.3,902.9 1386.6,880.2 1397.7,844.7 1407.2,784.9 1414.5,734.1 1420.3,675.3 1424,622 1424.6,614.4" fill="none" stroke="#1f63e6" stroke-width="1.6" stroke-linejoin="round" stroke-linecap="round" />
<polygon points="902,980.6 895.6,991.6 908.4,991.6" fill="#1f63e6"/>
<polygon points="911.2,979.6 904.8,990.6 917.6,990.6" fill="#1f63e6"/>
<polygon points="920.5,978.9 914.1,989.9 926.8,989.9" fill="#1f63e6"/>
<polygon points="929.7,977.2 923.3,988.2 936.1,988.2" fill="#1f63e6"/>
<polygon points="938.9,976.1 932.5,987.1 945.3,987.1" fill="#1f63e6"/>
<polygon points="948.1,975 941.8,986 954.5,986" fill="#1f63e6"/>
<polygon points="957.4,973.5 951,984.5 963.7,984.5" fill="#1f63e6"/>
<polygon points="966.6,973.1 960.2,984.1 973,984.1" fill="#1f63e6"/>
<polygon points="975.8,972.5 969.4,983.5 982.2,983.5" fill="#1f63e6"/>
<polygon points="985,971.9 978.7,983 991.4,983" fill="#1f63e6"/>
<polygon points="994.3,970.3 987.9,981.3 1000.7,981.3" fill="#1f63e6"/>
<polygon points="1003.5,969.8 997.1,980.8 1009.9,980.8" fill="#1f63e6"/>
<polygon points="1012.7,968.8 1006.4,979.8 1019.1,979.8" fill="#1f63e6"/>
<polygon points="1022,968.9 1015.6,979.9 1028.3,979.9" fill="#1f63e6"/>
<polygon points="1031.2,968 1024.8,979 1037.6,979" fill="#1f63e6"/>
<polygon points="1040.4,966.4 1034,977.5 1046.8,977.5" fill="#1f63e6"/>
<polygon points="1049.6,966.8 1043.3,977.8 1056,977.8" fill="#1f63e6"/>
<polygon points="1058.9,966 1052.5,977 1065.3,977" fill="#1f63e6"/>
<polygon points="1068.1,963.7 1061.7,974.7 1074.5,974.7" fill="#1f63e6"/>
<polygon points="1084.4,959.8 1078.1,970.8 1090.8,970.8" fill="#1f63e6"/>
<polygon points="1100.3,956.2 1093.9,967.2 1106.6,967.2" fill="#1f63e6"/>
<polygon points="1122.4,955 1116,966 1128.8,966" fill="#1f63e6"/>
<polygon points="1144.6,953.7 1138.2,964.8 1150.9,964.8" fill="#1f63e6"/>
<polygon points="1166.2,952.5 1159.8,963.5 1172.6,963.5" fill="#1f63e6"/>
<polygon points="1187.3,950.3 1180.9,961.3 1193.6,961.3" fill="#1f63e6"/>
<polygon points="1208.9,948 1202.5,959 1215.3,959" fill="#1f63e6"/>
<polygon points="1229.5,945.8 1223.1,956.8 1235.8,956.8" fill="#1f63e6"/>
<polygon points="1251.6,943.4 1245.2,954.5 1258,954.5" fill="#1f63e6"/>
<polygon points="1272.2,941.3 1265.8,952.3 1278.5,952.3" fill="#1f63e6"/>
<polygon points="1290.6,936.1 1284.2,947.2 1297,947.2" fill="#1f63e6"/>
<polygon points="1312.2,929.6 1305.9,940.6 1318.6,940.6" fill="#1f63e6"/>
<polygon points="1334.4,921.6 1328,932.7 1340.8,932.7" fill="#1f63e6"/>
<polygon points="1355,911 1348.6,922 1361.3,922" fill="#1f63e6"/>
<polygon points="1371.3,896.3 1364.9,907.3 1377.7,907.3" fill="#1f63e6"/>
<polygon points="1386.6,873.5 1380.2,884.5 1393,884.5" fill="#1f63e6"/>
<polygon points="1397.7,838 1391.3,849 1404,849" fill="#1f63e6"/>
<polygon points="1407.2,778.2 1400.8,789.2 1413.5,789.2" fill="#1f63e6"/>
<polygon points="1414.5,727.4 1408.2,738.4 1420.9,738.4" fill="#1f63e6"/>
<polygon points="1420.3,668.7 1414,679.7 1426.7,679.7" fill="#1f63e6"/>
<polygon points="1424,615.4 1417.6,626.4 1430.4,626.4" fill="#1f63e6"/>
<polygon points="1424.6,607.7 1418.2,618.8 1430.9,618.8" fill="#1f63e6"/>
<polyline points="902,990.3 911.2,988.8 920.5,987.3 929.7,985.9 938.9,984.4 948.1,982.9 957.4,981.6 966.6,980.8 975.8,979.9 985,979 994.3,978.2 1003.5,977.3 1012.7,976.4 1022,975.6 1031.2,974.7 1040.4,973.9 1049.6,973 1058.9,972.1 1068.1,970.3 1084.4,966.9 1100.3,964.8 1122.4,962 1144.6,959.1 1166.2,956.2 1187.3,952.9 1208.9,949.5 1229.5,946.3 1251.6,942.8 1272.2,939.5 1290.6,935.2 1312.2,926.4 1334.4,915 1355,897.9 1371.3,876 1386.6,840.5 1397.7,793.8 1407.2,742 1414.5,683.7 1420.3,634.1 1424,616.9 1424.6,614.4" fill="none" stroke="#2fa36b" stroke-width="1.6" stroke-linejoin="round" stroke-linecap="round" />
<polygon points="902,997.1 895.6,986 908.4,986" fill="#2fa36b"/>
<polygon points="911.2,995 904.8,984 917.6,984" fill="#2fa36b"/>
<polygon points="920.5,993.4 914.1,982.4 926.8,982.4" fill="#2fa36b"/>
<polygon points="929.7,992.6 923.3,981.5 936.1,981.5" fill="#2fa36b"/>
<polygon points="938.9,990.5 932.5,979.5 945.3,979.5" fill="#2fa36b"/>
<polygon points="948.1,989.2 941.8,978.2 954.5,978.2" fill="#2fa36b"/>
<polygon points="957.4,988 951,977 963.7,977" fill="#2fa36b"/>
<polygon points="966.6,986.9 960.2,975.8 973,975.8" fill="#2fa36b"/>
<polygon points="975.8,986.5 969.4,975.5 982.2,975.5" fill="#2fa36b"/>
<polygon points="985,985.6 978.7,974.6 991.4,974.6" fill="#2fa36b"/>
<polygon points="994.3,985.3 987.9,974.2 1000.7,974.2" fill="#2fa36b"/>
<polygon points="1003.5,984 997.1,973 1009.9,973" fill="#2fa36b"/>
<polygon points="1012.7,983.3 1006.4,972.3 1019.1,972.3" fill="#2fa36b"/>
<polygon points="1022,982.3 1015.6,971.2 1028.3,971.2" fill="#2fa36b"/>
<polygon points="1031.2,981.6 1024.8,970.6 1037.6,970.6" fill="#2fa36b"/>
<polygon points="1040.4,980.5 1034,969.5 1046.8,969.5" fill="#2fa36b"/>
<polygon points="1049.6,979.4 1043.3,968.4 1056,968.4" fill="#2fa36b"/>
<polygon points="1058.9,979.4 1052.5,968.4 1065.3,968.4" fill="#2fa36b"/>
<polygon points="1068.1,977.6 1061.7,966.6 1074.5,966.6" fill="#2fa36b"/>
<polygon points="1084.4,973.6 1078.1,962.6 1090.8,962.6" fill="#2fa36b"/>
<polygon points="1100.3,971.5 1093.9,960.5 1106.6,960.5" fill="#2fa36b"/>
<polygon points="1122.4,968.6 1116,957.6 1128.8,957.6" fill="#2fa36b"/>
<polygon points="1144.6,965.7 1138.2,954.7 1150.9,954.7" fill="#2fa36b"/>
<polygon points="1166.2,962.9 1159.8,951.9 1172.6,951.9" fill="#2fa36b"/>
<polygon points="1187.3,959.6 1180.9,948.6 1193.6,948.6" fill="#2fa36b"/>
<polygon points="1208.9,956.2 1202.5,945.2 1215.3,945.2" fill="#2fa36b"/>
<polygon points="1229.5,952.9 1223.1,941.9 1235.8,941.9" fill="#2fa36b"/>
<polygon points="1251.6,949.4 1245.2,938.4 1258,938.4" fill="#2fa36b"/>
<polygon points="1272.2,946.2 1265.8,935.2 1278.5,935.2" fill="#2fa36b"/>
<polygon points="1290.6,941.8 1284.2,930.8 1297,930.8" fill="#2fa36b"/>
<polygon points="1312.2,933.1 1305.9,922 1318.6,922" fill="#2fa36b"/>
<polygon points="1334.4,921.7 1328,910.7 1340.8,910.7" fill="#2fa36b"/>
<polygon points="1355,904.6 1348.6,893.6 1361.3,893.6" fill="#2fa36b"/>
<polygon points="1371.3,882.7 1364.9,871.7 1377.7,871.7" fill="#2fa36b"/>
<polygon points="1386.6,847.2 1380.2,836.2 1393,836.2" fill="#2fa36b"/>
<polygon points="1397.7,800.5 1391.3,789.5 1404,789.5" fill="#2fa36b"/>
<polygon points="1407.2,748.6 1400.8,737.6 1413.5,737.6" fill="#2fa36b"/>
<polygon points="1414.5,690.3 1408.2,679.3 1420.9,679.3" fill="#2fa36b"/>
<polygon points="1420.3,640.8 1414,629.8 1426.7,629.8" fill="#2fa36b"/>
<polygon points="1424,623.5 1417.6,612.5 1430.4,612.5" fill="#2fa36b"/>
<polygon points="1424.6,621.1 1418.2,610.1 1430.9,610.1" fill="#2fa36b"/>
<polyline points="902,993.2 911.2,991.8 920.5,990.4 929.7,989 938.9,987.6 948.1,986.2 957.4,985 966.6,984.5 975.8,984 985,983.5 994.3,983 1003.5,982.4 1012.7,981.9 1022,981.4 1031.2,980.9 1040.4,980.4 1049.6,979.9 1058.9,979.4 1068.1,979.2 1084.4,978.9 1100.3,977.7 1122.4,975.9 1144.6,974.1 1166.2,972.3 1187.3,970.7 1208.9,969.1 1229.5,967.6 1251.6,965.9 1272.2,964.3 1290.6,960.5 1312.2,956 1334.4,951.5 1355,947.2 1371.3,941.7 1386.6,928.6 1397.7,916.5 1407.2,889.2 1414.5,851.5 1420.3,800.3 1421.4,791" fill="none" stroke="#8c8c17" stroke-width="1.6" stroke-linejoin="round" stroke-linecap="round" />
<polygon points="902,986.3 903.7,991.2 908.9,991.3 904.8,994.5 906.3,999.4 902,996.5 897.7,999.4 899.2,994.5 895.1,991.3 900.3,991.2" fill="#8c8c17"/>
<polygon points="911.2,984.8 912.9,989.7 918.1,989.8 914,992.9 915.5,997.9 911.2,994.9 907,997.9 908.5,992.9 904.3,989.8 909.5,989.7" fill="#8c8c17"/>
<polygon points="920.5,982.9 922.2,987.8 927.4,987.9 923.2,991 924.7,996 920.5,993 916.2,996 917.7,991 913.6,987.9 918.8,987.8" fill="#8c8c17"/>
<polygon points="929.7,981.4 931.4,986.3 936.6,986.4 932.4,989.5 933.9,994.5 929.7,991.5 925.4,994.5 926.9,989.5 922.8,986.4 928,986.3" fill="#8c8c17"/>
<polygon points="938.9,980.1 940.6,985 945.8,985.1 941.7,988.2 943.2,993.2 938.9,990.2 934.6,993.2 936.2,988.2 932,985.1 937.2,985" fill="#8c8c17"/>
<polygon points="948.1,978.4 949.8,983.3 955,983.4 950.9,986.5 952.4,991.5 948.1,988.5 943.9,991.5 945.4,986.5 941.2,983.4 946.4,983.3" fill="#8c8c17"/>
<polygon points="957.4,978.1 959.1,983 964.3,983.1 960.1,986.2 961.6,991.2 957.4,988.2 953.1,991.2 954.6,986.2 950.5,983.1 955.7,983" fill="#8c8c17"/>
<polygon points="966.6,977.1 968.3,982 973.5,982.1 969.4,985.3 970.9,990.2 966.6,987.3 962.3,990.2 963.8,985.3 959.7,982.1 964.9,982" fill="#8c8c17"/>
<polygon points="975.8,977.1 977.5,982.1 982.7,982.2 978.6,985.3 980.1,990.3 975.8,987.3 971.6,990.3 973.1,985.3 968.9,982.2 974.1,982.1" fill="#8c8c17"/>
<polygon points="985,976.1 986.8,981 991.9,981.1 987.8,984.2 989.3,989.2 985,986.2 980.8,989.2 982.3,984.2 978.2,981.1 983.3,981" fill="#8c8c17"/>
<polygon points="994.3,976.3 996,981.2 1001.2,981.3 997,984.4 998.5,989.4 994.3,986.4 990,989.4 991.5,984.4 987.4,981.3 992.6,981.2" fill="#8c8c17"/>
<polygon points="1003.5,975.6 1005.2,980.5 1010.4,980.6 1006.3,983.8 1007.8,988.7 1003.5,985.8 999.2,988.7 1000.7,983.8 996.6,980.6 1001.8,980.5" fill="#8c8c17"/>
<polygon points="1012.7,974.1 1014.4,979 1019.6,979.1 1015.5,982.2 1017,987.2 1012.7,984.2 1008.5,987.2 1010,982.2 1005.8,979.1 1011,979" fill="#8c8c17"/>
<polygon points="1022,973.8 1023.7,978.7 1028.9,978.8 1024.7,982 1026.2,986.9 1022,984 1017.7,986.9 1019.2,982 1015.1,978.8 1020.3,978.7" fill="#8c8c17"/>
<polygon points="1031.2,974.2 1032.9,979.1 1038.1,979.2 1033.9,982.3 1035.4,987.3 1031.2,984.3 1026.9,987.3 1028.4,982.3 1024.3,979.2 1029.5,979.1" fill="#8c8c17"/>
<polygon points="1040.4,973.1 1042.1,978 1047.3,978.1 1043.2,981.3 1044.7,986.2 1040.4,983.3 1036.2,986.2 1037.7,981.3 1033.5,978.1 1038.7,978" fill="#8c8c17"/>
<polygon points="1049.6,973.2 1051.3,978.1 1056.5,978.2 1052.4,981.4 1053.9,986.3 1049.6,983.4 1045.4,986.3 1046.9,981.4 1042.7,978.2 1047.9,978.1" fill="#8c8c17"/>
<polygon points="1058.9,972 1060.6,976.9 1065.8,977 1061.6,980.2 1063.1,985.1 1058.9,982.2 1054.6,985.1 1056.1,980.2 1052,977 1057.2,976.9" fill="#8c8c17"/>
<polygon points="1068.1,971.4 1069.8,976.3 1075,976.4 1070.9,979.6 1072.4,984.5 1068.1,981.6 1063.8,984.5 1065.3,979.6 1061.2,976.4 1066.4,976.3" fill="#8c8c17"/>
<polygon points="1084.4,971.7 1086.2,976.6 1091.3,976.7 1087.2,979.8 1088.7,984.8 1084.4,981.8 1080.2,984.8 1081.7,979.8 1077.6,976.7 1082.7,976.6" fill="#8c8c17"/>
<polygon points="1100.3,970.4 1102,975.3 1107.2,975.4 1103,978.6 1104.5,983.5 1100.3,980.6 1096,983.5 1097.5,978.6 1093.4,975.4 1098.6,975.3" fill="#8c8c17"/>
<polygon points="1122.4,968.6 1124.1,973.5 1129.3,973.6 1125.2,976.8 1126.7,981.7 1122.4,978.8 1118.1,981.7 1119.7,976.8 1115.5,973.6 1120.7,973.5" fill="#8c8c17"/>
<polygon points="1144.6,966.8 1146.3,971.7 1151.5,971.8 1147.3,975 1148.8,979.9 1144.6,977 1140.3,979.9 1141.8,975 1137.7,971.8 1142.9,971.7" fill="#8c8c17"/>
<polygon points="1166.2,965.1 1167.9,970 1173.1,970.1 1168.9,973.2 1170.4,978.2 1166.2,975.2 1161.9,978.2 1163.4,973.2 1159.3,970.1 1164.5,970" fill="#8c8c17"/>
<polygon points="1187.3,963.5 1189,968.4 1194.2,968.5 1190,971.6 1191.5,976.6 1187.3,973.6 1183,976.6 1184.5,971.6 1180.4,968.5 1185.6,968.4" fill="#8c8c17"/>
<polygon points="1208.9,961.9 1210.6,966.8 1215.8,966.9 1211.6,970 1213.2,975 1208.9,972 1204.6,975 1206.1,970 1202,966.9 1207.2,966.8" fill="#8c8c17"/>
<polygon points="1229.5,960.3 1231.2,965.2 1236.3,965.3 1232.2,968.5 1233.7,973.4 1229.5,970.5 1225.2,973.4 1226.7,968.5 1222.6,965.3 1227.7,965.2" fill="#8c8c17"/>
<polygon points="1251.6,958.6 1253.3,963.6 1258.5,963.7 1254.4,966.8 1255.9,971.8 1251.6,968.8 1247.3,971.8 1248.8,966.8 1244.7,963.7 1249.9,963.6" fill="#8c8c17"/>
<polygon points="1272.2,957.1 1273.9,962 1279.1,962.1 1274.9,965.2 1276.4,970.2 1272.2,967.2 1267.9,970.2 1269.4,965.2 1265.3,962.1 1270.5,962" fill="#8c8c17"/>
<polygon points="1290.6,953.3 1292.3,958.2 1297.5,958.3 1293.4,961.4 1294.9,966.4 1290.6,963.4 1286.4,966.4 1287.9,961.4 1283.7,958.3 1288.9,958.2" fill="#8c8c17"/>
<polygon points="1312.2,948.8 1313.9,953.7 1319.1,953.8 1315,956.9 1316.5,961.9 1312.2,958.9 1308,961.9 1309.5,956.9 1305.3,953.8 1310.5,953.7" fill="#8c8c17"/>
<polygon points="1334.4,944.2 1336.1,949.1 1341.3,949.2 1337.1,952.4 1338.6,957.3 1334.4,954.4 1330.1,957.3 1331.6,952.4 1327.5,949.2 1332.7,949.1" fill="#8c8c17"/>
<polygon points="1355,939.9 1356.7,944.9 1361.8,945 1357.7,948.1 1359.2,953.1 1355,950.1 1350.7,953.1 1352.2,948.1 1348.1,945 1353.2,944.9" fill="#8c8c17"/>
<polygon points="1371.3,934.5 1373,939.4 1378.2,939.5 1374.1,942.6 1375.6,947.6 1371.3,944.6 1367,947.6 1368.5,942.6 1364.4,939.5 1369.6,939.4" fill="#8c8c17"/>
<polygon points="1386.6,921.3 1388.3,926.2 1393.5,926.3 1389.3,929.5 1390.9,934.5 1386.6,931.5 1382.3,934.5 1383.8,929.5 1379.7,926.3 1384.9,926.2" fill="#8c8c17"/>
<polygon points="1397.7,909.3 1399.4,914.2 1404.6,914.3 1400.4,917.4 1401.9,922.4 1397.7,919.4 1393.4,922.4 1394.9,917.4 1390.8,914.3 1396,914.2" fill="#8c8c17"/>
<polygon points="1407.2,881.9 1408.9,886.8 1414,886.9 1409.9,890.1 1411.4,895 1407.2,892.1 1402.9,895 1404.4,890.1 1400.3,886.9 1405.4,886.8" fill="#8c8c17"/>
<polygon points="1414.5,844.3 1416.2,849.2 1421.4,849.3 1417.3,852.4 1418.8,857.4 1414.5,854.4 1410.3,857.4 1411.8,852.4 1407.6,849.3 1412.8,849.2" fill="#8c8c17"/>
<polygon points="1420.3,793.1 1422,798 1427.2,798.1 1423.1,801.2 1424.6,806.2 1420.3,803.2 1416.1,806.2 1417.6,801.2 1413.4,798.1 1418.6,798" fill="#8c8c17"/>
<polygon points="1421.4,783.8 1423.1,788.7 1428.3,788.8 1424.1,791.9 1425.7,796.9 1421.4,793.9 1417.1,796.9 1418.6,791.9 1414.5,788.8 1419.7,788.7" fill="#8c8c17"/>
<polyline points="902,997.6 911.2,997.5 920.5,997.4 929.7,997.3 938.9,997.2 948.1,997.1 957.4,997 966.6,997 975.8,996.9 985,996.8 994.3,996.7 1003.5,996.6 1012.7,996.5 1022,996.4 1031.2,996.4 1040.4,996.3 1049.6,996.2 1058.9,996.1 1068.1,996 1084.4,995.9 1100.3,995.8 1122.4,995.7 1144.6,995.5 1166.2,995.4 1187.3,995.1 1208.9,994.8 1229.5,994.5 1251.6,994.2 1272.2,993.9 1290.6,993.6 1312.2,993.3 1334.4,992.5 1355,991.2 1371.3,990.2 1386.6,987.3 1397.7,984.3 1407.2,980.4 1414.5,975.9 1420.3,972.4 1424,970.2" fill="none" stroke="#b77ee8" stroke-width="1.6" stroke-linejoin="round" stroke-linecap="round" />
<polygon points="902,990.8 909,997.7 902,1004.7 895,997.7" fill="#b77ee8"/>
<polygon points="911.2,990.8 918.2,997.8 911.2,1004.8 904.3,997.8" fill="#b77ee8"/>
<polygon points="920.5,990.1 927.4,997.1 920.5,1004.1 913.5,997.1" fill="#b77ee8"/>
<polygon points="929.7,989.8 936.6,996.8 929.7,1003.8 922.7,996.8" fill="#b77ee8"/>
<polygon points="938.9,990.1 945.9,997 938.9,1004 932,997" fill="#b77ee8"/>
<polygon points="948.1,990.7 955.1,997.7 948.1,1004.6 941.2,997.7" fill="#b77ee8"/>
<polygon points="957.4,990.4 964.3,997.4 957.4,1004.3 950.4,997.4" fill="#b77ee8"/>
<polygon points="966.6,989.5 973.6,996.5 966.6,1003.5 959.6,996.5" fill="#b77ee8"/>
<polygon points="975.8,989.6 982.8,996.6 975.8,1003.5 968.9,996.6" fill="#b77ee8"/>
<polygon points="985,989.3 992,996.3 985,1003.3 978.1,996.3" fill="#b77ee8"/>
<polygon points="994.3,989.2 1001.2,996.2 994.3,1003.1 987.3,996.2" fill="#b77ee8"/>
<polygon points="1003.5,990 1010.5,997 1003.5,1003.9 996.5,997" fill="#b77ee8"/>
<polygon points="1012.7,989.2 1019.7,996.1 1012.7,1003.1 1005.8,996.1" fill="#b77ee8"/>
<polygon points="1022,989.6 1028.9,996.5 1022,1003.5 1015,996.5" fill="#b77ee8"/>
<polygon points="1031.2,989.3 1038.1,996.3 1031.2,1003.3 1024.2,996.3" fill="#b77ee8"/>
<polygon points="1040.4,988.9 1047.4,995.9 1040.4,1002.9 1033.5,995.9" fill="#b77ee8"/>
<polygon points="1049.6,989.5 1056.6,996.5 1049.6,1003.4 1042.7,996.5" fill="#b77ee8"/>
<polygon points="1058.9,988.7 1065.8,995.7 1058.9,1002.6 1051.9,995.7" fill="#b77ee8"/>
<polygon points="1068.1,989.3 1075.1,996.2 1068.1,1003.2 1061.1,996.2" fill="#b77ee8"/>
<polygon points="1084.4,989 1091.4,995.9 1084.4,1002.9 1077.5,995.9" fill="#b77ee8"/>
<polygon points="1100.3,988.9 1107.2,995.8 1100.3,1002.8 1093.3,995.8" fill="#b77ee8"/>
<polygon points="1122.4,988.7 1129.4,995.7 1122.4,1002.6 1115.5,995.7" fill="#b77ee8"/>
<polygon points="1144.6,988.6 1151.5,995.5 1144.6,1002.5 1137.6,995.5" fill="#b77ee8"/>
<polygon points="1166.2,988.4 1173.1,995.4 1166.2,1002.3 1159.2,995.4" fill="#b77ee8"/>
<polygon points="1187.3,988.1 1194.2,995.1 1187.3,1002 1180.3,995.1" fill="#b77ee8"/>
<polygon points="1208.9,987.8 1215.8,994.8 1208.9,1001.7 1201.9,994.8" fill="#b77ee8"/>
<polygon points="1229.5,987.5 1236.4,994.5 1229.5,1001.4 1222.5,994.5" fill="#b77ee8"/>
<polygon points="1251.6,987.2 1258.6,994.2 1251.6,1001.1 1244.6,994.2" fill="#b77ee8"/>
<polygon points="1272.2,986.9 1279.1,993.9 1272.2,1000.9 1265.2,993.9" fill="#b77ee8"/>
<polygon points="1290.6,986.7 1297.6,993.6 1290.6,1000.6 1283.7,993.6" fill="#b77ee8"/>
<polygon points="1312.2,986.4 1319.2,993.3 1312.2,1000.3 1305.3,993.3" fill="#b77ee8"/>
<polygon points="1334.4,985.6 1341.3,992.5 1334.4,999.5 1327.4,992.5" fill="#b77ee8"/>
<polygon points="1355,984.3 1361.9,991.2 1355,998.2 1348,991.2" fill="#b77ee8"/>
<polygon points="1371.3,983.3 1378.3,990.2 1371.3,997.2 1364.3,990.2" fill="#b77ee8"/>
<polygon points="1386.6,980.3 1393.5,987.3 1386.6,994.2 1379.6,987.3" fill="#b77ee8"/>
<polygon points="1397.7,977.4 1404.6,984.3 1397.7,991.3 1390.7,984.3" fill="#b77ee8"/>
<polygon points="1407.2,973.4 1414.1,980.4 1407.2,987.4 1400.2,980.4" fill="#b77ee8"/>
<polygon points="1414.5,969 1421.5,975.9 1414.5,982.9 1407.6,975.9" fill="#b77ee8"/>
<polygon points="1420.3,965.5 1427.3,972.4 1420.3,979.4 1413.4,972.4" fill="#b77ee8"/>
<polygon points="1424,963.2 1431,970.2 1424,977.1 1417.1,970.2" fill="#b77ee8"/>
<polyline points="954.7,994.6 964,994.6 973.2,994.6 982.4,994.5 991.6,994.5 1000.9,994.5 1010.1,994.4 1019.3,994.4 1028.6,994.4 1037.8,994.3 1047,994.3 1056.2,994.3 1065.5,994.2 1084.4,994 1100.3,993.9 1122.4,993.6 1144.6,993.4 1166.2,993.2 1187.3,992.6 1208.9,992 1229.5,991.4 1251.6,990.8 1272.2,990.2 1290.6,989.4 1312.2,988.4 1334.4,987.3 1355,986.6 1371.3,984.1 1386.6,981.2 1397.7,978.5 1407.2,975.7 1414.5,973.5 1420.3,970.1 1424,968" fill="none" stroke="#d39e14" stroke-width="1.6" stroke-linejoin="round" stroke-linecap="round" />
<polygon points="948.1,994.2 959.1,987.8 959.1,1000.6" fill="#d39e14"/>
<polygon points="957.3,994.5 968.3,988.1 968.3,1000.9" fill="#d39e14"/>
<polygon points="966.5,994.2 977.5,987.8 977.5,1000.6" fill="#d39e14"/>
<polygon points="975.7,994.3 986.8,987.9 986.8,1000.6" fill="#d39e14"/>
<polygon points="985,995.1 996,988.7 996,1001.5" fill="#d39e14"/>
<polygon points="994.2,994.8 1005.2,988.5 1005.2,1001.2" fill="#d39e14"/>
<polygon points="1003.4,994.2 1014.4,987.8 1014.4,1000.6" fill="#d39e14"/>
<polygon points="1012.7,994.9 1023.7,988.5 1023.7,1001.3" fill="#d39e14"/>
<polygon points="1021.9,994 1032.9,987.7 1032.9,1000.4" fill="#d39e14"/>
<polygon points="1031.1,994.2 1042.1,987.8 1042.1,1000.6" fill="#d39e14"/>
<polygon points="1040.3,994.7 1051.4,988.4 1051.4,1001.1" fill="#d39e14"/>
<polygon points="1049.6,994.5 1060.6,988.1 1060.6,1000.8" fill="#d39e14"/>
<polygon points="1058.8,993.7 1069.8,987.4 1069.8,1000.1" fill="#d39e14"/>
<polygon points="1077.8,994 1088.8,987.6 1088.8,1000.4" fill="#d39e14"/>
<polygon points="1093.6,993.9 1104.6,987.5 1104.6,1000.2" fill="#d39e14"/>
<polygon points="1115.7,993.6 1126.8,987.2 1126.8,1000" fill="#d39e14"/>
<polygon points="1137.9,993.4 1148.9,987 1148.9,999.8" fill="#d39e14"/>
<polygon points="1159.5,993.2 1170.5,986.8 1170.5,999.5" fill="#d39e14"/>
<polygon points="1180.6,992.6 1191.6,986.2 1191.6,999" fill="#d39e14"/>
<polygon points="1202.2,992 1213.2,985.6 1213.2,998.4" fill="#d39e14"/>
<polygon points="1222.8,991.4 1233.8,985 1233.8,997.8" fill="#d39e14"/>
<polygon points="1244.9,990.8 1255.9,984.4 1255.9,997.2" fill="#d39e14"/>
<polygon points="1265.5,990.2 1276.5,983.8 1276.5,996.6" fill="#d39e14"/>
<polygon points="1284,989.4 1295,983 1295,995.7" fill="#d39e14"/>
<polygon points="1305.6,988.4 1316.6,982 1316.6,994.7" fill="#d39e14"/>
<polygon points="1327.7,987.3 1338.7,981 1338.7,993.7" fill="#d39e14"/>
<polygon points="1348.3,986.6 1359.3,980.2 1359.3,993" fill="#d39e14"/>
<polygon points="1364.6,984.1 1375.6,977.7 1375.6,990.4" fill="#d39e14"/>
<polygon points="1379.9,981.2 1390.9,974.9 1390.9,987.6" fill="#d39e14"/>
<polygon points="1391,978.5 1402,972.1 1402,984.9" fill="#d39e14"/>
<polygon points="1400.5,975.7 1411.5,969.4 1411.5,982.1" fill="#d39e14"/>
<polygon points="1407.9,973.5 1418.9,967.1 1418.9,979.9" fill="#d39e14"/>
<polygon points="1413.7,970.1 1424.7,963.7 1424.7,976.5" fill="#d39e14"/>
<polygon points="1417.4,968 1428.4,961.6 1428.4,974.4" fill="#d39e14"/>
<polyline points="902,1003.8 911.2,1003.1 920.5,1002.4 929.7,1001.7 938.9,1000.9 948.1,1000.2 957.4,999.7 966.6,999.5 975.8,999.4 985,999.2 994.3,999.1 1003.5,998.9 1012.7,998.7 1022,998.6 1031.2,998.4 1040.4,998.3 1049.6,998.1 1058.9,997.9 1068.1,997.7 1084.4,997.3 1100.3,996.9 1122.4,996.4 1144.6,995.9 1166.2,995.3 1187.3,994.5 1208.9,993.6 1229.5,992.8 1251.6,991.9 1272.2,991 1290.6,990.3 1312.2,986.6 1334.4,979.8 1355,971.3 1371.3,962.5 1386.6,945.2 1397.7,920.9 1407.2,888.7 1414.5,852.3 1416.1,843.6" fill="none" stroke="#1cc6c9" stroke-width="1.6" stroke-linejoin="round" stroke-linecap="round" />
<polygon points="908.7,1004.3 897.6,998 897.6,1010.7" fill="#1cc6c9"/>
<polygon points="917.9,1002.7 906.9,996.3 906.9,1009.1" fill="#1cc6c9"/>
<polygon points="927.1,1002.1 916.1,995.7 916.1,1008.4" fill="#1cc6c9"/>
<polygon points="936.4,1002 925.3,995.6 925.3,1008.4" fill="#1cc6c9"/>
<polygon points="945.6,1000.7 934.6,994.4 934.6,1007.1" fill="#1cc6c9"/>
<polygon points="954.8,1000 943.8,993.6 943.8,1006.4" fill="#1cc6c9"/>
<polygon points="964,999.2 953,992.8 953,1005.6" fill="#1cc6c9"/>
<polygon points="973.3,999 962.2,992.7 962.2,1005.4" fill="#1cc6c9"/>
<polygon points="982.5,999.5 971.5,993.1 971.5,1005.9" fill="#1cc6c9"/>
<polygon points="991.7,998.9 980.7,992.5 980.7,1005.3" fill="#1cc6c9"/>
<polygon points="1000.9,999.2 989.9,992.8 989.9,1005.6" fill="#1cc6c9"/>
<polygon points="1010.2,998.7 999.2,992.4 999.2,1005.1" fill="#1cc6c9"/>
<polygon points="1019.4,998.7 1008.4,992.3 1008.4,1005.1" fill="#1cc6c9"/>
<polygon points="1028.6,999.1 1017.6,992.8 1017.6,1005.5" fill="#1cc6c9"/>
<polygon points="1037.9,998.4 1026.8,992 1026.8,1004.8" fill="#1cc6c9"/>
<polygon points="1047.1,998.4 1036.1,992 1036.1,1004.7" fill="#1cc6c9"/>
<polygon points="1056.3,998.5 1045.3,992.2 1045.3,1004.9" fill="#1cc6c9"/>
<polygon points="1065.5,997.6 1054.5,991.2 1054.5,1003.9" fill="#1cc6c9"/>
<polygon points="1074.8,997.3 1063.7,990.9 1063.7,1003.7" fill="#1cc6c9"/>
<polygon points="1091.1,997.3 1080.1,991 1080.1,1003.7" fill="#1cc6c9"/>
<polygon points="1106.9,996.9 1095.9,990.6 1095.9,1003.3" fill="#1cc6c9"/>
<polygon points="1129.1,996.4 1118.1,990 1118.1,1002.8" fill="#1cc6c9"/>
<polygon points="1151.2,995.9 1140.2,989.5 1140.2,1002.3" fill="#1cc6c9"/>
<polygon points="1172.8,995.3 1161.8,989 1161.8,1001.7" fill="#1cc6c9"/>
<polygon points="1193.9,994.5 1182.9,988.1 1182.9,1000.9" fill="#1cc6c9"/>
<polygon points="1215.6,993.6 1204.5,987.2 1204.5,1000" fill="#1cc6c9"/>
<polygon points="1236.1,992.8 1225.1,986.4 1225.1,999.1" fill="#1cc6c9"/>
<polygon points="1258.3,991.9 1247.2,985.5 1247.2,998.2" fill="#1cc6c9"/>
<polygon points="1278.8,991 1267.8,984.6 1267.8,997.4" fill="#1cc6c9"/>
<polygon points="1297.3,990.3 1286.3,983.9 1286.3,996.6" fill="#1cc6c9"/>
<polygon points="1318.9,986.6 1307.9,980.2 1307.9,993" fill="#1cc6c9"/>
<polygon points="1341.1,979.8 1330,973.4 1330,986.2" fill="#1cc6c9"/>
<polygon points="1361.6,971.3 1350.6,964.9 1350.6,977.7" fill="#1cc6c9"/>
<polygon points="1378,962.5 1366.9,956.1 1366.9,968.9" fill="#1cc6c9"/>
<polygon points="1393.3,945.2 1382.2,938.8 1382.2,951.6" fill="#1cc6c9"/>
<polygon points="1404.3,920.9 1393.3,914.5 1393.3,927.3" fill="#1cc6c9"/>
<polygon points="1413.8,888.7 1402.8,882.3 1402.8,895.1" fill="#1cc6c9"/>
<polygon points="1421.2,852.3 1410.2,845.9 1410.2,858.7" fill="#1cc6c9"/>
<polygon points="1422.8,843.6 1411.8,837.2 1411.8,849.9" fill="#1cc6c9"/>
<polyline points="954.7,984.1 964,983.3 973.2,982.5 982.4,981.7 991.6,980.9 1000.9,980.1 1010.1,979.3 1019.3,978.5 1028.6,977.7 1037.8,976.9 1047,976.1 1056.2,975.3 1065.5,974.8 1084.4,974.2 1100.3,972 1122.4,968.9 1144.6,965.8 1166.2,962.9 1187.3,961.6 1208.9,960.2 1229.5,959 1251.6,957.6 1272.2,956.3 1290.6,953.8 1312.2,950.5 1334.4,946.3 1355,940.2 1371.3,933.4 1386.6,917.6 1397.7,897.9 1407.2,844.5 1414.5,798.7 1420.3,778.6 1424,764" fill="none" stroke="#ff6a10" stroke-width="1.6" stroke-linejoin="round" stroke-linecap="round" />
<polygon points="954.7,978.2 960.8,982.6 958.5,989.7 951,989.7 948.7,982.6" fill="#ff6a10"/>
<polygon points="964,977.3 970,981.7 967.7,988.8 960.2,988.8 957.9,981.7" fill="#ff6a10"/>
<polygon points="973.2,975.8 979.3,980.2 976.9,987.3 969.4,987.3 967.1,980.2" fill="#ff6a10"/>
<polygon points="982.4,974.9 988.5,979.3 986.2,986.4 978.7,986.4 976.3,979.3" fill="#ff6a10"/>
<polygon points="991.6,974.8 997.7,979.2 995.4,986.3 987.9,986.3 985.6,979.2" fill="#ff6a10"/>
<polygon points="1000.9,974.2 1006.9,978.6 1004.6,985.8 997.1,985.8 994.8,978.6" fill="#ff6a10"/>
<polygon points="1010.1,972.5 1016.2,976.9 1013.8,984.1 1006.3,984.1 1004,976.9" fill="#ff6a10"/>
<polygon points="1019.3,972.6 1025.4,977 1023.1,984.2 1015.6,984.2 1013.3,977" fill="#ff6a10"/>
<polygon points="1028.6,971.7 1034.6,976.2 1032.3,983.3 1024.8,983.3 1022.5,976.2" fill="#ff6a10"/>
<polygon points="1037.8,970.6 1043.8,975 1041.5,982.2 1034,982.2 1031.7,975" fill="#ff6a10"/>
<polygon points="1047,969.6 1053.1,974 1050.8,981.1 1043.3,981.1 1040.9,974" fill="#ff6a10"/>
<polygon points="1056.2,968.4 1062.3,972.8 1060,980 1052.5,980 1050.2,972.8" fill="#ff6a10"/>
<polygon points="1065.5,967.8 1071.5,972.2 1069.2,979.4 1061.7,979.4 1059.4,972.2" fill="#ff6a10"/>
<polygon points="1084.4,967.8 1090.5,972.2 1088.2,979.4 1080.7,979.4 1078.4,972.2" fill="#ff6a10"/>
<polygon points="1100.3,965.6 1106.3,970 1104,977.2 1096.5,977.2 1094.2,970" fill="#ff6a10"/>
<polygon points="1122.4,962.5 1128.5,966.9 1126.2,974.1 1118.7,974.1 1116.3,966.9" fill="#ff6a10"/>
<polygon points="1144.6,959.4 1150.6,963.9 1148.3,971 1140.8,971 1138.5,963.9" fill="#ff6a10"/>
<polygon points="1166.2,956.5 1172.2,960.9 1169.9,968 1162.4,968 1160.1,960.9" fill="#ff6a10"/>
<polygon points="1187.3,955.2 1193.3,959.6 1191,966.7 1183.5,966.7 1181.2,959.6" fill="#ff6a10"/>
<polygon points="1208.9,953.8 1215,958.3 1212.6,965.4 1205.1,965.4 1202.8,958.3" fill="#ff6a10"/>
<polygon points="1229.5,952.6 1235.5,957 1233.2,964.1 1225.7,964.1 1223.4,957" fill="#ff6a10"/>
<polygon points="1251.6,951.2 1257.7,955.6 1255.3,962.8 1247.8,962.8 1245.5,955.6" fill="#ff6a10"/>
<polygon points="1272.2,949.9 1278.2,954.3 1275.9,961.5 1268.4,961.5 1266.1,954.3" fill="#ff6a10"/>
<polygon points="1290.6,947.4 1296.7,951.8 1294.4,958.9 1286.9,958.9 1284.6,951.8" fill="#ff6a10"/>
<polygon points="1312.2,944.1 1318.3,948.5 1316,955.6 1308.5,955.6 1306.2,948.5" fill="#ff6a10"/>
<polygon points="1334.4,939.9 1340.5,944.3 1338.1,951.5 1330.6,951.5 1328.3,944.3" fill="#ff6a10"/>
<polygon points="1355,933.8 1361,938.2 1358.7,945.3 1351.2,945.3 1348.9,938.2" fill="#ff6a10"/>
<polygon points="1371.3,927 1377.4,931.4 1375,938.6 1367.5,938.6 1365.2,931.4" fill="#ff6a10"/>
<polygon points="1386.6,911.3 1392.7,915.7 1390.3,922.8 1382.8,922.8 1380.5,915.7" fill="#ff6a10"/>
<polygon points="1397.7,891.6 1403.7,896 1401.4,903.1 1393.9,903.1 1391.6,896" fill="#ff6a10"/>
<polygon points="1407.2,838.1 1413.2,842.5 1410.9,849.7 1403.4,849.7 1401.1,842.5" fill="#ff6a10"/>
<polygon points="1414.5,792.3 1420.6,796.7 1418.3,803.8 1410.8,803.8 1408.5,796.7" fill="#ff6a10"/>
<polygon points="1420.3,772.2 1426.4,776.6 1424.1,783.8 1416.6,783.8 1414.3,776.6" fill="#ff6a10"/>
<polygon points="1424,757.6 1430.1,762 1427.8,769.2 1420.3,769.2 1418,762" fill="#ff6a10"/>
<polyline points="954.7,1000.8 964,1000.5 973.2,1000.1 982.4,999.8 991.6,999.4 1000.9,999.1 1010.1,998.7 1019.3,998.4 1028.6,998 1037.8,997.7 1047,997.3 1056.2,997 1065.5,996.6 1084.4,995.7 1100.3,994.9 1122.4,993.9 1144.6,992.8 1166.2,991.7 1187.3,990.4 1208.9,989.1 1229.5,987.9 1251.6,986.5 1272.2,985.5 1290.6,982.2 1312.2,978.9 1334.4,972.7 1355,961 1371.3,944 1386.6,911.2 1397.7,870.8 1407.2,820.6 1414.5,774.6 1420.3,733.6 1424,712.9" fill="none" stroke="#7a4a4a" stroke-width="1.6" stroke-linejoin="round" stroke-linecap="round" />
<polygon points="960.5,1001.4 957.6,1006.4 951.8,1006.4 948.9,1001.4 951.8,996.4 957.6,996.4" fill="#7a4a4a"/>
<polygon points="969.8,1000.2 966.9,1005.2 961.1,1005.2 958.2,1000.2 961.1,995.2 966.9,995.2" fill="#7a4a4a"/>
<polygon points="979,1000.4 976.1,1005.4 970.3,1005.4 967.4,1000.4 970.3,995.4 976.1,995.4" fill="#7a4a4a"/>
<polygon points="988.2,999.5 985.3,1004.5 979.5,1004.5 976.6,999.5 979.5,994.5 985.3,994.5" fill="#7a4a4a"/>
<polygon points="997.4,999.8 994.5,1004.8 988.7,1004.8 985.8,999.8 988.7,994.8 994.5,994.8" fill="#7a4a4a"/>
<polygon points="1006.7,999.2 1003.8,1004.2 998,1004.2 995.1,999.2 998,994.2 1003.8,994.2" fill="#7a4a4a"/>
<polygon points="1015.9,998.5 1013,1003.5 1007.2,1003.5 1004.3,998.5 1007.2,993.5 1013,993.5" fill="#7a4a4a"/>
<polygon points="1025.1,998 1022.2,1003 1016.4,1003 1013.5,998 1016.4,993 1022.2,993" fill="#7a4a4a"/>
<polygon points="1034.4,998.3 1031.5,1003.3 1025.7,1003.3 1022.8,998.3 1025.7,993.3 1031.5,993.3" fill="#7a4a4a"/>
<polygon points="1043.6,997.2 1040.7,1002.2 1034.9,1002.2 1032,997.2 1034.9,992.1 1040.7,992.1" fill="#7a4a4a"/>
<polygon points="1052.8,997 1049.9,1002 1044.1,1002 1041.2,997 1044.1,992 1049.9,992" fill="#7a4a4a"/>
<polygon points="1062,997 1059.1,1002.1 1053.3,1002.1 1050.4,997 1053.3,992 1059.1,992" fill="#7a4a4a"/>
<polygon points="1071.3,997 1068.4,1002 1062.6,1002 1059.7,997 1062.6,992 1068.4,992" fill="#7a4a4a"/>
<polygon points="1090.2,995.7 1087.3,1000.8 1081.5,1000.8 1078.6,995.7 1081.5,990.7 1087.3,990.7" fill="#7a4a4a"/>
<polygon points="1106.1,994.9 1103.2,1000 1097.4,1000 1094.5,994.9 1097.4,989.9 1103.2,989.9" fill="#7a4a4a"/>
<polygon points="1128.2,993.9 1125.3,998.9 1119.5,998.9 1116.6,993.9 1119.5,988.8 1125.3,988.8" fill="#7a4a4a"/>
<polygon points="1150.4,992.8 1147.5,997.8 1141.7,997.8 1138.8,992.8 1141.7,987.7 1147.5,987.7" fill="#7a4a4a"/>
<polygon points="1172,991.7 1169.1,996.7 1163.3,996.7 1160.4,991.7 1163.3,986.7 1169.1,986.7" fill="#7a4a4a"/>
<polygon points="1193.1,990.4 1190.2,995.4 1184.4,995.4 1181.5,990.4 1184.4,985.4 1190.2,985.4" fill="#7a4a4a"/>
<polygon points="1214.7,989.1 1211.8,994.1 1206,994.1 1203.1,989.1 1206,984.1 1211.8,984.1" fill="#7a4a4a"/>
<polygon points="1235.3,987.9 1232.4,992.9 1226.6,992.9 1223.7,987.9 1226.6,982.8 1232.4,982.8" fill="#7a4a4a"/>
<polygon points="1257.4,986.5 1254.5,991.6 1248.7,991.6 1245.8,986.5 1248.7,981.5 1254.5,981.5" fill="#7a4a4a"/>
<polygon points="1278,985.5 1275.1,990.5 1269.3,990.5 1266.4,985.5 1269.3,980.5 1275.1,980.5" fill="#7a4a4a"/>
<polygon points="1296.4,982.2 1293.5,987.3 1287.7,987.3 1284.8,982.2 1287.7,977.2 1293.5,977.2" fill="#7a4a4a"/>
<polygon points="1318,978.9 1315.1,984 1309.3,984 1306.4,978.9 1309.3,973.9 1315.1,973.9" fill="#7a4a4a"/>
<polygon points="1340.2,972.7 1337.3,977.7 1331.5,977.7 1328.6,972.7 1331.5,967.7 1337.3,967.7" fill="#7a4a4a"/>
<polygon points="1360.8,961 1357.9,966 1352.1,966 1349.2,961 1352.1,955.9 1357.9,955.9" fill="#7a4a4a"/>
<polygon points="1377.1,944 1374.2,949 1368.4,949 1365.5,944 1368.4,938.9 1374.2,938.9" fill="#7a4a4a"/>
<polygon points="1392.4,911.2 1389.5,916.2 1383.7,916.2 1380.8,911.2 1383.7,906.2 1389.5,906.2" fill="#7a4a4a"/>
<polygon points="1403.5,870.8 1400.6,875.9 1394.8,875.9 1391.9,870.8 1394.8,865.8 1400.6,865.8" fill="#7a4a4a"/>
<polygon points="1413,820.6 1410.1,825.6 1404.3,825.6 1401.4,820.6 1404.3,815.6 1410.1,815.6" fill="#7a4a4a"/>
<polygon points="1420.3,774.6 1417.4,779.6 1411.6,779.6 1408.7,774.6 1411.6,769.6 1417.4,769.6" fill="#7a4a4a"/>
<polygon points="1426.1,733.6 1423.2,738.6 1417.4,738.6 1414.5,733.6 1417.4,728.6 1423.2,728.6" fill="#7a4a4a"/>
<polygon points="1429.8,712.9 1426.9,718 1421.1,718 1418.2,712.9 1421.1,707.9 1426.9,707.9" fill="#7a4a4a"/>
<polyline points="923.1,1015.1 932.3,1015 941.5,1015 950.8,1015 960,1015 969.2,1014.9 978.5,1014.9 987.7,1014.9 996.9,1014.8 1006.1,1014.8 1015.4,1014.8 1024.6,1014.8 1033.8,1014.7 1043.1,1014.7 1052.3,1014.7 1061.5,1014.7 1084.4,1014.6 1100.3,1014.5 1122.4,1014.5 1144.6,1014.4 1166.2,1014.3 1187.3,1014.1 1208.9,1013.8 1229.5,1013.6 1251.6,1013.3 1272.2,1013.1 1290.6,1012.9 1312.2,1012.6 1334.4,1012.1 1355,1011.3 1371.3,1010.7 1386.6,1007.5 1397.7,1004.6 1407.2,1002.1 1414.5,1000.1 1420.3,998.5 1424,997.6" fill="none" stroke="#4d4d4d" stroke-width="1.6" stroke-linejoin="round" stroke-linecap="round" />
<rect x="917.9" y="1010" width="10.4" height="10.4" fill="#4d4d4d"/>
<rect x="927.1" y="1009.6" width="10.4" height="10.4" fill="#4d4d4d"/>
<rect x="936.3" y="1010.3" width="10.4" height="10.4" fill="#4d4d4d"/>
<rect x="945.6" y="1009.4" width="10.4" height="10.4" fill="#4d4d4d"/>
<rect x="954.8" y="1009.2" width="10.4" height="10.4" fill="#4d4d4d"/>
<rect x="964" y="1009.4" width="10.4" height="10.4" fill="#4d4d4d"/>
<rect x="973.2" y="1009.6" width="10.4" height="10.4" fill="#4d4d4d"/>
<rect x="982.5" y="1009.1" width="10.4" height="10.4" fill="#4d4d4d"/>
<rect x="991.7" y="1009.2" width="10.4" height="10.4" fill="#4d4d4d"/>
<rect x="1000.9" y="1009.4" width="10.4" height="10.4" fill="#4d4d4d"/>
<rect x="1010.1" y="1009.7" width="10.4" height="10.4" fill="#4d4d4d"/>
<rect x="1019.4" y="1009.1" width="10.4" height="10.4" fill="#4d4d4d"/>
<rect x="1028.6" y="1009.4" width="10.4" height="10.4" fill="#4d4d4d"/>
<rect x="1037.8" y="1010" width="10.4" height="10.4" fill="#4d4d4d"/>
<rect x="1047.1" y="1010" width="10.4" height="10.4" fill="#4d4d4d"/>
<rect x="1056.3" y="1009.6" width="10.4" height="10.4" fill="#4d4d4d"/>
<rect x="1079.2" y="1009.4" width="10.4" height="10.4" fill="#4d4d4d"/>
<rect x="1095" y="1009.3" width="10.4" height="10.4" fill="#4d4d4d"/>
<rect x="1117.2" y="1009.3" width="10.4" height="10.4" fill="#4d4d4d"/>
<rect x="1139.3" y="1009.2" width="10.4" height="10.4" fill="#4d4d4d"/>
<rect x="1161" y="1009.1" width="10.4" height="10.4" fill="#4d4d4d"/>
<rect x="1182" y="1008.9" width="10.4" height="10.4" fill="#4d4d4d"/>
<rect x="1203.7" y="1008.6" width="10.4" height="10.4" fill="#4d4d4d"/>
<rect x="1224.2" y="1008.4" width="10.4" height="10.4" fill="#4d4d4d"/>
<rect x="1246.4" y="1008.1" width="10.4" height="10.4" fill="#4d4d4d"/>
<rect x="1266.9" y="1007.9" width="10.4" height="10.4" fill="#4d4d4d"/>
<rect x="1285.4" y="1007.7" width="10.4" height="10.4" fill="#4d4d4d"/>
<rect x="1307" y="1007.4" width="10.4" height="10.4" fill="#4d4d4d"/>
<rect x="1329.2" y="1006.9" width="10.4" height="10.4" fill="#4d4d4d"/>
<rect x="1349.7" y="1006.1" width="10.4" height="10.4" fill="#4d4d4d"/>
<rect x="1366.1" y="1005.5" width="10.4" height="10.4" fill="#4d4d4d"/>
<rect x="1381.4" y="1002.3" width="10.4" height="10.4" fill="#4d4d4d"/>
<rect x="1392.4" y="999.4" width="10.4" height="10.4" fill="#4d4d4d"/>
<rect x="1401.9" y="996.8" width="10.4" height="10.4" fill="#4d4d4d"/>
<rect x="1409.3" y="994.9" width="10.4" height="10.4" fill="#4d4d4d"/>
<rect x="1415.1" y="993.3" width="10.4" height="10.4" fill="#4d4d4d"/>
<rect x="1418.8" y="992.3" width="10.4" height="10.4" fill="#4d4d4d"/>
<polyline points="954.7,1014 964,1014 973.2,1013.9 982.4,1013.9 991.6,1013.9 1000.9,1013.9 1010.1,1013.9 1019.3,1013.9 1028.6,1013.8 1037.8,1013.8 1047,1013.8 1056.2,1013.8 1065.5,1013.8 1084.4,1013.8 1100.3,1013.7 1122.4,1013.7 1144.6,1013.6 1166.2,1013.6 1187.3,1013.4 1208.9,1013.1 1229.5,1012.9 1251.6,1012.6 1272.2,1012.4 1290.6,1012.2 1312.2,1011.9 1334.4,1011.3 1355,1010.4 1371.3,1008.5 1386.6,1001.8 1397.7,999.7 1407.2,998 1414.5,996.7 1420.3,995.7 1424,995" fill="none" stroke="#ee3b3b" stroke-width="1.6" stroke-linejoin="round" stroke-linecap="round" />
<polygon points="960.5,1014.2 957.6,1019.2 951.8,1019.2 948.9,1014.2 951.8,1009.2 957.6,1009.2" fill="#ee3b3b"/>
<polygon points="969.8,1014.1 966.9,1019.1 961.1,1019.1 958.2,1014.1 961.1,1009 966.9,1009" fill="#ee3b3b"/>
<polygon points="979,1013.5 976.1,1018.5 970.3,1018.5 967.4,1013.5 970.3,1008.5 976.1,1008.5" fill="#ee3b3b"/>
<polygon points="988.2,1013.4 985.3,1018.4 979.5,1018.4 976.6,1013.4 979.5,1008.3 985.3,1008.3" fill="#ee3b3b"/>
<polygon points="997.4,1013.3 994.5,1018.4 988.7,1018.4 985.8,1013.3 988.7,1008.3 994.5,1008.3" fill="#ee3b3b"/>
<polygon points="1006.7,1014.4 1003.8,1019.4 998,1019.4 995.1,1014.4 998,1009.4 1003.8,1009.4" fill="#ee3b3b"/>
<polygon points="1015.9,1014.1 1013,1019.1 1007.2,1019.1 1004.3,1014.1 1007.2,1009.1 1013,1009.1" fill="#ee3b3b"/>
<polygon points="1025.1,1014.4 1022.2,1019.4 1016.4,1019.4 1013.5,1014.4 1016.4,1009.4 1022.2,1009.4" fill="#ee3b3b"/>
<polygon points="1034.4,1013.3 1031.5,1018.3 1025.7,1018.3 1022.8,1013.3 1025.7,1008.3 1031.5,1008.3" fill="#ee3b3b"/>
<polygon points="1043.6,1014 1040.7,1019 1034.9,1019 1032,1014 1034.9,1009 1040.7,1009" fill="#ee3b3b"/>
<polygon points="1052.8,1013.8 1049.9,1018.8 1044.1,1018.8 1041.2,1013.8 1044.1,1008.8 1049.9,1008.8" fill="#ee3b3b"/>
<polygon points="1062,1014.1 1059.1,1019.1 1053.3,1019.1 1050.4,1014.1 1053.3,1009.1 1059.1,1009.1" fill="#ee3b3b"/>
<polygon points="1071.3,1013.6 1068.4,1018.6 1062.6,1018.6 1059.7,1013.6 1062.6,1008.5 1068.4,1008.5" fill="#ee3b3b"/>
<polygon points="1090.2,1013.8 1087.3,1018.8 1081.5,1018.8 1078.6,1013.8 1081.5,1008.7 1087.3,1008.7" fill="#ee3b3b"/>
<polygon points="1106.1,1013.7 1103.2,1018.7 1097.4,1018.7 1094.5,1013.7 1097.4,1008.7 1103.2,1008.7" fill="#ee3b3b"/>
<polygon points="1128.2,1013.7 1125.3,1018.7 1119.5,1018.7 1116.6,1013.7 1119.5,1008.7 1125.3,1008.7" fill="#ee3b3b"/>
<polygon points="1150.4,1013.6 1147.5,1018.7 1141.7,1018.7 1138.8,1013.6 1141.7,1008.6 1147.5,1008.6" fill="#ee3b3b"/>
<polygon points="1172,1013.6 1169.1,1018.6 1163.3,1018.6 1160.4,1013.6 1163.3,1008.6 1169.1,1008.6" fill="#ee3b3b"/>
<polygon points="1193.1,1013.4 1190.2,1018.4 1184.4,1018.4 1181.5,1013.4 1184.4,1008.3 1190.2,1008.3" fill="#ee3b3b"/>
<polygon points="1214.7,1013.1 1211.8,1018.1 1206,1018.1 1203.1,1013.1 1206,1008.1 1211.8,1008.1" fill="#ee3b3b"/>
<polygon points="1235.3,1012.9 1232.4,1017.9 1226.6,1017.9 1223.7,1012.9 1226.6,1007.9 1232.4,1007.9" fill="#ee3b3b"/>
<polygon points="1257.4,1012.6 1254.5,1017.6 1248.7,1017.6 1245.8,1012.6 1248.7,1007.6 1254.5,1007.6" fill="#ee3b3b"/>
<polygon points="1278,1012.4 1275.1,1017.4 1269.3,1017.4 1266.4,1012.4 1269.3,1007.4 1275.1,1007.4" fill="#ee3b3b"/>
<polygon points="1296.4,1012.2 1293.5,1017.2 1287.7,1017.2 1284.8,1012.2 1287.7,1007.1 1293.5,1007.1" fill="#ee3b3b"/>
<polygon points="1318,1011.9 1315.1,1016.9 1309.3,1016.9 1306.4,1011.9 1309.3,1006.9 1315.1,1006.9" fill="#ee3b3b"/>
<polygon points="1340.2,1011.3 1337.3,1016.3 1331.5,1016.3 1328.6,1011.3 1331.5,1006.3 1337.3,1006.3" fill="#ee3b3b"/>
<polygon points="1360.8,1010.4 1357.9,1015.4 1352.1,1015.4 1349.2,1010.4 1352.1,1005.3 1357.9,1005.3" fill="#ee3b3b"/>
<polygon points="1377.1,1008.5 1374.2,1013.5 1368.4,1013.5 1365.5,1008.5 1368.4,1003.5 1374.2,1003.5" fill="#ee3b3b"/>
<polygon points="1392.4,1001.8 1389.5,1006.8 1383.7,1006.8 1380.8,1001.8 1383.7,996.8 1389.5,996.8" fill="#ee3b3b"/>
<polygon points="1403.5,999.7 1400.6,1004.7 1394.8,1004.7 1391.9,999.7 1394.8,994.7 1400.6,994.7" fill="#ee3b3b"/>
<polygon points="1413,998 1410.1,1003 1404.3,1003 1401.4,998 1404.3,993 1410.1,993" fill="#ee3b3b"/>
<polygon points="1420.3,996.7 1417.4,1001.7 1411.6,1001.7 1408.7,996.7 1411.6,991.7 1417.4,991.7" fill="#ee3b3b"/>
<polygon points="1426.1,995.7 1423.2,1000.7 1417.4,1000.7 1414.5,995.7 1417.4,990.6 1423.2,990.6" fill="#ee3b3b"/>
<polygon points="1429.8,995 1426.9,1000 1421.1,1000 1418.2,995 1421.1,990 1426.9,990" fill="#ee3b3b"/>
</g>
<line x1="1200.3" y1="606" x2="1200.3" y2="928.7" stroke="#000" stroke-width="2" stroke-dasharray="2 2"/>
<polygon points="1200.5,598 1197,607 1204,607" fill="#000"/>
<rect x="902" y="577.8" width="580.6" height="475" fill="none" stroke="#000" stroke-width="2"/>
<line x1="893.6" y1="1015.8" x2="902" y2="1015.8" stroke="#000" stroke-width="2" />
<text x="882" y="1021.4" font-size="19.5" font-weight="normal" text-anchor="end" fill="#222" letter-spacing="-1.1">0</text>
<line x1="893.6" y1="942.8" x2="902" y2="942.8" stroke="#000" stroke-width="2" />
<text x="882" y="948.4" font-size="19.5" font-weight="normal" text-anchor="end" fill="#222" letter-spacing="-1.1">20</text>
<line x1="893.6" y1="869.8" x2="902" y2="869.8" stroke="#000" stroke-width="2" />
<text x="882" y="875.4" font-size="19.5" font-weight="normal" text-anchor="end" fill="#222" letter-spacing="-1.1">40</text>
<line x1="893.6" y1="796.9" x2="902" y2="796.9" stroke="#000" stroke-width="2" />
<text x="882" y="802.5" font-size="19.5" font-weight="normal" text-anchor="end" fill="#222" letter-spacing="-1.1">60</text>
<line x1="893.6" y1="723.9" x2="902" y2="723.9" stroke="#000" stroke-width="2" />
<text x="882" y="729.5" font-size="19.5" font-weight="normal" text-anchor="end" fill="#222" letter-spacing="-1.1">80</text>
<line x1="893.6" y1="650.9" x2="902" y2="650.9" stroke="#000" stroke-width="2" />
<text x="882" y="656.5" font-size="19.5" font-weight="normal" text-anchor="end" fill="#222" letter-spacing="-1.1">100</text>
<line x1="893.6" y1="577.9" x2="902" y2="577.9" stroke="#000" stroke-width="2" />
<text x="882" y="583.5" font-size="19.5" font-weight="normal" text-anchor="end" fill="#222" letter-spacing="-1.1">120</text>
<line x1="897.8" y1="1052.3" x2="902" y2="1052.3" stroke="#000" stroke-width="2" />
<line x1="897.8" y1="979.3" x2="902" y2="979.3" stroke="#000" stroke-width="2" />
<line x1="897.8" y1="906.3" x2="902" y2="906.3" stroke="#000" stroke-width="2" />
<line x1="897.8" y1="833.3" x2="902" y2="833.3" stroke="#000" stroke-width="2" />
<line x1="897.8" y1="760.4" x2="902" y2="760.4" stroke="#000" stroke-width="2" />
<line x1="897.8" y1="687.4" x2="902" y2="687.4" stroke="#000" stroke-width="2" />
<line x1="897.8" y1="614.4" x2="902" y2="614.4" stroke="#000" stroke-width="2" />
<line x1="902" y1="1053" x2="902" y2="1061.6" stroke="#000" stroke-width="2" />
<text x="902" y="1086.5" font-size="24.5" font-weight="bold" text-anchor="middle" fill="#111" letter-spacing="-0.5">0.0</text>
<line x1="954.7" y1="1053" x2="954.7" y2="1061.6" stroke="#000" stroke-width="2" />
<text x="954.7" y="1086.5" font-size="24.5" font-weight="bold" text-anchor="middle" fill="#111" letter-spacing="-0.5">0.1</text>
<line x1="1007.5" y1="1053" x2="1007.5" y2="1061.6" stroke="#000" stroke-width="2" />
<text x="1007.5" y="1086.5" font-size="24.5" font-weight="bold" text-anchor="middle" fill="#111" letter-spacing="-0.5">0.2</text>
<line x1="1060.2" y1="1053" x2="1060.2" y2="1061.6" stroke="#000" stroke-width="2" />
<text x="1060.2" y="1086.5" font-size="24.5" font-weight="bold" text-anchor="middle" fill="#111" letter-spacing="-0.5">0.3</text>
<line x1="1112.9" y1="1053" x2="1112.9" y2="1061.6" stroke="#000" stroke-width="2" />
<text x="1112.9" y="1086.5" font-size="24.5" font-weight="bold" text-anchor="middle" fill="#111" letter-spacing="-0.5">0.4</text>
<line x1="1165.7" y1="1053" x2="1165.7" y2="1061.6" stroke="#000" stroke-width="2" />
<text x="1165.7" y="1086.5" font-size="24.5" font-weight="bold" text-anchor="middle" fill="#111" letter-spacing="-0.5">0.5</text>
<line x1="1218.4" y1="1053" x2="1218.4" y2="1061.6" stroke="#000" stroke-width="2" />
<text x="1218.4" y="1086.5" font-size="24.5" font-weight="bold" text-anchor="middle" fill="#111" letter-spacing="-0.5">0.6</text>
<line x1="1271.1" y1="1053" x2="1271.1" y2="1061.6" stroke="#000" stroke-width="2" />
<text x="1271.1" y="1086.5" font-size="24.5" font-weight="bold" text-anchor="middle" fill="#111" letter-spacing="-0.5">0.7</text>
<line x1="1323.8" y1="1053" x2="1323.8" y2="1061.6" stroke="#000" stroke-width="2" />
<text x="1323.8" y="1086.5" font-size="24.5" font-weight="bold" text-anchor="middle" fill="#111" letter-spacing="-0.5">0.8</text>
<line x1="1376.6" y1="1053" x2="1376.6" y2="1061.6" stroke="#000" stroke-width="2" />
<text x="1376.6" y="1086.5" font-size="24.5" font-weight="bold" text-anchor="middle" fill="#111" letter-spacing="-0.5">0.9</text>
<line x1="1429.3" y1="1053" x2="1429.3" y2="1061.6" stroke="#000" stroke-width="2" />
<text x="1429.3" y="1086.5" font-size="24.5" font-weight="bold" text-anchor="middle" fill="#111" letter-spacing="-0.5">1.0</text>
<line x1="1482" y1="1053" x2="1482" y2="1061.6" stroke="#000" stroke-width="2" />
<text x="1482" y="1086.5" font-size="24.5" font-weight="bold" text-anchor="middle" fill="#111" letter-spacing="-0.5">1.1</text>
<line x1="928.4" y1="1053" x2="928.4" y2="1057.6" stroke="#000" stroke-width="2" />
<line x1="981.1" y1="1053" x2="981.1" y2="1057.6" stroke="#000" stroke-width="2" />
<line x1="1033.8" y1="1053" x2="1033.8" y2="1057.6" stroke="#000" stroke-width="2" />
<line x1="1086.6" y1="1053" x2="1086.6" y2="1057.6" stroke="#000" stroke-width="2" />
<line x1="1139.3" y1="1053" x2="1139.3" y2="1057.6" stroke="#000" stroke-width="2" />
<line x1="1192" y1="1053" x2="1192" y2="1057.6" stroke="#000" stroke-width="2" />
<line x1="1244.7" y1="1053" x2="1244.7" y2="1057.6" stroke="#000" stroke-width="2" />
<line x1="1297.5" y1="1053" x2="1297.5" y2="1057.6" stroke="#000" stroke-width="2" />
<line x1="1350.2" y1="1053" x2="1350.2" y2="1057.6" stroke="#000" stroke-width="2" />
<line x1="1402.9" y1="1053" x2="1402.9" y2="1057.6" stroke="#000" stroke-width="2" />
<line x1="1455.7" y1="1053" x2="1455.7" y2="1057.6" stroke="#000" stroke-width="2" />
<line x1="968.3" y1="599.7" x2="1022.6" y2="599.7" stroke="#1f63e6" stroke-width="2.6" />
<polygon points="996.5,592.6 989.7,604.4 1003.3,604.4" fill="#1f63e6"/>
<text x="1031.2" y="606" font-size="24.2" font-weight="normal" text-anchor="start" fill="#000" >CN (Ads.)</text>
<line x1="968.3" y1="635.2" x2="1022.6" y2="635.2" stroke="#2fa36b" stroke-width="2.6" />
<polygon points="996.5,642.3 989.7,630.6 1003.3,630.6" fill="#2fa36b"/>
<text x="1031.2" y="641.5" font-size="24.2" font-weight="normal" text-anchor="start" fill="#000" >CN (Eds.)</text>
<line x1="968.3" y1="670.7" x2="1022.6" y2="670.7" stroke="#8c8c17" stroke-width="2.6" />
<polygon points="996.5,663 998.3,668.2 1003.9,668.3 999.4,671.7 1001.1,677 996.5,673.8 991.9,677 993.6,671.7 989.1,668.3 994.7,668.2" fill="#8c8c17"/>
<text x="1031.2" y="677" font-size="24.2" font-weight="normal" text-anchor="start" fill="#000" >TCNBC (Ads.)</text>
<line x1="968.3" y1="707.2" x2="1022.6" y2="707.2" stroke="#ff6a10" stroke-width="2.6" />
<polygon points="996.5,700.4 1003,705.1 1000.5,712.7 992.5,712.7 990,705.1" fill="#ff6a10"/>
<text x="1031.2" y="713.5" font-size="24.2" font-weight="normal" text-anchor="start" fill="#000" >TCNBC (Eds.)</text>
<line x1="968.3" y1="742.7" x2="1022.6" y2="742.7" stroke="#1cc6c9" stroke-width="2.6" />
<polygon points="1003.6,742.7 991.9,735.9 991.9,749.5" fill="#1cc6c9"/>
<text x="1031.2" y="749" font-size="24.2" font-weight="normal" text-anchor="start" fill="#000" >TCN (Ads.)</text>
<line x1="968.3" y1="778.4" x2="1022.6" y2="778.4" stroke="#7a4a4a" stroke-width="2.6" />
<polygon points="1002.7,778.4 999.6,783.8 993.4,783.8 990.3,778.4 993.4,773 999.6,773" fill="#7a4a4a"/>
<text x="1031.2" y="784.7" font-size="24.2" font-weight="normal" text-anchor="start" fill="#000" >TCN (Eds.)</text>
<line x1="968.3" y1="814.9" x2="1022.6" y2="814.9" stroke="#b77ee8" stroke-width="2.6" />
<polygon points="996.5,807.5 1003.9,814.9 996.5,822.3 989.1,814.9" fill="#b77ee8"/>
<text x="1031.2" y="821.2" font-size="24.2" font-weight="normal" text-anchor="start" fill="#000" >BC (Ads.)</text>
<line x1="968.3" y1="850.9" x2="1022.6" y2="850.9" stroke="#d39e14" stroke-width="2.6" />
<polygon points="989.4,850.9 1001.1,844.1 1001.1,857.7" fill="#d39e14"/>
<text x="1031.2" y="857.2" font-size="24.2" font-weight="normal" text-anchor="start" fill="#000" >BC (Eds.)</text>
<line x1="968.3" y1="886" x2="1022.6" y2="886" stroke="#4d4d4d" stroke-width="2.6" />
<rect x="990.9" y="880.4" width="11.2" height="11.2" fill="#4d4d4d"/>
<text x="1031.2" y="892.3" font-size="24.2" font-weight="normal" text-anchor="start" fill="#000" >T (Ads.)</text>
<line x1="968.3" y1="921.4" x2="1022.6" y2="921.4" stroke="#ee3b3b" stroke-width="2.6" />
<polygon points="1002.7,921.4 999.6,926.8 993.4,926.8 990.3,921.4 993.4,916 999.6,916" fill="#ee3b3b"/>
<text x="1031.2" y="927.7" font-size="24.2" font-weight="normal" text-anchor="start" fill="#000" >T (Eds.)</text>
<text x="815" y="612" font-size="38" font-weight="bold" text-anchor="start" fill="#000" >c)</text>
<text transform="translate(830.5,816.5) rotate(-90)" x="0" y="12" font-size="25" font-weight="bold" text-anchor="middle" >Volume adsorbed (cm<tspan dy="-8" font-size="15">3</tspan><tspan dy="8">/g STP)</tspan></text>
<text x="1056.4" y="1127.3" font-size="24" font-weight="bold" text-anchor="start" fill="#000" letter-spacing="0.05">Relative pressure (P/P<tspan dy="6" font-size="17">o</tspan><tspan dy="-6">)</tspan></text>
</svg></body></html>
